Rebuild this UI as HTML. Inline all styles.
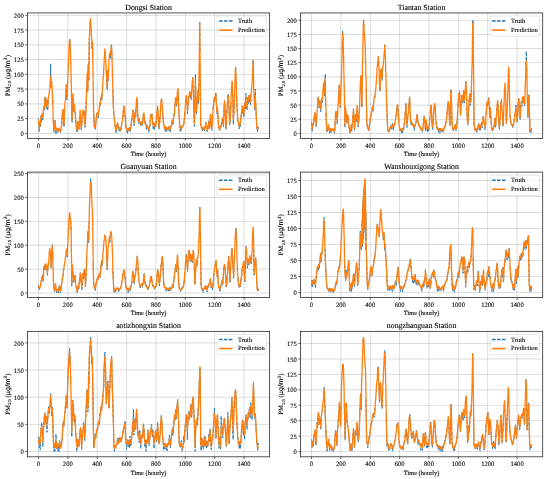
<!DOCTYPE html>
<html><head><meta charset="utf-8"><title>PM2.5 prediction</title>
<style>
html,body{margin:0;padding:0;background:#fff;width:550px;height:479px;overflow:hidden}
svg{display:block;text-rendering:geometricPrecision}
text{stroke:#000;stroke-width:0.1px}
.gr{stroke:#b0b0b0;stroke-width:0.5;opacity:0.9}
.fr{fill:none;stroke:#2a2a2a;stroke-width:0.8}
.tk{stroke:#2a2a2a;stroke-width:0.7}
.tl{font-family:"Liberation Serif",serif;font-size:6.6px;fill:#000}
.xl{font-family:"Liberation Serif",serif;font-size:6.35px;fill:#000}
.lt{font-family:"Liberation Serif",serif;font-size:6.5px;fill:#000}
.tt{font-family:"Liberation Serif",serif;font-size:7.8px;fill:#000}
.yl{font-family:"Liberation Serif",serif;font-size:6.8px;fill:#000}
.mu{font-family:"DejaVu Sans",sans-serif;font-size:6.4px}
.mu3{font-family:"DejaVu Sans",sans-serif;font-size:4.5px}
.lg{fill:#fff;fill-opacity:0.8;stroke:#ccc;stroke-width:0.5}
</style></head><body>
<svg width="550" height="479" viewBox="0 0 550 479">
<rect width="550" height="479" fill="#fff"/>
<clipPath id="c0"><rect x="27.44" y="12.95" width="242.2" height="125.45"/></clipPath>
<line x1="38.45" y1="12.95" x2="38.45" y2="138.4" class="gr"/>
<line x1="67.82" y1="12.95" x2="67.82" y2="138.4" class="gr"/>
<line x1="97.19" y1="12.95" x2="97.19" y2="138.4" class="gr"/>
<line x1="126.56" y1="12.95" x2="126.56" y2="138.4" class="gr"/>
<line x1="155.93" y1="12.95" x2="155.93" y2="138.4" class="gr"/>
<line x1="185.3" y1="12.95" x2="185.3" y2="138.4" class="gr"/>
<line x1="214.67" y1="12.95" x2="214.67" y2="138.4" class="gr"/>
<line x1="244.04" y1="12.95" x2="244.04" y2="138.4" class="gr"/>
<line x1="27.44" y1="133.4" x2="269.64" y2="133.4" class="gr"/>
<line x1="27.44" y1="118.64" x2="269.64" y2="118.64" class="gr"/>
<line x1="27.44" y1="103.88" x2="269.64" y2="103.88" class="gr"/>
<line x1="27.44" y1="89.12" x2="269.64" y2="89.12" class="gr"/>
<line x1="27.44" y1="74.36" x2="269.64" y2="74.36" class="gr"/>
<line x1="27.44" y1="59.6" x2="269.64" y2="59.6" class="gr"/>
<line x1="27.44" y1="44.84" x2="269.64" y2="44.84" class="gr"/>
<line x1="27.44" y1="30.08" x2="269.64" y2="30.08" class="gr"/>
<line x1="27.44" y1="15.32" x2="269.64" y2="15.32" class="gr"/>
<g clip-path="url(#c0)">
<polyline points="38.45,118.86 38.6,121.66 38.74,123.25 38.89,125.35 39.04,128.66 39.18,131.41 39.33,128.53 39.48,126.58 39.62,123.9 39.77,123.15 39.92,121.98 40.07,123.98 40.21,125 40.36,126.49 40.51,124.72 40.65,120.46 40.8,118.23 40.95,117.66 41.09,115.57 41.24,117.5 41.39,118.61 41.53,121.48 41.68,120.16 41.83,118.23 41.97,116.61 42.12,114.28 42.27,115.26 42.41,115.31 42.56,115.66 42.71,118.82 42.86,119.83 43,115.91 43.15,113.79 43.3,111.48" fill="none" stroke="#1f77b4" stroke-width="1.0" stroke-linejoin="round" stroke-dasharray="3.5 1.5"/>
<polyline points="43.74,109.05 43.88,106.6 44.03,105.65 44.18,106.95 44.32,108.1 44.47,108.71 44.62,109.91 44.76,104.83 44.91,100.81 45.06,96.92 45.21,99.34 45.35,99.76 45.5,102.11 45.65,105.6 45.79,103.92 45.94,100.98 46.09,98.91 46.23,100.48 46.38,102.24 46.53,106.99 46.67,108.85 46.82,106.43 46.97,103.04 47.11,102 47.26,100.81 47.41,103.18 47.55,106.44 47.7,110.4 47.85,106.72 48,103.76 48.14,99.95 48.29,97.59 48.44,97.14 48.58,97.11" fill="none" stroke="#1f77b4" stroke-width="1.0" stroke-linejoin="round" stroke-dasharray="3.5 1.5"/>
<polyline points="50.2,86.87 50.34,79.78 50.49,71.06 50.64,63.89 50.79,70.37 50.93,77.83 51.08,84.24 51.23,87.41 51.37,85.21 51.52,82.7 51.67,81.2" fill="none" stroke="#1f77b4" stroke-width="1.0" stroke-linejoin="round" stroke-dasharray="3.5 1.5"/>
<polyline points="52.4,94.6 52.55,96.4 52.69,100.11 52.84,104.22" fill="none" stroke="#1f77b4" stroke-width="1.0" stroke-linejoin="round" stroke-dasharray="3.5 1.5"/>
<polyline points="53.28,121.77 53.43,124.07 53.58,127.48 53.72,130.31 53.87,132.31 54.02,130.4 54.16,128.65 54.31,127.04 54.46,126.36 54.6,125.49 54.75,123.83 54.9,122.42 55.04,120.17 55.19,123.84 55.34,127.16 55.48,130.52 55.63,133.22 55.78,131.55 55.93,130.57 56.07,128.86 56.22,128.23 56.37,128.35 56.51,130.14 56.66,130.9 56.81,132.28 56.95,133.22 57.1,131.91 57.25,130.7 57.39,129.89 57.54,129.34 57.69,129.4 57.83,130.65 57.98,129.54 58.13,129.8 58.27,131.93 58.42,131.97 58.57,131.49 58.72,130.37 58.86,130 59.01,129.12 59.16,129.79 59.3,128.98 59.45,129.83 59.6,129.83 59.74,129.35 59.89,128.87 60.04,129.97 60.18,130.22 60.33,131.53 60.48,132.69 60.62,131.91 60.77,130.68 60.92,129.72 61.06,127.9" fill="none" stroke="#1f77b4" stroke-width="1.0" stroke-linejoin="round" stroke-dasharray="3.5 1.5"/>
<polyline points="61.51,125.48 61.65,124.58 61.8,123.39 61.95,122.4 62.09,118.44 62.24,116.03 62.39,113.17 62.53,111.28 62.68,111.61 62.83,110.9 62.97,109.35 63.12,111.58 63.27,115.59 63.41,117.81 63.56,118.67 63.71,122.16 63.86,125 64,127.19 64.15,123.08 64.3,118.51 64.44,114.18 64.59,110.34" fill="none" stroke="#1f77b4" stroke-width="1.0" stroke-linejoin="round" stroke-dasharray="3.5 1.5"/>
<polyline points="65.91,92.02 66.06,89.97 66.2,86.94 66.35,84.61 66.5,86.85 66.65,90.74 66.79,96.19 66.94,99.85 67.09,95 67.23,91.29 67.38,86.59" fill="none" stroke="#1f77b4" stroke-width="1.0" stroke-linejoin="round" stroke-dasharray="3.5 1.5"/>
<polyline points="69.58,39.62 69.73,39.25 69.88,39.64 70.02,42.67 70.17,47.16" fill="none" stroke="#1f77b4" stroke-width="1.0" stroke-linejoin="round" stroke-dasharray="3.5 1.5"/>
<polyline points="71.49,94.49 71.64,101.18 71.78,108.53 71.93,114.98 72.08,122.36 72.23,109.7 72.37,97.76 72.52,97.3" fill="none" stroke="#1f77b4" stroke-width="1.0" stroke-linejoin="round" stroke-dasharray="3.5 1.5"/>
<polyline points="73.25,99.16 73.4,101.37 73.55,105.65 73.69,111.59 73.84,109.31 73.99,107.97" fill="none" stroke="#1f77b4" stroke-width="1.0" stroke-linejoin="round" stroke-dasharray="3.5 1.5"/>
<polyline points="74.43,106.21 74.58,107.5 74.72,109 74.87,111.64 75.02,113.16 75.16,113.83 75.31,113.4 75.46,115.77 75.6,118.92 75.75,120.89 75.9,122.47 76.04,125.03 76.19,126.37 76.34,126.91 76.48,127.07 76.63,128.66 76.78,129.89 76.92,132.01 77.07,130.61 77.22,131.34 77.37,129.41 77.51,129.17 77.66,128.78 77.81,126.77 77.95,122.65 78.1,120.77 78.25,121.96 78.39,124.68 78.54,126.83 78.69,130.47 78.83,129.45 78.98,126.48 79.13,124.83" fill="none" stroke="#1f77b4" stroke-width="1.0" stroke-linejoin="round" stroke-dasharray="3.5 1.5"/>
<polyline points="79.42,123.15 79.57,119.93 79.71,117.85" fill="none" stroke="#1f77b4" stroke-width="1.0" stroke-linejoin="round" stroke-dasharray="3.5 1.5"/>
<polyline points="80.01,113.22 80.16,112.52 80.3,110.19 80.45,113.79 80.6,117.9 80.74,122.65 80.89,124.28 81.04,126.61 81.18,128.83 81.33,130.17 81.48,128.15 81.62,126.06 81.77,124.57 81.92,123.04 82.06,119.53 82.21,118.18" fill="none" stroke="#1f77b4" stroke-width="1.0" stroke-linejoin="round" stroke-dasharray="3.5 1.5"/>
<polyline points="82.95,111.37 83.09,113.11 83.24,113.01 83.39,115.68 83.53,113.56 83.68,112.77 83.83,112.6 83.97,110.6 84.12,112.62 84.27,113.74 84.41,117.3 84.56,118.78 84.71,121.44 84.85,125.64 85,127.32 85.15,123.7 85.3,120.9 85.44,117.43 85.59,114.35 85.74,114.28 85.88,111.78 86.03,109.11 86.18,103.28 86.32,100.19 86.47,94.23" fill="none" stroke="#1f77b4" stroke-width="1.0" stroke-linejoin="round" stroke-dasharray="3.5 1.5"/>
<polyline points="87.35,75.73 87.5,82.7 87.64,87.96 87.79,91.65 87.94,83.04 88.09,72.48 88.23,64.72 88.38,67.79 88.53,70.71 88.67,75.91 88.82,80.98 88.97,68.39 89.11,53.43 89.26,38.96" fill="none" stroke="#1f77b4" stroke-width="1.0" stroke-linejoin="round" stroke-dasharray="3.5 1.5"/>
<polyline points="89.99,26.04 90.14,22.05 90.29,23.34 90.43,18.48 90.58,18.36" fill="none" stroke="#1f77b4" stroke-width="1.0" stroke-linejoin="round" stroke-dasharray="3.5 1.5"/>
<polyline points="91.46,35.88 91.61,39.67 91.76,42.24 91.9,48.76 92.05,48.89 92.2,44.77 92.34,43.47 92.49,42 92.64,50.12 92.78,58.45" fill="none" stroke="#1f77b4" stroke-width="1.0" stroke-linejoin="round" stroke-dasharray="3.5 1.5"/>
<polyline points="93.37,99.06 93.52,109.34 93.67,113.05 93.81,115.42 93.96,119.05 94.11,123.66 94.25,125.95 94.4,126.56 94.55,127.22 94.69,126.63 94.84,125.46 94.99,127.6 95.13,128.25 95.28,129.99 95.43,128.42 95.57,125.63 95.72,123.47 95.87,122.83 96.02,120.69 96.16,119.82 96.31,117.63 96.46,116.82 96.6,116.39 96.75,115.94 96.9,116.05 97.04,114.35 97.19,112.75 97.34,113.94 97.48,112.42 97.63,113.31 97.78,113.15 97.92,114.52 98.07,116.78 98.22,117.8 98.36,114.58 98.51,113.93 98.66,111.63 98.81,110.68 98.95,109.57" fill="none" stroke="#1f77b4" stroke-width="1.0" stroke-linejoin="round" stroke-dasharray="3.5 1.5"/>
<polyline points="99.39,107.4 99.54,105.89 99.69,104.49 99.83,102.5 99.98,102.53 100.13,104.53 100.27,106.62 100.42,104.67 100.57,101.26 100.71,99.8 100.86,98.76 101.01,98.52 101.15,96.92 101.3,96.97 101.45,95.13 101.6,97.28 101.74,99.51 101.89,100.18 102.04,98.43 102.18,94.08 102.33,91.11" fill="none" stroke="#1f77b4" stroke-width="1.0" stroke-linejoin="round" stroke-dasharray="3.5 1.5"/>
<polyline points="106.74,79.35 106.88,84.19 107.03,85.47 107.18,89.8 107.32,82.71 107.47,74.82 107.62,70.1 107.76,72.38 107.91,75.67 108.06,77.05 108.2,80.91 108.35,76.35 108.5,70.92 108.64,70" fill="none" stroke="#1f77b4" stroke-width="1.0" stroke-linejoin="round" stroke-dasharray="3.5 1.5"/>
<polyline points="109.82,53.81 109.97,55.02 110.11,56.96 110.26,58.53 110.41,56.96 110.55,53.27 110.7,50.4" fill="none" stroke="#1f77b4" stroke-width="1.0" stroke-linejoin="round" stroke-dasharray="3.5 1.5"/>
<polyline points="111.14,48.9 111.29,45.81 111.43,47.61 111.58,44.72 111.73,49.72 111.88,53.89 112.02,59.15" fill="none" stroke="#1f77b4" stroke-width="1.0" stroke-linejoin="round" stroke-dasharray="3.5 1.5"/>
<polyline points="112.9,90.23 113.05,96.86 113.2,101.36 113.34,106.9 113.49,109.28 113.64,110.96 113.78,113.25 113.93,115.28 114.08,116.99" fill="none" stroke="#1f77b4" stroke-width="1.0" stroke-linejoin="round" stroke-dasharray="3.5 1.5"/>
<polyline points="114.96,125.05 115.11,126.24 115.25,126.2 115.4,127.34 115.55,128.49 115.69,130.11 115.84,130.3 115.99,132.09 116.13,132.48 116.28,133.22 116.43,131.24 116.57,129.46 116.72,127.51 116.87,127.89 117.01,126.18 117.16,124.97 117.31,124.46 117.46,124.76 117.6,123.57 117.75,124.62 117.9,125.74 118.04,125.98 118.19,126.02 118.34,126.47 118.48,127.12 118.63,127.58 118.78,127.96 118.92,129.43 119.07,131.12 119.22,130.76 119.36,128.93 119.51,127.92 119.66,127.79 119.8,128.7 119.95,127.63 120.1,129.35 120.25,130.01 120.39,131.22 120.54,130.26 120.69,129.71 120.83,129.06 120.98,127.98 121.13,128.16 121.27,127.63 121.42,126.21 121.57,125.85" fill="none" stroke="#1f77b4" stroke-width="1.0" stroke-linejoin="round" stroke-dasharray="3.5 1.5"/>
<polyline points="122.6,117.53 122.74,117.56 122.89,116.51 123.04,114.98 123.18,112.99 123.33,110.25 123.48,109.94 123.62,108.48 123.77,106.84 123.92,105.83 124.06,106.51 124.21,107.23 124.36,108.38 124.5,109.4" fill="none" stroke="#1f77b4" stroke-width="1.0" stroke-linejoin="round" stroke-dasharray="3.5 1.5"/>
<polyline points="124.94,114.67 125.09,116.8 125.24,117.7 125.39,120.74 125.53,122.56 125.68,123.9 125.83,126.49 125.97,128.08 126.12,129.16 126.27,128.7 126.41,128.69 126.56,129.11 126.71,129.43 126.85,130.42 127,130.99 127.15,132.03 127.29,131.88 127.44,133.17 127.59,131.94 127.73,130.28 127.88,129.2 128.03,128.68 128.18,128.41 128.32,128.04 128.47,128.12 128.62,128.78 128.76,130.02 128.91,131.62 129.06,129.79 129.2,129.44 129.35,127.53 129.5,127.99 129.64,127.66 129.79,128.12 129.94,128.79 130.08,130.11 130.23,132.2 130.38,130.84 130.52,129.67 130.67,128.17 130.82,128.26 130.97,126.89 131.11,124.93 131.26,122.73 131.41,122.91 131.55,122.07 131.7,120.33 131.85,119.97 131.99,118.24 132.14,116.65 132.29,115.8 132.43,113.84 132.58,113.59 132.73,112.93 132.87,111.24 133.02,110.18 133.17,112.27 133.32,113.05 133.46,114.66 133.61,115.08 133.76,118.09 133.9,121.85 134.05,125.78 134.2,123.36 134.34,119.21 134.49,118.42" fill="none" stroke="#1f77b4" stroke-width="1.0" stroke-linejoin="round" stroke-dasharray="3.5 1.5"/>
<polyline points="134.93,114.69 135.08,112.93 135.22,111.87 135.37,113.23 135.52,115.66 135.66,118.18 135.81,114.84 135.96,110.13 136.11,107.17" fill="none" stroke="#1f77b4" stroke-width="1.0" stroke-linejoin="round" stroke-dasharray="3.5 1.5"/>
<polyline points="136.84,98.96 136.99,99.69 137.13,99.83 137.28,101.28 137.43,106.69 137.57,113.06 137.72,113.67 137.87,116.08 138.01,117.38 138.16,120.21 138.31,121.04 138.45,121.79 138.6,121.52 138.75,123.59 138.9,122.07 139.04,120.23 139.19,118.54 139.34,118.58 139.48,119.99 139.63,120.8 139.78,120.89 139.92,122.06 140.07,122.2 140.22,123.34 140.36,122.53 140.51,123.65 140.66,125.12 140.8,126.09 140.95,124.2 141.1,123.16 141.25,121.77 141.39,121.72 141.54,121.22 141.69,121.93 141.83,123.28 141.98,123.65 142.13,124.72 142.27,125.81 142.42,123.85 142.57,123.56 142.71,121.34 142.86,121.53 143.01,119.29 143.15,119.15 143.3,115.94 143.45,114.64" fill="none" stroke="#1f77b4" stroke-width="1.0" stroke-linejoin="round" stroke-dasharray="3.5 1.5"/>
<polyline points="144.18,116.32 144.33,117.69 144.48,120.17 144.62,120.75 144.77,122.29 144.92,121.44 145.06,122.37 145.21,123.13 145.36,121.71 145.5,122.4 145.65,123.06 145.8,123.98 145.94,123.97 146.09,126.17 146.24,127.27 146.38,129.15 146.53,129.11 146.68,126.53 146.83,126.7 146.97,126.5 147.12,125.24" fill="none" stroke="#1f77b4" stroke-width="1.0" stroke-linejoin="round" stroke-dasharray="3.5 1.5"/>
<polyline points="148.15,128.93 148.29,129.46 148.44,130.79 148.59,132.49 148.73,131.24 148.88,130.75 149.03,128.64 149.17,129.39 149.32,128.49 149.47,128.43 149.62,126.83 149.76,126.31 149.91,124.64 150.06,122.86 150.2,121.8 150.35,119.67 150.5,117.98 150.64,116.86 150.79,116.27 150.94,113.89 151.08,114.85 151.23,115.2 151.38,117.52 151.52,117.98 151.67,115.86 151.82,115.65 151.97,113.74 152.11,114.74 152.26,117.26 152.41,119.53 152.55,121.36 152.7,123.52 152.85,124.31 152.99,127.71 153.14,128.59 153.29,127.13 153.43,124.08 153.58,123.67 153.73,124.14 153.87,125.93 154.02,128.13 154.17,130.2 154.31,128.2 154.46,126.17 154.61,124.56 154.76,125.02" fill="none" stroke="#1f77b4" stroke-width="1.0" stroke-linejoin="round" stroke-dasharray="3.5 1.5"/>
<polyline points="155.34,124.51 155.49,126.06 155.64,126.86 155.78,125.65 155.93,123.12 156.08,122.4 156.22,120.73 156.37,118.7 156.52,117.16 156.66,115.4 156.81,113.58 156.96,112.83 157.1,111.84 157.25,109.27 157.4,107.63 157.55,106.54 157.69,108.24 157.84,111.11 157.99,111.71 158.13,113.59 158.28,116.96 158.43,119.65 158.57,122.07 158.72,123.45 158.87,127.29 159.01,129.11 159.16,127.88 159.31,124.74 159.45,123.1 159.6,122.58 159.75,120.75 159.89,118.93 160.04,116.74 160.19,115.72 160.34,112.49 160.48,110.28" fill="none" stroke="#1f77b4" stroke-width="1.0" stroke-linejoin="round" stroke-dasharray="3.5 1.5"/>
<polyline points="161.07,103.31 161.22,100.67 161.36,99.34 161.51,100.65 161.66,98.85 161.8,101.67" fill="none" stroke="#1f77b4" stroke-width="1.0" stroke-linejoin="round" stroke-dasharray="3.5 1.5"/>
<polyline points="162.24,106.07 162.39,107.13 162.54,110.78 162.69,112.7 162.83,115.07 162.98,118.45 163.13,119.25 163.27,122.05 163.42,122.9" fill="none" stroke="#1f77b4" stroke-width="1.0" stroke-linejoin="round" stroke-dasharray="3.5 1.5"/>
<polyline points="164.45,127.51 164.59,127.24 164.74,127.31 164.89,129.45 165.03,130.43 165.18,131.77 165.33,130.62 165.48,129.44 165.62,128.36 165.77,127.81 165.92,127.73 166.06,127.69 166.21,128.99 166.36,129 166.5,130.12 166.65,131.41 166.8,130.08 166.94,130.24 167.09,129.19 167.24,129.78 167.38,128.53 167.53,128.19 167.68,128.44 167.82,129.13 167.97,130.15 168.12,130.42 168.27,128.59 168.41,126.75 168.56,126.46 168.71,125.97 168.85,126.49 169,126.41 169.15,128.17" fill="none" stroke="#1f77b4" stroke-width="1.0" stroke-linejoin="round" stroke-dasharray="3.5 1.5"/>
<polyline points="169.59,128.5 169.73,130.16 169.88,131.01 170.03,131.22 170.17,132.73 170.32,131.27 170.47,129.06 170.62,128.62 170.76,128.17 170.91,126.84 171.06,125.74 171.2,125.31 171.35,124.8 171.5,125.37 171.64,124.63 171.79,124.52 171.94,121.71 172.08,120.54 172.23,119.93 172.38,121.36 172.52,122.06 172.67,121.7 172.82,123.38 172.96,125.22 173.11,123.2 173.26,120.33 173.41,118.75 173.55,117.58 173.7,117.34" fill="none" stroke="#1f77b4" stroke-width="1.0" stroke-linejoin="round" stroke-dasharray="3.5 1.5"/>
<polyline points="173.99,115.15 174.14,116.08 174.29,113.43 174.43,112.47 174.58,110.92 174.73,106.74 174.87,105.74 175.02,103.57 175.17,102.67" fill="none" stroke="#1f77b4" stroke-width="1.0" stroke-linejoin="round" stroke-dasharray="3.5 1.5"/>
<polyline points="176.05,97.19 176.2,98.9 176.34,104.64 176.49,106.78 176.64,104.75 176.78,101.41 176.93,101.17" fill="none" stroke="#1f77b4" stroke-width="1.0" stroke-linejoin="round" stroke-dasharray="3.5 1.5"/>
<polyline points="178.54,104.34 178.69,105.88 178.84,110.2 178.99,113.02 179.13,115.67 179.28,117.21 179.43,120.34 179.57,122.41 179.72,125.07 179.87,126.26 180.01,129.92 180.16,131.31 180.31,130.5 180.45,129.21 180.6,128.21" fill="none" stroke="#1f77b4" stroke-width="1.0" stroke-linejoin="round" stroke-dasharray="3.5 1.5"/>
<polyline points="181.19,127.13 181.34,127.71 181.48,129.02 181.63,130.27 181.78,128.49 181.92,126.95 182.07,125.91 182.22,126.86 182.36,126.27" fill="none" stroke="#1f77b4" stroke-width="1.0" stroke-linejoin="round" stroke-dasharray="3.5 1.5"/>
<polyline points="182.8,125.84 182.95,125.41 183.1,125.2" fill="none" stroke="#1f77b4" stroke-width="1.0" stroke-linejoin="round" stroke-dasharray="3.5 1.5"/>
<polyline points="183.39,125.45 183.54,124.76 183.68,123.91 183.83,123.35 183.98,121.97 184.13,120.11 184.27,119.57 184.42,118.38 184.57,116.51 184.71,114.25 184.86,113.57 185.01,111.34" fill="none" stroke="#1f77b4" stroke-width="1.0" stroke-linejoin="round" stroke-dasharray="3.5 1.5"/>
<polyline points="186.92,101.82 187.06,102.37 187.21,105.01 187.36,109.13 187.5,113.94 187.65,110.81 187.8,108.59 187.94,105.13" fill="none" stroke="#1f77b4" stroke-width="1.0" stroke-linejoin="round" stroke-dasharray="3.5 1.5"/>
<polyline points="189.56,92.37 189.71,91.8 189.85,92.87 190,95.72 190.15,98.05 190.29,95.51 190.44,94.05 190.59,92.15 190.73,91.98 190.88,93.5 191.03,98.01 191.17,99.65 191.32,97.18 191.47,93.91 191.61,91.59" fill="none" stroke="#1f77b4" stroke-width="1.0" stroke-linejoin="round" stroke-dasharray="3.5 1.5"/>
<polyline points="192.64,79.64 192.79,77.57 192.94,81.39" fill="none" stroke="#1f77b4" stroke-width="1.0" stroke-linejoin="round" stroke-dasharray="3.5 1.5"/>
<polyline points="193.38,90.15 193.52,96.86 193.67,103.12 193.82,111.68 193.96,114.95 194.11,119.56 194.26,123.58 194.4,126.52 194.55,119.61 194.7,113.94 194.85,107.55 194.99,101.5 195.14,92.65 195.29,82.5 195.43,74.21 195.58,82.26 195.73,89.65 195.87,96.42 196.02,100.65 196.17,103.76 196.31,108.98 196.46,114.56 196.61,111.42 196.75,109.43 196.9,104.86 197.05,103.9 197.19,101.45 197.34,98.96" fill="none" stroke="#1f77b4" stroke-width="1.0" stroke-linejoin="round" stroke-dasharray="3.5 1.5"/>
<polyline points="198.08,90.17 198.22,93.7 198.37,100.03 198.52,103.27 198.66,95.7 198.81,86.84 198.96,79.69" fill="none" stroke="#1f77b4" stroke-width="1.0" stroke-linejoin="round" stroke-dasharray="3.5 1.5"/>
<polyline points="199.54,36.64 199.69,22.09 199.84,37.03 199.99,51" fill="none" stroke="#1f77b4" stroke-width="1.0" stroke-linejoin="round" stroke-dasharray="3.5 1.5"/>
<polyline points="200.43,92.4 200.57,108.97 200.72,122.89 200.87,124.6 201.01,125.5 201.16,126.35 201.31,126.52 201.45,127.27 201.6,128.93 201.75,129.14 201.89,128.83 202.04,128.33 202.19,127.62 202.33,128.75 202.48,130.03 202.63,130.87 202.78,129.37 202.92,128.45 203.07,128.42 203.22,128.24 203.36,127.5 203.51,128.35 203.66,129.5 203.8,128.85 203.95,129.37 204.1,128.98 204.24,129.78 204.39,128.85 204.54,129.44 204.68,130.53 204.83,129.82 204.98,127.19" fill="none" stroke="#1f77b4" stroke-width="1.0" stroke-linejoin="round" stroke-dasharray="3.5 1.5"/>
<polyline points="205.57,124.29 205.71,123.01 205.86,122.15 206.01,122.36 206.15,124.02 206.3,124.36 206.45,126.06 206.59,126.23 206.74,127.32 206.89,128.14 207.03,130.39 207.18,131.71 207.33,130.95 207.47,128.94 207.62,128.64 207.77,128.19 207.91,127.59 208.06,127.22 208.21,125.42 208.36,124.12 208.5,123.72 208.65,122.23 208.8,122 208.94,121.09 209.09,120.5 209.24,122.22 209.38,125.8 209.53,128.41 209.68,125.41 209.82,122.02 209.97,120.1" fill="none" stroke="#1f77b4" stroke-width="1.0" stroke-linejoin="round" stroke-dasharray="3.5 1.5"/>
<polyline points="210.26,117.21 210.41,115.41 210.56,113.95 210.71,114.07 210.85,118.22 211,122.66 211.15,126.21 211.29,127.05 211.44,127.4 211.59,129.8 211.73,130.77 211.88,129.38 212.03,126.17 212.17,125.55 212.32,123.94 212.47,121 212.61,116.75" fill="none" stroke="#1f77b4" stroke-width="1.0" stroke-linejoin="round" stroke-dasharray="3.5 1.5"/>
<polyline points="213.05,109.14 213.2,107.75 213.35,105.34 213.5,105.7 213.64,103.02 213.79,102.23 213.94,101.45 214.08,99.04 214.23,99.43 214.38,97.04 214.52,97.71 214.67,101.08 214.82,101.85 214.96,100 215.11,99.08 215.26,97.58" fill="none" stroke="#1f77b4" stroke-width="1.0" stroke-linejoin="round" stroke-dasharray="3.5 1.5"/>
<polyline points="215.55,96.27 215.7,95.43 215.84,92.22 215.99,95.63 216.14,98.6 216.29,99.16 216.43,102.55 216.58,107.13 216.73,109.41 216.87,114.04 217.02,113.14 217.17,110.67 217.31,108.19 217.46,107.54 217.61,109.44 217.75,112.79 217.9,114.38 218.05,116.01 218.19,119.38 218.34,121.98 218.49,125.57 218.63,126.66 218.78,127.88 218.93,129.27 219.08,129.01 219.22,129.08 219.37,129.01 219.52,129.73 219.66,129.67 219.81,130.43 219.96,129.23 220.1,127.45 220.25,126.96 220.4,125.89 220.54,126 220.69,126.41 220.84,125.54 220.98,125.42 221.13,125.54 221.28,124.36 221.43,125.08 221.57,125.03 221.72,124.08 221.87,123.28 222.01,121.25 222.16,120.61 222.31,118.44 222.45,118.46 222.6,120.8 222.75,120.91 222.89,122 223.04,123.37 223.19,123.58 223.33,124.79 223.48,126.82 223.63,121.73 223.77,117.1 223.92,112.09 224.07,108.99 224.22,105.29 224.36,104.21 224.51,100.76 224.66,102.86 224.8,105.84 224.95,108.34 225.1,110.17 225.24,114.68 225.39,116.46 225.54,120.16 225.68,123.92 225.83,125.56 225.98,129.52 226.12,127.44 226.27,124.08 226.42,121.89" fill="none" stroke="#1f77b4" stroke-width="1.0" stroke-linejoin="round" stroke-dasharray="3.5 1.5"/>
<polyline points="226.86,113.29 227.01,111.91 227.15,108.12" fill="none" stroke="#1f77b4" stroke-width="1.0" stroke-linejoin="round" stroke-dasharray="3.5 1.5"/>
<polyline points="227.45,102.88 227.59,100.67 227.74,100.68 227.89,97.21 228.03,94.52 228.18,93.64 228.33,96.24 228.47,99.72" fill="none" stroke="#1f77b4" stroke-width="1.0" stroke-linejoin="round" stroke-dasharray="3.5 1.5"/>
<polyline points="228.91,106.49 229.06,108.36 229.21,112.09 229.36,115.29 229.5,120.8 229.65,125.02 229.8,124.09 229.94,121.37 230.09,120.29 230.24,119.22 230.38,116.51 230.53,112.45 230.68,110.85 230.82,107.71 230.97,102.54" fill="none" stroke="#1f77b4" stroke-width="1.0" stroke-linejoin="round" stroke-dasharray="3.5 1.5"/>
<polyline points="232.73,94.25 232.88,98.79 233.03,106.66 233.17,115.01 233.32,124.41 233.47,120.09 233.61,117.2 233.76,114.86 233.91,112.98 234.05,108.73 234.2,105.68" fill="none" stroke="#1f77b4" stroke-width="1.0" stroke-linejoin="round" stroke-dasharray="3.5 1.5"/>
<polyline points="235.38,72.26 235.52,66.97 235.67,67.98 235.82,70.3" fill="none" stroke="#1f77b4" stroke-width="1.0" stroke-linejoin="round" stroke-dasharray="3.5 1.5"/>
<polyline points="236.4,88.55 236.55,93.52 236.7,98.78 236.84,101.54 236.99,107.34 237.14,109.4 237.28,112.13 237.43,115.16 237.58,117.2 237.73,118.35 237.87,119.62 238.02,120.7 238.17,122.47 238.31,122.36 238.46,122.68 238.61,123.42 238.75,124.63 238.9,125.27 239.05,127.26 239.19,128.91 239.34,126.55 239.49,125.35 239.63,123.1 239.78,123.68 239.93,124.46 240.08,125.82 240.22,126.86 240.37,123.66 240.52,121.34 240.66,120.05 240.81,117.77 240.96,117.73 241.1,116.23 241.25,114.77 241.4,114.55 241.54,112.09" fill="none" stroke="#1f77b4" stroke-width="1.0" stroke-linejoin="round" stroke-dasharray="3.5 1.5"/>
<polyline points="242.13,106.32 242.28,105.83 242.42,106.32 242.57,109.18 242.72,111.55 242.87,114.54 243.01,111.91 243.16,109.33 243.31,108.16 243.45,110.08 243.6,111.35 243.75,115.58 243.89,117.33 244.04,113.73 244.19,110.83 244.33,108.01 244.48,106.99 244.63,104.6 244.77,104.83 244.92,102.36 245.07,102.46 245.21,104.31 245.36,107.82 245.51,108.87 245.66,103.19 245.8,99.02 245.95,93.4 246.1,96.13 246.24,101.18 246.39,101.71 246.54,104.28 246.68,105.38 246.83,108.37 246.98,110.34 247.12,107.93 247.27,104.94 247.42,103.69" fill="none" stroke="#1f77b4" stroke-width="1.0" stroke-linejoin="round" stroke-dasharray="3.5 1.5"/>
<polyline points="247.86,98.32 248,97.01 248.15,97.65 248.3,99.35 248.45,102.37 248.59,103.45 248.74,100.22 248.89,96.67 249.03,95.54 249.18,96 249.33,99.78 249.47,101.72 249.62,99.92 249.77,96.49 249.91,95.46 250.06,95.18 250.21,97.59 250.35,100.92 250.5,104.62 250.65,100.76 250.8,99.23 250.94,96.62 251.09,94.1 251.24,93.24 251.38,92.33 251.53,89.79" fill="none" stroke="#1f77b4" stroke-width="1.0" stroke-linejoin="round" stroke-dasharray="3.5 1.5"/>
<polyline points="253,64.31 253.14,59.91 253.29,68.67 253.44,73.1" fill="none" stroke="#1f77b4" stroke-width="1.0" stroke-linejoin="round" stroke-dasharray="3.5 1.5"/>
<polyline points="254.47,103.7 254.61,106.4 254.76,110.09 254.91,103.67 255.05,96.15 255.2,89.07 255.35,93.08 255.49,99.59 255.64,102.24 255.79,103.83 255.93,108.67 256.08,111.06 256.23,116.38 256.38,118.63 256.52,122.77 256.67,124.91 256.82,127.8 256.96,127.95 257.11,129.12 257.26,130.06 257.4,131.79 257.55,129.63 257.7,128.84 257.84,126.53 257.99,127.19 258.14,126.99 258.28,127.82 258.43,128.76 258.58,128.86" fill="none" stroke="#1f77b4" stroke-width="1.0" stroke-linejoin="round" stroke-dasharray="3.5 1.5"/>
<polyline points="38.45,119.82 38.6,122.27 38.74,123.45 38.89,124.65 39.04,126.55 39.18,128.68 39.33,127.1 39.48,126.43 39.62,124.6 39.77,123.89 39.92,122.77 40.07,124.14 40.21,124.03 40.36,124.54 40.51,123.73 40.65,120.41 40.8,118.71 40.95,118.26 41.09,116.28 41.24,117.65 41.39,117.71 41.53,119.23 41.68,118.5 41.83,117.24 41.97,115.9 42.12,113.92 42.27,114.95 42.41,115.07 42.56,115.08 42.71,117.34 42.86,117.46 43,114.54 43.15,113.4 43.3,111.56 43.44,109.59 43.59,108.7 43.74,109.15 43.88,106.96 44.03,106.24 44.18,107.57 44.32,108.29 44.47,107.81 44.62,108.01 44.76,103.8 44.91,100.76 45.06,97.39 45.21,99.66 45.35,99.46 45.5,100.77 45.65,103.29 45.79,102.57 45.94,100.67 46.09,99.16 46.23,100.58 46.38,101.7 46.53,105.38 46.67,106.24 46.82,104.78 46.97,102.43 47.11,101.98 47.26,100.93 47.41,102.75 47.55,104.99 47.7,108.01 47.85,105.34 48,103.22 48.14,99.81 48.29,97.39 48.44,96.87 48.58,96.92 48.73,95.1 48.88,95.61 49.02,94.93 49.17,93.53 49.32,91.69 49.46,90.47 49.61,90.3 49.76,88.28 49.9,88.08 50.05,88.38 50.2,86.76 50.34,82.14 50.49,78.36 50.64,76.13 50.79,77.65 50.93,79.71 51.08,82.73 51.23,84.99 51.37,83.83 51.52,82.37 51.67,81.44 51.81,84.75 51.96,85.34 52.11,87.02 52.25,90.3 52.4,94.77 52.55,96.71 52.69,100.4 52.84,104.47 52.99,111.03 53.14,116.82 53.28,121.59 53.43,123.63 53.58,126.52 53.72,128.56 53.87,130.45 54.02,129.42 54.16,128.54 54.31,127.54 54.46,127.02 54.6,126.32 54.75,124.85 54.9,123.68 55.04,121 55.19,124.08 55.34,126.27 55.48,128.04 55.63,130.45 55.78,129.5 55.93,129.75 56.07,128.86 56.22,128.09 56.37,127.82 56.51,129.2 56.66,129.15 56.81,129.78 56.95,130.45 57.1,129.83 57.25,129.78 57.39,129.31 57.54,128.7 57.69,128.68 57.83,129.6 57.98,128.89 58.13,129.12 58.27,130.84 58.42,130.45 58.57,130.35 58.72,129.69 58.86,129.36 59.01,128.09 59.16,129.05 59.3,128.56 59.45,129.78 59.6,130.22 59.74,129.86 59.89,129.48 60.04,130.73 60.18,130.85 60.33,131.32 60.48,131.63 60.62,130.94 60.77,129.82 60.92,129.31 61.06,127.71 61.21,126.91 61.36,126.28 61.51,125.42 61.65,124.25 61.8,122.82 61.95,121.59 62.09,117.78 62.24,115.48 62.39,112.74 62.53,110.94 62.68,111.48 62.83,111.06 62.97,109.78 63.12,112.08 63.27,115.94 63.41,118.05 63.56,118.85 63.71,121.8 63.86,123.79 64,125.13 64.15,122.03 64.3,118.44 64.44,114.51 64.59,110.59 64.74,107.47 64.88,105.51 65.03,102.7 65.18,102.05 65.32,101.31 65.47,99.81 65.62,97.39 65.76,95.58 65.91,92.26 66.06,90.3 66.2,87.27 66.35,84.99 66.5,87.04 66.65,90.27 66.79,94.69 66.94,97.39 67.09,93.51 67.23,90.76 67.38,86.52 67.53,83.81 67.67,81.27 67.82,75.15 67.97,73.18 68.11,72.09 68.26,67.25 68.41,64.91 68.55,61.15 68.7,55.07 68.85,51.92 68.99,50.75 69.14,44.95 69.29,46.1 69.44,41.3 69.58,39.86 69.73,39.61 69.88,40.12 70.02,43.04 70.17,47.41 70.32,49.46 70.46,51.92 70.61,56.46 70.76,61.68 70.9,64.91 71.05,74.34 71.2,81.44 71.34,86.93 71.49,94.3 71.64,100.93 71.78,107.76 71.93,113.25 72.08,119.82 72.23,108.3 72.37,97.39 72.52,97.48 72.67,95.38 72.81,94.5 72.96,93.84 73.11,97.25 73.25,99.09 73.4,100.93 73.55,104.48 73.69,109.78 73.84,108.27 73.99,107.78 74.13,106.05 74.28,104.47 74.43,106.19 74.58,107.23 74.72,108.52 74.87,110.96 75.02,112.47 75.16,113.14 75.31,112.74 75.46,115.07 75.6,118.14 75.75,120.06 75.9,121.59 76.04,124.09 76.19,125.87 76.34,126.91 76.48,127.58 76.63,129.36 76.78,129.45 76.92,130.45 77.07,129.33 77.22,130.33 77.37,128.96 77.51,128.89 77.66,128.68 77.81,126.89 77.95,123.13 78.1,121.59 78.25,122.93 78.39,125.35 78.54,126.23 78.69,128.68 78.83,128.29 78.98,125.97 79.13,124.88 79.27,125.12 79.42,123.36 79.57,120.2 79.71,118.07 79.86,116.28 80.01,113.43 80.16,112.82 80.3,110.37 80.45,113.6 80.6,117.29 80.74,121.59 80.89,123.64 81.04,125.97 81.18,127.75 81.33,128.68 81.48,127.29 81.62,125.84 81.77,124.54 81.92,122.74 82.06,119.27 82.21,117.93 82.36,114.51 82.5,112.98 82.65,111.33 82.8,109.78 82.95,111.19 83.09,112.27 83.24,111.11 83.39,112.74 83.53,111.52 83.68,111.66 83.83,112.45 83.97,110.96 84.12,113.27 84.27,114.72 84.41,118.05 84.56,119.3 84.71,121.23 84.85,124.21 85,125.13 85.15,122.63 85.3,120.93 85.44,118.05 85.59,114.97 85.74,114.96 85.88,112.46 86.03,109.78 86.18,103.74 86.32,100.53 86.47,94.43 86.62,90.76 86.76,86.52 86.91,80.48 87.06,76.79 87.2,73.18 87.35,75.74 87.5,82.12 87.64,86.39 87.79,89.12 87.94,81.55 88.09,72.07 88.23,64.91 88.38,67.88 88.53,70.2 88.67,74.38 88.82,78.49 88.97,66.84 89.11,52.87 89.26,38.94 89.41,37.63 89.55,34.7 89.7,30.18 89.85,28.31 89.99,26.22 90.14,22.31 90.29,23.66 90.43,18.86 90.58,18.57 90.73,24.09 90.88,24.18 91.02,25.95 91.17,28.44 91.32,35.17 91.46,35.98 91.61,39.34 91.76,41 91.9,46.61 92.05,47.68 92.2,44.56 92.34,43.84 92.49,42.48 92.64,50.45 92.78,58.63 92.93,64.91 93.08,77.19 93.23,88.04 93.37,99.31 93.52,109.78 93.67,113.63 93.81,115.75 93.96,119.09 94.11,123.36 94.25,125.27 94.4,126.32 94.55,127.44 94.69,127.31 94.84,126.58 94.99,128.05 95.13,127.51 95.28,128.09 95.43,127.22 95.57,125.2 95.72,123.36 95.87,122.57 96.02,120.3 96.16,119.37 96.31,117.14 96.46,116.28 96.6,115.8 96.75,115.59 96.9,115.96 97.04,114.51 97.19,113.19 97.34,114.32 97.48,112.74 97.63,113.33 97.78,112.87 97.92,113.89 98.07,115.4 98.22,115.69 98.36,113.59 98.51,113.85 98.66,111.97 98.81,110.96 98.95,109.81 99.1,108.49 99.25,108.01 99.39,107.19 99.54,105.6 99.69,104.46 99.83,102.7 99.98,102.25 100.13,103.3 100.27,104.47 100.42,103.54 100.57,101.12 100.71,100.18 100.86,99.16 101.01,98.94 101.15,97.39 101.3,97.58 101.45,95.61 101.6,96.98 101.74,97.93 101.89,97.39 102.04,96.75 102.18,93.52 102.33,91.14 102.48,90.3 102.62,86.35 102.77,85.26 102.92,81.44 103.06,78.24 103.21,78.44 103.36,75.5 103.5,74.36 103.65,71.37 103.8,69.13 103.95,65.7 104.09,63.73 104.24,59.3 104.39,57.07 104.53,54.84 104.68,50.45 104.83,48.97 104.97,49.61 105.12,52.79 105.27,52.01 105.41,55.97 105.56,57.24 105.71,61.66 105.85,60.82 106,63.59 106.15,67.87 106.29,70.89 106.44,73.32 106.59,77.31 106.74,79.19 106.88,83.59 107.03,83.94 107.18,87.35 107.32,81.24 107.47,74.39 107.62,70.23 107.76,72.37 107.91,75.11 108.06,75.53 108.2,78.49 108.35,74.92 108.5,70.41 108.64,69.94 108.79,64.91 108.94,61.86 109.08,58.63 109.23,59.07 109.38,57.09 109.53,53.11 109.67,53.73 109.82,53.67 109.97,54.35 110.11,55.35 110.26,56.06 110.41,55.52 110.55,52.85 110.7,50.53 110.85,51.31 110.99,50.59 111.14,48.97 111.29,46.22 111.43,48.76 111.58,46.61 111.73,50.93 111.88,54.42 112.02,59.23 112.17,64.91 112.32,69.12 112.46,74.46 112.61,80.31 112.76,83.81 112.9,90.3 113.05,97.16 113.2,101.52 113.34,106.83 113.49,108.91 113.64,110.28 113.78,112.74 113.93,114.96 114.08,116.9 114.22,118.15 114.37,119.55 114.52,121.54 114.67,123.36 114.81,123.57 114.96,125.18 115.11,126.54 115.25,126.66 115.4,127.98 115.55,128.68 115.69,129.82 115.84,129.55 115.99,130.38 116.13,129.87 116.28,130.45 116.43,128.72 116.57,127.93 116.72,126.47 116.87,126.83 117.01,125.13 117.16,123.94 117.31,123.47 117.46,123.84 117.6,122.77 117.75,123.65 117.9,125.02 118.04,125.59 118.19,126.04 118.34,126.91 118.48,127.45 118.63,127.8 118.78,127.61 118.92,128.02 119.07,128.68 119.22,129.18 119.36,128.26 119.51,127.76 119.66,128.09 119.8,129.23 119.95,128.38 120.1,129.95 120.25,129.62 120.39,129.86 120.54,129.82 120.69,130.18 120.83,129.86 120.98,128.63 121.13,128.68 121.27,128.01 121.42,126.52 121.57,126.09 121.71,124.22 121.86,123.36 122.01,121.66 122.15,121.11 122.3,120.96 122.45,119.82 122.6,117.49 122.74,117.29 122.89,116.03 123.04,114.32 123.18,112.74 123.33,110.36 123.48,110.39 123.62,109.32 123.77,107.44 123.92,106.24 124.06,106.51 124.21,106.82 124.36,108.01 124.5,109.16 124.65,110.88 124.8,113.08 124.94,114.51 125.09,116.41 125.24,117.08 125.39,119.83 125.53,121.59 125.68,122.88 125.83,125.39 125.97,126.91 126.12,128.1 126.27,127.8 126.41,127.93 126.56,128.49 126.71,128.68 126.85,129.52 127,129.95 127.15,130.48 127.29,129.76 127.44,130.45 127.59,130.05 127.73,129.22 127.88,128.78 128.03,128.61 128.18,128.68 128.32,128.42 128.47,128.48 128.62,128.7 128.76,129.09 128.91,129.86 129.06,128.91 129.2,129.52 129.35,128.14 129.5,128.68 129.64,128.37 129.79,128.87 129.94,129.16 130.08,129.69 130.23,130.45 130.38,129.62 130.52,129 130.67,127.59 130.82,127.98 130.97,126.91 131.11,125.23 131.26,123.28 131.41,123.09 131.55,121.89 131.7,119.82 131.85,119.14 131.99,117.81 132.14,116.62 132.29,116.13 132.43,114.51 132.58,113.88 132.73,112.92 132.87,111.03 133.02,109.78 133.17,111.77 133.32,112.47 133.46,114.03 133.61,114.51 133.76,117.19 133.9,120.18 134.05,123.36 134.2,122.11 134.34,118.84 134.49,118.48 134.64,116.28 134.78,114.54 134.93,114.93 135.08,113.49 135.22,112.74 135.37,113.72 135.52,114.93 135.66,116.28 135.81,113.68 135.96,109.72 136.11,107.13 136.25,104.47 136.4,101.96 136.55,99.79 136.69,97.39 136.84,98.84 136.99,99.4 137.13,99.44 137.28,100.93 137.43,106.34 137.57,112.74 137.72,113.46 137.87,115.81 138.01,117.06 138.16,119.82 138.31,120.6 138.45,121.14 138.6,120.2 138.75,121.59 138.9,121.29 139.04,120.55 139.19,119.55 139.34,119.82 139.48,121.26 139.63,121.97 139.78,122.01 139.92,123.22 140.07,123.36 140.22,124.41 140.36,123.45 140.51,123.98 140.66,124.39 140.8,124.54 140.95,123.7 141.1,123.72 141.25,122.97 141.39,122.49 141.54,121.59 141.69,121.67 141.83,122.38 141.98,122.51 142.13,122.92 142.27,123.36 142.42,122.64 142.57,123.04 142.71,121.06 142.86,121 143.01,118.57 143.15,118.63 143.3,115.63 143.45,114.51 143.59,113.91 143.74,113.1 143.89,114.23 144.04,112.74 144.18,116.08 144.33,117.37 144.48,119.82 144.62,120.45 144.77,122.05 144.92,121.51 145.06,122.77 145.21,123.87 145.36,122.76 145.5,123.29 145.65,123.78 145.8,124.54 145.94,124.35 146.09,125.8 146.24,125.67 146.38,126.32 146.53,126.92 146.68,125.4 146.83,126.17 146.97,126.17 147.12,125.13 147.27,125.26 147.41,127.09 147.56,126.66 147.71,126.71 147.85,128.09 148,128.37 148.15,128.71 148.29,128.71 148.44,129.1 148.59,129.86 148.73,129.56 148.88,130.01 149.03,128.16 149.17,128.68 149.32,127.58 149.47,127.3 149.62,126.26 149.76,126.28 149.91,125.13 150.06,123.86 150.2,122.47 150.35,120.02 150.5,118.05 150.64,116.73 150.79,116.52 150.94,114.51 151.08,115.61 151.23,115.63 151.38,116.88 151.52,116.28 151.67,115.04 151.82,115.81 151.97,114.51 152.11,115.44 152.26,117.91 152.41,120.19 152.55,121.59 152.7,123.28 152.85,123.12 152.99,125.05 153.14,125.13 153.29,124.85 153.43,123.04 153.58,123.36 153.73,123.65 153.87,124.76 154.02,125.87 154.17,126.91 154.31,125.99 154.46,125.05 154.61,124.1 154.76,124.81 154.9,123.36 155.05,122.99 155.2,123.2 155.34,124.28 155.49,125.08 155.64,125.13 155.78,125.06 155.93,123.65 156.08,123.35 156.22,121.59 156.37,119.47 156.52,117.86 156.66,115.8 156.81,113.72 156.96,112.74 157.1,111.52 157.25,108.92 157.4,107.31 157.55,106.24 157.69,107.68 157.84,110.39 157.99,110.96 158.13,112.84 158.28,116.17 158.43,119 158.57,121.59 158.72,122.71 158.87,125.82 159.01,126.91 159.16,126.84 159.31,124.84 159.45,123.86 159.6,123.36 159.75,121.54 159.89,119.71 160.04,117.5 160.19,116.28 160.34,112.82 160.48,110.44 160.63,108.01 160.78,105.69 160.92,104.45 161.07,103.53 161.22,100.93 161.36,99.57 161.51,100.92 161.66,99.16 161.8,101.77 161.95,102.52 162.1,104.79 162.24,106.24 162.39,107.41 162.54,110.82 162.69,112.46 162.83,114.51 162.98,117.51 163.13,118.55 163.27,121.59 163.42,122.74 163.57,122.96 163.71,123.82 163.86,125.13 164.01,125.58 164.15,126.52 164.3,125.38 164.45,127.36 164.59,126.91 164.74,126.79 164.89,128.38 165.03,128.35 165.18,128.68 165.33,128.42 165.48,128.1 165.62,127.46 165.77,126.96 165.92,126.91 166.06,127.19 166.21,128.82 166.36,128.89 166.5,129.78 166.65,129.86 166.8,128.73 166.94,129.08 167.09,127.97 167.24,128.93 167.38,128.09 167.53,127.89 167.68,128.29 167.82,128.73 167.97,129.08 168.12,128.68 168.27,128.06 168.41,127.13 168.56,127.36 168.71,126.91 168.85,127.23 169,126.85 169.15,128.38 169.29,128.57 169.44,128.68 169.59,128.27 169.73,129.85 169.88,130.15 170.03,129.35 170.17,129.86 170.32,129.3 170.47,127.99 170.62,127.97 170.76,127.88 170.91,126.91 171.06,126.15 171.2,126.06 171.35,125.26 171.5,125.56 171.64,124.54 171.79,124.17 171.94,121.41 172.08,120.34 172.23,119.82 172.38,121.09 172.52,121.76 172.67,120.97 172.82,121.79 172.96,122.77 173.11,121.81 173.26,119.97 173.41,118.96 173.55,117.88 173.7,117.46 173.85,115.66 173.99,114.92 174.14,115.68 174.29,113.38 174.43,112.74 174.58,111.48 174.73,107.49 174.87,106.24 175.02,103.83 175.17,102.73 175.31,101.53 175.46,99.75 175.61,98.67 175.75,99.1 175.9,97.48 176.05,97.39 176.2,98.55 176.34,103.27 176.49,104.47 176.64,103.41 176.78,101.04 176.93,101.31 177.08,99.16 177.22,96.61 177.37,92.37 177.52,90.3 177.66,89.65 177.81,90.11 177.96,89.26 178.1,88.53 178.25,94.22 178.4,99.13 178.54,104.47 178.69,106.27 178.84,110.94 178.99,113.71 179.13,116.28 179.28,117.71 179.43,120.73 179.57,122.65 179.72,125.13 179.87,125.67 180.01,128.18 180.16,128.68 180.31,128.87 180.45,128.58 180.6,128.17 180.75,128.01 180.89,126.91 181.04,127.71 181.19,126.9 181.34,127.29 181.48,128.01 181.63,128.68 181.78,128.18 181.92,127.31 182.07,126.47 182.22,127.17 182.36,126.32 182.51,125.61 182.66,126.39 182.8,125.64 182.95,125.13 183.1,125.09 183.24,124.91 183.39,125.66 183.54,125.13 183.68,124.23 183.83,123.63 183.98,122.21 184.13,120.3 184.27,119.82 184.42,118.69 184.57,116.87 184.71,114.65 184.86,113.88 185.01,111.56 185.15,108.32 185.3,107.25 185.45,104.47 185.59,103.19 185.74,101.39 185.89,99.28 186.03,97.39 186.18,96.93 186.33,96.46 186.47,95.61 186.62,97.61 186.77,99.95 186.92,102.04 187.06,102.7 187.21,104.77 187.36,107.83 187.5,111.56 187.65,109.23 187.8,108.05 187.94,105.14 188.09,104.47 188.24,103.62 188.38,102.07 188.53,98.04 188.68,97.39 188.82,96.68 188.97,96.09 189.12,95.61 189.26,94.68 189.41,93.24 189.56,92.5 189.71,92.07 189.85,92.58 190,94.4 190.15,95.61 190.29,93.94 190.44,93.39 190.59,92.03 190.73,92.07 190.88,93.08 191.03,96.62 191.17,97.39 191.32,95.76 191.47,93.37 191.61,91.47 191.76,90.3 191.91,88.25 192.06,85.59 192.2,82.47 192.35,81.44 192.5,81.16 192.64,79.83 192.79,77.9 192.94,81.62 193.08,85.18 193.23,86.91 193.38,90.3 193.52,97.16 193.67,103.28 193.82,111.56 193.96,114.44 194.11,117.99 194.26,121.18 194.4,123.36 194.55,118.05 194.7,113.9 194.85,108.01 194.99,101.86 195.14,93.94 195.29,85.83 195.43,79.67 195.58,85.62 195.73,90.96 195.87,96.83 196.02,100.93 196.17,103.34 196.31,107.31 196.46,111.56 196.61,109.72 196.75,109 196.9,105.17 197.05,104.47 197.19,101.85 197.34,99.21 197.49,97.39 197.64,95.16 197.78,93.69 197.93,92.32 198.08,90.3 198.22,93.11 198.37,98.48 198.52,100.93 198.66,94.47 198.81,86.57 198.96,79.81 199.1,72.59 199.25,60.03 199.4,47.23 199.54,36.75 199.69,22.4 199.84,37.3 199.99,51.23 200.13,62.55 200.28,77.21 200.43,92.56 200.57,109.28 200.72,123.36 200.87,125.1 201.01,126.03 201.16,126.91 201.31,126.63 201.45,126.96 201.6,128.16 201.75,127.92 201.89,128.09 202.04,128.07 202.19,127.83 202.33,128.97 202.48,129.05 202.63,128.68 202.78,127.87 202.92,127.64 203.07,127.95 203.22,127.7 203.36,126.91 203.51,127.44 203.66,128.59 203.8,128.02 203.95,128.68 204.1,128.43 204.24,129.63 204.39,128.75 204.54,129.05 204.68,129.86 204.83,129.54 204.98,127.29 205.12,126.18 205.27,125.44 205.42,124.54 205.57,124.45 205.71,123.4 205.86,122.77 206.01,122.98 206.15,124.65 206.3,125.06 206.45,126.91 206.59,126.95 206.74,127.92 206.89,128.14 207.03,129.32 207.18,129.86 207.33,130.22 207.47,129.3 207.62,129.65 207.77,129.24 207.91,128.68 208.06,128.35 208.21,126.57 208.36,125.09 208.5,124.54 208.65,122.89 208.8,122.59 208.94,121.92 209.09,121.59 209.24,122.88 209.38,125.61 209.53,126.91 209.68,124.48 209.82,121.7 209.97,119.95 210.12,118.05 210.26,117.4 210.41,115.8 210.56,114.59 210.71,114.51 210.85,118.2 211,122.11 211.15,125.13 211.29,126.29 211.44,126.51 211.59,128.3 211.73,128.68 211.88,127.99 212.03,125.5 212.17,125.13 212.32,123.33 212.47,120.6 212.61,116.54 212.76,114.51 212.91,111.99 213.05,109.32 213.2,108.01 213.35,105.67 213.5,106.12 213.64,103.45 213.79,102.7 213.94,101.95 214.08,99.6 214.23,99.88 214.38,97.39 214.52,97.27 214.67,99.33 214.82,99.16 214.96,98.31 215.11,98.38 215.26,97.41 215.4,97.39 215.55,96.46 215.7,96.33 215.84,93.84 215.99,96.59 216.14,98.91 216.29,99.21 216.43,102.7 216.58,106.74 216.73,107.98 216.87,111.56 217.02,111.49 217.17,110.17 217.31,108.42 217.46,108.01 217.61,109.94 217.75,113.17 217.9,114.67 218.05,116.28 218.19,119.63 218.34,121.91 218.49,125.13 218.63,125.85 218.78,126.69 218.93,128.19 219.08,128.09 219.22,128.31 219.37,128.39 219.52,129.04 219.66,128.45 219.81,128.68 219.96,128.84 220.1,127.99 220.25,127.99 220.4,126.91 220.54,127.03 220.69,127.39 220.84,126.44 220.98,126.26 221.13,126.32 221.28,124.82 221.43,125.24 221.57,124.89 221.72,123.66 221.87,122.77 222.01,120.74 222.16,120.14 222.31,118.05 222.45,118.03 222.6,120.3 222.75,120.43 222.89,121.59 223.04,123.21 223.19,123.22 223.33,123.76 223.48,125.13 223.63,121 223.77,117.31 223.92,112.74 224.07,109.63 224.22,105.67 224.36,104.46 224.51,100.93 224.66,102.69 224.8,105.56 224.95,108.01 225.1,109.88 225.24,114.4 225.39,116.16 225.54,119.82 225.68,123.07 225.83,123.75 225.98,126.91 226.12,125.94 226.27,123.68 226.42,122.11 226.56,119.82 226.71,117.32 226.86,113.1 227.01,111.61 227.15,108.01 227.3,105.45 227.45,103.04 227.59,100.93 227.74,100.74 227.89,97.57 228.03,95.7 228.18,95.61 228.33,97.33 228.47,99.94 228.62,100.93 228.77,104.37 228.91,106.65 229.06,108.73 229.21,112.74 229.36,115.77 229.5,120.24 229.65,123.36 229.8,123.15 229.94,121.15 230.09,120.72 230.24,119.82 230.38,117.24 230.53,113.24 230.68,111.39 230.82,108.01 230.97,102.64 231.12,97.87 231.26,93.84 231.41,90.36 231.56,89.27 231.7,85.9 231.85,83.22 232,81.41 232.15,82.72 232.29,81.44 232.44,87.11 232.59,91.58 232.73,94.36 232.88,99.16 233.03,106.08 233.17,112.45 233.32,119.82 233.47,117.18 233.61,116.12 233.76,114.66 233.91,112.74 234.05,108.47 234.2,105.5 234.35,103.66 234.49,99.16 234.64,93.9 234.79,87.03 234.94,81.44 235.08,78.81 235.23,72.69 235.38,72.39 235.52,67.28 235.67,68.23 235.82,70.49 235.96,74.36 236.11,79.6 236.26,84.52 236.4,88.75 236.55,93.84 236.7,99.23 236.84,102.07 236.99,108.01 237.14,109.75 237.28,112.11 237.43,114.71 237.58,116.28 237.73,117.44 237.87,118.72 238.02,119.81 238.17,121.59 238.31,121.75 238.46,122.34 238.61,123.36 238.75,124.86 238.9,124.88 239.05,125.77 239.19,126.32 239.34,124.81 239.49,124.85 239.63,123.36 239.78,123.99 239.93,124.36 240.08,124.58 240.22,124.54 240.37,122.16 240.52,120.66 240.66,119.82 240.81,117.54 240.96,117.47 241.1,115.95 241.25,114.51 241.4,114.29 241.54,111.86 241.69,111.08 241.84,109.78 241.98,108.91 242.13,106.54 242.28,106.24 242.42,106.7 242.57,109.08 242.72,110.56 242.87,112.74 243.01,110.73 243.16,108.89 243.31,108.01 243.45,109.47 243.6,110.27 243.75,113.56 243.89,114.51 244.04,112.02 244.19,110.22 244.33,108.01 244.48,107.11 244.63,104.89 244.77,105.14 244.92,102.7 245.07,102.59 245.21,103.75 245.36,106.19 245.51,106.24 245.66,102.33 245.8,100.73 245.95,97.39 246.1,98.57 246.24,102.09 246.39,101.93 246.54,104.47 246.68,105.04 246.83,107.05 246.98,108.01 247.12,106.53 247.27,104.46 247.42,103.66 247.56,100.93 247.71,98.5 247.86,98.55 248,97.39 248.15,97.95 248.3,98.98 248.45,100.9 248.59,100.93 248.74,98.63 248.89,96.17 249.03,95.61 249.18,95.47 249.33,98.13 249.47,99.16 249.62,98.4 249.77,96.08 249.91,95.72 250.06,95.61 250.21,97.51 250.35,99.88 250.5,102.7 250.65,99.54 250.8,98.77 250.94,96.47 251.09,93.84 251.24,92.97 251.38,92.07 251.53,89.58 251.68,88.53 251.82,87.64 251.97,83.44 252.12,81.44 252.26,79.17 252.41,75.84 252.56,72.59 252.7,70.73 252.85,65.19 253,64.39 253.14,60.19 253.29,68.92 253.44,73.32 253.59,81.44 253.73,87.26 253.88,90.89 254.03,93.36 254.17,99.16 254.32,102.22 254.47,103.49 254.61,105.3 254.76,108.01 254.91,103.74 255.05,99.68 255.2,95.61 255.35,97.13 255.49,101.2 255.64,102.71 255.79,104.47 255.93,109.15 256.08,111.28 256.23,116.28 256.38,118.14 256.52,122.15 256.67,124.16 256.82,126.91 256.96,126.95 257.11,127.72 257.26,127.81 257.4,128.68 257.55,127.63 257.7,128.26 257.84,126.91 257.99,127.81 258.14,127.86 258.28,128.1 258.43,128.51 258.58,128.09" fill="none" stroke="#ff7f0e" stroke-width="1.3" stroke-linejoin="round"/>
</g>
<rect x="27.44" y="12.95" width="242.2" height="125.45" class="fr"/>
<line x1="38.45" y1="138.4" x2="38.45" y2="140.6" class="tk"/>
<text x="38.45" y="147.8" class="tl" text-anchor="middle">0</text>
<line x1="67.82" y1="138.4" x2="67.82" y2="140.6" class="tk"/>
<text x="67.82" y="147.8" class="tl" text-anchor="middle">200</text>
<line x1="97.19" y1="138.4" x2="97.19" y2="140.6" class="tk"/>
<text x="97.19" y="147.8" class="tl" text-anchor="middle">400</text>
<line x1="126.56" y1="138.4" x2="126.56" y2="140.6" class="tk"/>
<text x="126.56" y="147.8" class="tl" text-anchor="middle">600</text>
<line x1="155.93" y1="138.4" x2="155.93" y2="140.6" class="tk"/>
<text x="155.93" y="147.8" class="tl" text-anchor="middle">800</text>
<line x1="185.3" y1="138.4" x2="185.3" y2="140.6" class="tk"/>
<text x="185.3" y="147.8" class="tl" text-anchor="middle">1000</text>
<line x1="214.67" y1="138.4" x2="214.67" y2="140.6" class="tk"/>
<text x="214.67" y="147.8" class="tl" text-anchor="middle">1200</text>
<line x1="244.04" y1="138.4" x2="244.04" y2="140.6" class="tk"/>
<text x="244.04" y="147.8" class="tl" text-anchor="middle">1400</text>
<line x1="25.24" y1="133.4" x2="27.44" y2="133.4" class="tk"/>
<text x="23.74" y="136" class="tl" text-anchor="end">0</text>
<line x1="25.24" y1="118.64" x2="27.44" y2="118.64" class="tk"/>
<text x="23.74" y="121.24" class="tl" text-anchor="end">25</text>
<line x1="25.24" y1="103.88" x2="27.44" y2="103.88" class="tk"/>
<text x="23.74" y="106.48" class="tl" text-anchor="end">50</text>
<line x1="25.24" y1="89.12" x2="27.44" y2="89.12" class="tk"/>
<text x="23.74" y="91.72" class="tl" text-anchor="end">75</text>
<line x1="25.24" y1="74.36" x2="27.44" y2="74.36" class="tk"/>
<text x="23.74" y="76.96" class="tl" text-anchor="end">100</text>
<line x1="25.24" y1="59.6" x2="27.44" y2="59.6" class="tk"/>
<text x="23.74" y="62.2" class="tl" text-anchor="end">125</text>
<line x1="25.24" y1="44.84" x2="27.44" y2="44.84" class="tk"/>
<text x="23.74" y="47.44" class="tl" text-anchor="end">150</text>
<line x1="25.24" y1="30.08" x2="27.44" y2="30.08" class="tk"/>
<text x="23.74" y="32.68" class="tl" text-anchor="end">175</text>
<line x1="25.24" y1="15.32" x2="27.44" y2="15.32" class="tk"/>
<text x="23.74" y="17.92" class="tl" text-anchor="end">200</text>
<text x="148.54" y="9.85" class="tt" text-anchor="middle">Dongsi Station</text>
<text x="148.54" y="156.2" class="xl" text-anchor="middle">Time (hourly)</text>
<text transform="translate(10.14,75.67) rotate(-90)" class="yl" text-anchor="middle">PM<tspan font-size="4.6" dy="1.3">2.5</tspan><tspan dy="-1.3"> (</tspan><tspan class="mu">&#956;g/m</tspan><tspan class="mu3" dy="-2.7">3</tspan><tspan dy="2.7">)</tspan></text>
<rect x="217.14" y="15.95" width="49.2" height="20.3" rx="1.3" class="lg"/>
<line x1="219.04" y1="21.05" x2="232.44" y2="21.05" stroke="#1f77b4" stroke-width="1.6" stroke-dasharray="3.6 1.3"/>
<line x1="219.04" y1="30.15" x2="232.44" y2="30.15" stroke="#ff7f0e" stroke-width="1.6"/>
<text x="237.94" y="23.15" class="lt">Truth</text>
<text x="237.94" y="31.95" class="lt">Prediction</text>
<clipPath id="c1"><rect x="300.5" y="12.95" width="242.2" height="125.45"/></clipPath>
<line x1="311.5" y1="12.95" x2="311.5" y2="138.4" class="gr"/>
<line x1="340.87" y1="12.95" x2="340.87" y2="138.4" class="gr"/>
<line x1="370.24" y1="12.95" x2="370.24" y2="138.4" class="gr"/>
<line x1="399.61" y1="12.95" x2="399.61" y2="138.4" class="gr"/>
<line x1="428.98" y1="12.95" x2="428.98" y2="138.4" class="gr"/>
<line x1="458.35" y1="12.95" x2="458.35" y2="138.4" class="gr"/>
<line x1="487.72" y1="12.95" x2="487.72" y2="138.4" class="gr"/>
<line x1="517.09" y1="12.95" x2="517.09" y2="138.4" class="gr"/>
<line x1="300.5" y1="133.4" x2="542.7" y2="133.4" class="gr"/>
<line x1="300.5" y1="119.26" x2="542.7" y2="119.26" class="gr"/>
<line x1="300.5" y1="105.12" x2="542.7" y2="105.12" class="gr"/>
<line x1="300.5" y1="90.98" x2="542.7" y2="90.98" class="gr"/>
<line x1="300.5" y1="76.84" x2="542.7" y2="76.84" class="gr"/>
<line x1="300.5" y1="62.7" x2="542.7" y2="62.7" class="gr"/>
<line x1="300.5" y1="48.56" x2="542.7" y2="48.56" class="gr"/>
<line x1="300.5" y1="34.42" x2="542.7" y2="34.42" class="gr"/>
<line x1="300.5" y1="20.28" x2="542.7" y2="20.28" class="gr"/>
<g clip-path="url(#c1)">
<polyline points="311.65,123.08 311.79,125.32 311.94,126 312.09,128.56 312.23,131.48 312.38,129.65 312.53,127.44 312.67,126.77" fill="none" stroke="#1f77b4" stroke-width="1.0" stroke-linejoin="round" stroke-dasharray="3.5 1.5"/>
<polyline points="313.12,125.01 313.26,123.99 313.41,124.2 313.56,123.05 313.7,120.64 313.85,120.75 314,119.45 314.14,118.57 314.29,116.64 314.44,115.63 314.58,115.57 314.73,114.42 314.88,113.73 315.02,112.39 315.17,113.79 315.32,115.92 315.46,117.88 315.61,118.98 315.76,120.86 315.91,122.95 316.05,125.5 316.2,127.03 316.35,122.93 316.49,119.69 316.64,116.7" fill="none" stroke="#1f77b4" stroke-width="1.0" stroke-linejoin="round" stroke-dasharray="3.5 1.5"/>
<polyline points="317.96,100.41 318.11,96.94 318.26,97.95" fill="none" stroke="#1f77b4" stroke-width="1.0" stroke-linejoin="round" stroke-dasharray="3.5 1.5"/>
<polyline points="318.7,100.46 318.84,103.78 318.99,104.75 319.14,107.86 319.28,106.81 319.43,103.23 319.58,102.37 319.72,100.12 319.87,102.26 320.02,102.9" fill="none" stroke="#1f77b4" stroke-width="1.0" stroke-linejoin="round" stroke-dasharray="3.5 1.5"/>
<polyline points="320.31,103.98 320.46,107.08 320.6,108.58 320.75,111.77 320.9,108.74 321.05,106.87 321.19,103.92 321.34,102.5" fill="none" stroke="#1f77b4" stroke-width="1.0" stroke-linejoin="round" stroke-dasharray="3.5 1.5"/>
<polyline points="321.93,98.49 322.07,101 322.22,100.91 322.37,103.13 322.51,98.61 322.66,94.62 322.81,91.65" fill="none" stroke="#1f77b4" stroke-width="1.0" stroke-linejoin="round" stroke-dasharray="3.5 1.5"/>
<polyline points="323.98,82.9 324.13,85.97 324.28,92.54 324.42,95.86 324.57,91.37 324.72,87.16 324.86,83.5 325.01,80.55 325.16,76.35 325.3,74 325.45,87.92 325.6,99.77 325.74,105.54" fill="none" stroke="#1f77b4" stroke-width="1.0" stroke-linejoin="round" stroke-dasharray="3.5 1.5"/>
<polyline points="326.04,113.28 326.19,116.91 326.33,120.44 326.48,124.9 326.63,126.15 326.77,127.03 326.92,130.72 327.07,132.64 327.21,130.86 327.36,129.9 327.51,129.66 327.65,129.43 327.8,128.09 327.95,126.73 328.09,125.81 328.24,125.61 328.39,124.59 328.53,126.92 328.68,127.49 328.83,127.47 328.98,128.81 329.12,129.35 329.27,128.82 329.42,131.14 329.56,132.92 329.71,133.23 329.86,133.13 330,130.09 330.15,128.98 330.3,129.06 330.44,128.3 330.59,129.46 330.74,129.55 330.88,130.55 331.03,132.47 331.18,132.09 331.32,129.99 331.47,128.96 331.62,129.71 331.77,129.77 331.91,129.89 332.06,129.74 332.21,130.08 332.35,129.4 332.5,128.4 332.65,128.19 332.79,128.64 332.94,128.89 333.09,129.36 333.23,129.27 333.38,128.77 333.53,129.93 333.67,129.5 333.82,129.94 333.97,129.59 334.11,130.61 334.26,131.82 334.41,132.66 334.56,133.23 334.7,130.85 334.85,127.6 335,124.93 335.14,121.65" fill="none" stroke="#1f77b4" stroke-width="1.0" stroke-linejoin="round" stroke-dasharray="3.5 1.5"/>
<polyline points="335.44,115.92 335.58,112.7 335.73,112.51" fill="none" stroke="#1f77b4" stroke-width="1.0" stroke-linejoin="round" stroke-dasharray="3.5 1.5"/>
<polyline points="336.17,111.17 336.32,111.8 336.46,113.49 336.61,114.15 336.76,115.25 336.91,117.89 337.05,121.59 337.2,123.83 337.35,120.61 337.49,117.51 337.64,113.68" fill="none" stroke="#1f77b4" stroke-width="1.0" stroke-linejoin="round" stroke-dasharray="3.5 1.5"/>
<polyline points="338.81,93.59 338.96,91.81 339.11,88.72 339.25,84.33 339.4,85.75 339.55,89.35" fill="none" stroke="#1f77b4" stroke-width="1.0" stroke-linejoin="round" stroke-dasharray="3.5 1.5"/>
<polyline points="339.84,95.48 339.99,98.86 340.14,104.08 340.28,107.74 340.43,102.37 340.58,96.89 340.72,92.93" fill="none" stroke="#1f77b4" stroke-width="1.0" stroke-linejoin="round" stroke-dasharray="3.5 1.5"/>
<polyline points="342.19,49.4 342.34,42.37 342.49,36.14 342.63,30.94 342.78,35.79 342.93,36.31 343.07,40.19" fill="none" stroke="#1f77b4" stroke-width="1.0" stroke-linejoin="round" stroke-dasharray="3.5 1.5"/>
<polyline points="344.39,93.16 344.54,101.15 344.69,113.65 344.83,127.56 344.98,122.9 345.13,116.64 345.28,112.74" fill="none" stroke="#1f77b4" stroke-width="1.0" stroke-linejoin="round" stroke-dasharray="3.5 1.5"/>
<polyline points="345.72,110.45 345.86,112.41 346.01,113.49 346.16,115.93 346.3,117.5 346.45,118.44 346.6,118.52 346.74,120.94 346.89,122.32 347.04,123.46 347.18,120.73 347.33,117.46 347.48,113.97 347.63,114.43 347.77,115.64 347.92,116.36 348.07,117.8 348.21,119.03 348.36,121.9 348.51,123.84 348.65,125.77 348.8,126.59 348.95,127.12 349.09,128.27 349.24,128.2 349.39,128.14 349.53,129.05 349.68,129.28 349.83,130.92 349.97,131.8 350.12,133.23 350.27,131.95 350.42,131.41 350.56,129.18 350.71,128.79 350.86,126.53 351,125.99 351.15,125.03 351.3,126.52 351.44,129.05 351.59,130.48 351.74,131.18 351.88,129.33 352.03,125.84 352.18,124.43 352.32,123.14 352.47,123.19 352.62,121.03 352.76,117.81 352.91,116.33 353.06,114.54 353.21,113.07 353.35,111.39 353.5,108.56 353.65,112.17 353.79,114.84 353.94,117.87 354.09,119.54 354.23,123.81 354.38,127.34 354.53,130.31 354.67,126.5 354.82,123.64 354.97,120.49 355.11,118.92 355.26,118.17 355.41,115.21 355.56,114.28 355.7,114.83 355.85,117.01 356,118.91 356.14,121.93 356.29,118.57 356.44,115.5 356.58,111.29" fill="none" stroke="#1f77b4" stroke-width="1.0" stroke-linejoin="round" stroke-dasharray="3.5 1.5"/>
<polyline points="357.61,114.65 357.76,117.66 357.9,119.9 358.05,122.53 358.2,126.81 358.35,124.2 358.49,122.47 358.64,121.55 358.79,119.12 358.93,118.26 359.08,115.09 359.23,113.42 359.37,110.81 359.52,106.92" fill="none" stroke="#1f77b4" stroke-width="1.0" stroke-linejoin="round" stroke-dasharray="3.5 1.5"/>
<polyline points="360.55,79.53 360.69,77.18 360.84,75.25 360.99,79.55 361.14,85.38" fill="none" stroke="#1f77b4" stroke-width="1.0" stroke-linejoin="round" stroke-dasharray="3.5 1.5"/>
<polyline points="361.43,93.01 361.58,97.01 361.72,102.6 361.87,107.59 362.02,97.41 362.16,88.81 362.31,81.28" fill="none" stroke="#1f77b4" stroke-width="1.0" stroke-linejoin="round" stroke-dasharray="3.5 1.5"/>
<polyline points="363.34,25.77 363.48,21.08 363.63,19.86 363.78,25.23 363.93,23.93" fill="none" stroke="#1f77b4" stroke-width="1.0" stroke-linejoin="round" stroke-dasharray="3.5 1.5"/>
<polyline points="366.28,88.32 366.42,100.25 366.57,110.02 366.72,122.52 366.86,123.1 367.01,124.17 367.16,125.87 367.3,126.63 367.45,127.56 367.6,127.44 367.74,128.14 367.89,128.49 368.04,128.18 368.18,129.27 368.33,129.6 368.48,129.54 368.62,131.45 368.77,131.33 368.92,129.04 369.07,126.52 369.21,126.77 369.36,125.15 369.51,125 369.65,124.76 369.8,122.75 369.95,121.37 370.09,120.9 370.24,118.89 370.39,117.15 370.53,117.58 370.68,116.88 370.83,115.37 370.97,114.37 371.12,114.72" fill="none" stroke="#1f77b4" stroke-width="1.0" stroke-linejoin="round" stroke-dasharray="3.5 1.5"/>
<polyline points="372,108.28 372.15,108.21 372.3,107.07 372.44,106.87 372.59,107.35 372.74,109.71 372.88,111.14 373.03,111.43 373.18,108.6 373.32,106.18 373.47,104.43" fill="none" stroke="#1f77b4" stroke-width="1.0" stroke-linejoin="round" stroke-dasharray="3.5 1.5"/>
<polyline points="374.79,95.32 374.94,96.96 375.09,95.38" fill="none" stroke="#1f77b4" stroke-width="1.0" stroke-linejoin="round" stroke-dasharray="3.5 1.5"/>
<polyline points="378.17,58.45 378.32,56.65 378.46,57.12 378.61,61.49 378.76,64.3 378.9,65.9" fill="none" stroke="#1f77b4" stroke-width="1.0" stroke-linejoin="round" stroke-dasharray="3.5 1.5"/>
<polyline points="379.79,87.73 379.93,88.63 380.08,91.43 380.23,87.03 380.37,79.69" fill="none" stroke="#1f77b4" stroke-width="1.0" stroke-linejoin="round" stroke-dasharray="3.5 1.5"/>
<polyline points="380.81,72.96 380.96,69.74 381.11,68.53 381.25,71.49 381.4,71.66" fill="none" stroke="#1f77b4" stroke-width="1.0" stroke-linejoin="round" stroke-dasharray="3.5 1.5"/>
<polyline points="381.69,74.94 381.84,76.61 381.99,76.85 382.13,80.38 382.28,77.53 382.43,71.69 382.58,68.92" fill="none" stroke="#1f77b4" stroke-width="1.0" stroke-linejoin="round" stroke-dasharray="3.5 1.5"/>
<polyline points="384.63,46.94 384.78,44.89 384.93,48.89" fill="none" stroke="#1f77b4" stroke-width="1.0" stroke-linejoin="round" stroke-dasharray="3.5 1.5"/>
<polyline points="386.39,94.02 386.54,99.93 386.69,103.95 386.83,107.79 386.98,113.57 387.13,116.02 387.27,120.48 387.42,123.29 387.57,125.63 387.72,129.55 387.86,130.45 388.01,130.83 388.16,130.97 388.3,131.61 388.45,132.94 388.6,131.57 388.74,130.76 388.89,131.72 389.04,131.5 389.18,131.1 389.33,131.48 389.48,130.52 389.62,130.61 389.77,129.7 389.92,128.34 390.06,128.18 390.21,127.47 390.36,126.65 390.51,126.27 390.65,126.73 390.8,125.59 390.95,126.51 391.09,127.84 391.24,129.64 391.39,128.18 391.53,127.67 391.68,126.81 391.83,125.7 391.97,124.88 392.12,124.27 392.27,124.82 392.41,123.33 392.56,123.58 392.71,124.07 392.85,125.44 393,127.31 393.15,129.8 393.3,130.51 393.44,128.79 393.59,128.69 393.74,127.39 393.88,126.3 394.03,126.11 394.18,124.91 394.32,124.63 394.47,123.17 394.62,123.79 394.76,123.11" fill="none" stroke="#1f77b4" stroke-width="1.0" stroke-linejoin="round" stroke-dasharray="3.5 1.5"/>
<polyline points="395.35,119.59 395.5,119.69 395.65,117.99" fill="none" stroke="#1f77b4" stroke-width="1.0" stroke-linejoin="round" stroke-dasharray="3.5 1.5"/>
<polyline points="396.09,116.56 396.23,115.71 396.38,114.16 396.53,112.15 396.67,112 396.82,110.96 396.97,107.26 397.11,105.92" fill="none" stroke="#1f77b4" stroke-width="1.0" stroke-linejoin="round" stroke-dasharray="3.5 1.5"/>
<polyline points="397.41,105.81 397.55,105.47 397.7,104.56 397.85,107.76 397.99,109.11 398.14,112.51 398.29,115.22 398.44,115.83 398.58,118.98 398.73,121.31" fill="none" stroke="#1f77b4" stroke-width="1.0" stroke-linejoin="round" stroke-dasharray="3.5 1.5"/>
<polyline points="399.61,128.76 399.76,128.54 399.9,129.55 400.05,130.7 400.2,130.83 400.34,130.1 400.49,129.91 400.64,129.26 400.78,129.35 400.93,129.35 401.08,129.96 401.23,131.83 401.37,133.05 401.52,131.71 401.67,129.96 401.81,129.9 401.96,128.16 402.11,129.01 402.25,130.56 402.4,131.26 402.55,132.19 402.69,133.23 402.84,132.32 402.99,130.55 403.13,129.65 403.28,128.45 403.43,129.29 403.57,128.28 403.72,129.22 403.87,127.19 404.02,126.63 404.16,124.82 404.31,123.91 404.46,122.22 404.6,119.99 404.75,118.96 404.9,117.66 405.04,116.18 405.19,113.63 405.34,111.81 405.48,111.15 405.63,108.36 405.78,106.65 405.92,103.45 406.07,105.75 406.22,110.11 406.37,113.12 406.51,115.83 406.66,120.21 406.81,123.87 406.95,127.53 407.1,125.11 407.25,123.41 407.39,121.07" fill="none" stroke="#1f77b4" stroke-width="1.0" stroke-linejoin="round" stroke-dasharray="3.5 1.5"/>
<polyline points="408.86,106.21 409.01,103.72 409.16,102.86 409.3,100.18 409.45,98.89 409.6,96.44 409.74,99.43 409.89,102.91 410.04,107.17" fill="none" stroke="#1f77b4" stroke-width="1.0" stroke-linejoin="round" stroke-dasharray="3.5 1.5"/>
<polyline points="410.33,114.54 410.48,117.5 410.62,122.11 410.77,122.16 410.92,123.59 411.06,123.31 411.21,125.06 411.36,122.67 411.5,122.89 411.65,121.56 411.8,121.67 411.95,122.34 412.09,123.32 412.24,124.34 412.39,124.51 412.53,125.81 412.68,124.49 412.83,124.73 412.97,124.08 413.12,124.72 413.27,123.89 413.41,124.77 413.56,125.66 413.71,126.9 413.85,127.49 414,128.25 414.15,128.87 414.3,130.6 414.44,128.71 414.59,126.84 414.74,125.87 414.88,126.46 415.03,125.51 415.18,125.73 415.32,125.61 415.47,124.74 415.62,124.4 415.76,123.97 415.91,123.38 416.06,121.74 416.2,121.24 416.35,120.57 416.5,118.92 416.64,117.74 416.79,116.47 416.94,115.47 417.09,114.02 417.23,115.21 417.38,116.34 417.53,117.81 417.67,119 417.82,119.82 417.97,120.61 418.11,122.35 418.26,122.38 418.41,123.45 418.55,123.43 418.7,124.15 418.85,124.6 418.99,125.67" fill="none" stroke="#1f77b4" stroke-width="1.0" stroke-linejoin="round" stroke-dasharray="3.5 1.5"/>
<polyline points="419.43,125.24 419.58,126.32 419.73,126.19" fill="none" stroke="#1f77b4" stroke-width="1.0" stroke-linejoin="round" stroke-dasharray="3.5 1.5"/>
<polyline points="420.17,127.18 420.32,127.44 420.46,128.29 420.61,129.94 420.76,130.09 420.9,129.88 421.05,130.02 421.2,129.64 421.34,130.08 421.49,129.23" fill="none" stroke="#1f77b4" stroke-width="1.0" stroke-linejoin="round" stroke-dasharray="3.5 1.5"/>
<polyline points="421.78,129.31 421.93,129.34 422.08,130.13 422.22,131.05 422.37,132.15 422.52,131.07 422.67,128.35 422.81,127.13 422.96,126.46 423.11,126.33 423.25,124.18 423.4,123.38 423.55,121.21 423.69,120.47 423.84,119.46 423.99,116.54 424.13,115.58 424.28,115.97 424.43,117.21 424.57,119.37 424.72,121.17 424.87,122.82" fill="none" stroke="#1f77b4" stroke-width="1.0" stroke-linejoin="round" stroke-dasharray="3.5 1.5"/>
<polyline points="425.16,127.16 425.31,128.88 425.46,130.51 425.6,131.3 425.75,127.51 425.9,124.1 426.04,121.71" fill="none" stroke="#1f77b4" stroke-width="1.0" stroke-linejoin="round" stroke-dasharray="3.5 1.5"/>
<polyline points="426.34,121.67 426.48,124.16 426.63,125.39 426.78,127.86 426.92,129.24 427.07,131.08 427.22,131.8 427.36,129.85 427.51,129.62 427.66,127.49 427.81,126.94 427.95,127.05 428.1,128.47 428.25,128.7 428.39,130.15 428.54,130.09 428.69,131.42 428.83,128.64 428.98,127.07 429.13,125.87 429.27,124.23 429.42,122.77 429.57,120.87 429.71,119.15 429.86,117.05" fill="none" stroke="#1f77b4" stroke-width="1.0" stroke-linejoin="round" stroke-dasharray="3.5 1.5"/>
<polyline points="430.45,110.5 430.6,108.77 430.74,107.48 430.89,105.7 431.04,105.16 431.18,107.01 431.33,109.54 431.48,110.74 431.62,113.19 431.77,117.48 431.92,119.98 432.06,124.57 432.21,125.84 432.36,126.51 432.5,128.01 432.65,129.83 432.8,127.67 432.94,126.34 433.09,124.06 433.24,122.13 433.39,119.32 433.53,116.16 433.68,112.58 433.83,110.91 433.97,109.09 434.12,107.73 434.27,105.24 434.41,104.29 434.56,103.13 434.71,103.56 434.85,103.55" fill="none" stroke="#1f77b4" stroke-width="1.0" stroke-linejoin="round" stroke-dasharray="3.5 1.5"/>
<polyline points="436.03,121.5 436.18,123.58 436.32,125.49 436.47,125.28 436.62,126.02 436.76,126.62 436.91,127.89 437.06,127.78 437.2,127.53 437.35,129.11 437.5,127.96 437.64,128.74 437.79,129.43 437.94,128.9 438.08,130.34 438.23,130.94 438.38,132.35 438.53,131.33 438.67,128.82 438.82,128.99 438.97,128.62 439.11,128.01 439.26,129.21 439.41,129.44 439.55,130.89 439.7,131.87 439.85,133.23 439.99,132.37 440.14,131.11 440.29,129.48 440.43,129.92 440.58,128.26 440.73,128.63 440.87,128.64 441.02,129.13 441.17,128.74 441.32,128.93 441.46,128.81 441.61,130.23 441.76,130.78 441.9,131.81 442.05,131.23 442.2,130.62 442.34,129.66 442.49,129.48 442.64,128.85 442.78,128.96 442.93,128.93 443.08,131.16 443.22,131.48 443.37,132.44 443.52,131.02 443.67,129.29 443.81,129.15 443.96,128.16 444.11,127.08 444.25,127.82 444.4,127.36 444.55,127.66 444.69,127.53 444.84,127.32 444.99,126.07 445.13,125.82 445.28,125.59 445.43,124.62 445.57,123.12 445.72,123.77 445.87,121.67 446.01,121.46 446.16,121.47 446.31,121.03 446.46,118.65 446.6,117.9 446.75,117.26 446.9,115.3 447.04,112.71 447.19,112.34 447.34,109.6 447.48,108.85 447.63,107.11 447.78,104.71 447.92,104.28 448.07,103.77 448.22,101.39 448.36,101.72 448.51,103.06 448.66,104.29 448.8,105.66 448.95,107.79 449.1,112.14 449.25,113.97 449.39,118.17 449.54,121.84 449.69,123.77 449.83,125.06 449.98,125.79 450.13,117.94 450.27,111.05" fill="none" stroke="#1f77b4" stroke-width="1.0" stroke-linejoin="round" stroke-dasharray="3.5 1.5"/>
<polyline points="450.86,93.06 451.01,89.59 451.15,93.53 451.3,96.37 451.45,99.52 451.59,104.36 451.74,110.78 451.89,116.32 452.04,121.97 452.18,124.14 452.33,125.7 452.48,127.06 452.62,128.07 452.77,128.32 452.92,128.44 453.06,129.01 453.21,131 453.36,129.96 453.5,128.97 453.65,129.92 453.8,128.56 453.94,128.75 454.09,128.42 454.24,127.73 454.39,126.99 454.53,125.78 454.68,126.12 454.83,125.6 454.97,125.97 455.12,125.1 455.27,124.33 455.41,124.02 455.56,124.82 455.71,126.84 455.85,128.14 456,130.26 456.15,131.1 456.29,129.31 456.44,127.73 456.59,126.25 456.73,125.3 456.88,123.72 457.03,122.02 457.18,121.19 457.32,118.28" fill="none" stroke="#1f77b4" stroke-width="1.0" stroke-linejoin="round" stroke-dasharray="3.5 1.5"/>
<polyline points="457.91,106.62 458.06,105.62 458.2,101.91 458.35,100.05 458.5,97.29 458.64,93.52 458.79,93.59 458.94,94.01 459.08,93.58 459.23,93.83 459.38,93.55 459.52,91.43 459.67,93.89 459.82,98.95 459.97,100.47 460.11,103.49 460.26,106.24 460.41,111.85 460.55,115.37 460.7,112.17 460.85,108.65 460.99,106.96 461.14,104.32 461.29,101.73 461.43,102.02 461.58,98.76 461.73,97.08 461.87,95.6 462.02,95.8 462.17,95.24 462.31,95.9 462.46,97.51 462.61,100.14 462.76,103.19 462.9,101.16 463.05,98.53 463.2,97.29 463.34,94.76 463.49,93.67 463.64,93.26 463.78,90.29 463.93,95.06 464.08,98.48 464.22,103.08 464.37,101.79 464.52,99.42 464.66,95.52" fill="none" stroke="#1f77b4" stroke-width="1.0" stroke-linejoin="round" stroke-dasharray="3.5 1.5"/>
<polyline points="465.69,83.71 465.84,81 465.99,83.94 466.13,86.68" fill="none" stroke="#1f77b4" stroke-width="1.0" stroke-linejoin="round" stroke-dasharray="3.5 1.5"/>
<polyline points="466.87,107.49 467.01,112.06 467.16,115.23 467.31,118.96 467.45,122.24 467.6,122.28 467.75,124.32 467.9,124.81 468.04,120.98 468.19,118.17 468.34,114.65 468.48,112.84 468.63,110.08 468.78,106.92 468.92,103.26 469.07,100.33 469.22,99.39" fill="none" stroke="#1f77b4" stroke-width="1.0" stroke-linejoin="round" stroke-dasharray="3.5 1.5"/>
<polyline points="470.1,93.56 470.24,98.28 470.39,100.88 470.54,105.28 470.69,102.6 470.83,100.94 470.98,97.79 471.13,95.76 471.27,90.14" fill="none" stroke="#1f77b4" stroke-width="1.0" stroke-linejoin="round" stroke-dasharray="3.5 1.5"/>
<polyline points="472.45,43.49 472.59,31.04 472.74,24.89 472.89,19.79 473.03,29.07 473.18,36.72 473.33,51.57" fill="none" stroke="#1f77b4" stroke-width="1.0" stroke-linejoin="round" stroke-dasharray="3.5 1.5"/>
<polyline points="473.77,91.52 473.92,108.21 474.06,123.8 474.21,124 474.36,126.01 474.5,127.3 474.65,128.91 474.8,129.44 474.94,129.17 475.09,129.64 475.24,130.9 475.38,129.46 475.53,128.89 475.68,128.18 475.83,128.28" fill="none" stroke="#1f77b4" stroke-width="1.0" stroke-linejoin="round" stroke-dasharray="3.5 1.5"/>
<polyline points="476.41,130.6 476.56,131.21 476.71,132.39 476.85,132 477,130.42 477.15,129.76" fill="none" stroke="#1f77b4" stroke-width="1.0" stroke-linejoin="round" stroke-dasharray="3.5 1.5"/>
<polyline points="477.73,127.92 477.88,126.89 478.03,127.37 478.17,126.3 478.32,124.69 478.47,124.47 478.62,123.57 478.76,125.52 478.91,125.51 479.06,128.81 479.2,130.01 479.35,128.54 479.5,127.8 479.64,125.23 479.79,126.33 479.94,127.36 480.08,128.85 480.23,130.37 480.38,128.92 480.52,126.81 480.67,126.42 480.82,126.39 480.96,126.01 481.11,124.15 481.26,123.42 481.41,122.41 481.55,123.06 481.7,124.98 481.85,126.31 481.99,128 482.14,126.58 482.29,124.31 482.43,122.02 482.58,120.45 482.73,119.17 482.87,118.71 483.02,117.29 483.17,117.69 483.31,116.05 483.46,115.73 483.61,117.99 483.76,118.99" fill="none" stroke="#1f77b4" stroke-width="1.0" stroke-linejoin="round" stroke-dasharray="3.5 1.5"/>
<polyline points="484.05,121.74 484.2,122.23 484.34,123.1 484.49,125.28 484.64,125.47 484.78,126.32 484.93,129.18 485.08,130.02 485.22,127.71 485.37,126.62 485.52,125.35 485.66,125.07" fill="none" stroke="#1f77b4" stroke-width="1.0" stroke-linejoin="round" stroke-dasharray="3.5 1.5"/>
<polyline points="486.1,114.83 486.25,112.24 486.4,109.77 486.55,109.64 486.69,106.27 486.84,106.05 486.99,103.22 487.13,102.43 487.28,103.68 487.43,102.78 487.57,104.86 487.72,105.75 487.87,103.45 488.01,103.28 488.16,100.96 488.31,100.28 488.45,98.99 488.6,97.97 488.75,97.59 488.89,100.97 489.04,103.41 489.19,104.36 489.34,107.57 489.48,111.98 489.63,117.65 489.78,114.98 489.92,113.31 490.07,109.22 490.22,107.1 490.36,108.86 490.51,111.39 490.66,113.89 490.8,115.18 490.95,118.08 491.1,120 491.24,122.85 491.39,125.32" fill="none" stroke="#1f77b4" stroke-width="1.0" stroke-linejoin="round" stroke-dasharray="3.5 1.5"/>
<polyline points="491.68,128.99 491.83,128.5 491.98,128.47 492.13,130.35 492.27,130.42 492.42,131.51 492.57,130.44 492.71,129.79 492.86,129.83 493.01,130.03 493.15,129.16 493.3,127.63 493.45,128.06 493.59,127.3 493.74,125.91 493.89,125.98 494.03,125.81 494.18,124.23 494.33,123.16 494.48,122.48 494.62,121.09 494.77,120.72 494.92,118.94 495.06,118.12 495.21,119.95 495.36,122.26 495.5,125.33 495.65,127.61 495.8,123.94 495.94,121.92 496.09,119.7" fill="none" stroke="#1f77b4" stroke-width="1.0" stroke-linejoin="round" stroke-dasharray="3.5 1.5"/>
<polyline points="496.82,111.22 496.97,108.11 497.12,106.03 497.27,104.12 497.41,104.44" fill="none" stroke="#1f77b4" stroke-width="1.0" stroke-linejoin="round" stroke-dasharray="3.5 1.5"/>
<polyline points="497.85,104.01 498,104.75 498.15,107.84 498.29,112.28 498.44,115.29 498.59,118.3 498.73,121.04 498.88,122.41 499.03,123.93 499.17,126.97 499.32,129.33 499.47,127.43 499.61,126.76 499.76,125.58 499.91,122.27 500.06,120.32 500.2,116.76 500.35,113.7 500.5,110.93 500.64,108.9 500.79,105.95 500.94,103.86 501.08,102.63 501.23,100.97 501.38,99.43 501.52,101.22 501.67,104.47" fill="none" stroke="#1f77b4" stroke-width="1.0" stroke-linejoin="round" stroke-dasharray="3.5 1.5"/>
<polyline points="502.26,113.17 502.4,116.11 502.55,118.22 502.7,119.73 502.85,122.79 502.99,126.51 503.14,123.22 503.29,121.37 503.43,118.16" fill="none" stroke="#1f77b4" stroke-width="1.0" stroke-linejoin="round" stroke-dasharray="3.5 1.5"/>
<polyline points="506.08,113.24 506.22,119.17 506.37,123.82 506.52,120.58 506.66,117.12 506.81,114.9 506.96,112.86" fill="none" stroke="#1f77b4" stroke-width="1.0" stroke-linejoin="round" stroke-dasharray="3.5 1.5"/>
<polyline points="508.43,70.51 508.57,66.88 508.72,68.89 508.87,72.07 509.01,77.04" fill="none" stroke="#1f77b4" stroke-width="1.0" stroke-linejoin="round" stroke-dasharray="3.5 1.5"/>
<polyline points="510.04,114.51 510.19,117.01 510.33,118.65 510.48,119.83 510.63,121.04 510.78,121.15 510.92,122.63 511.07,123.79" fill="none" stroke="#1f77b4" stroke-width="1.0" stroke-linejoin="round" stroke-dasharray="3.5 1.5"/>
<polyline points="511.8,124.38 511.95,124.62 512.1,124.59 512.24,124.48 512.39,124.95 512.54,125.77 512.68,128.14 512.83,126.73 512.98,126.77 513.13,126.71 513.27,125.4 513.42,125.45 513.57,125.32 513.71,124.66" fill="none" stroke="#1f77b4" stroke-width="1.0" stroke-linejoin="round" stroke-dasharray="3.5 1.5"/>
<polyline points="514.01,122.1 514.15,121.11 514.3,119.11 514.45,118.44 514.59,116.57 514.74,115.78 514.89,115.03 515.03,113.92 515.18,113.61 515.33,112.4 515.47,111.61 515.62,110 515.77,107.96 515.92,105.24 516.06,106.79 516.21,109.03 516.36,110.92" fill="none" stroke="#1f77b4" stroke-width="1.0" stroke-linejoin="round" stroke-dasharray="3.5 1.5"/>
<polyline points="516.8,116.93 516.94,119.73 517.09,122.24 517.24,120.16 517.38,118.3 517.53,117.19 517.68,115.4 517.82,112.63 517.97,107.01 518.12,104.14" fill="none" stroke="#1f77b4" stroke-width="1.0" stroke-linejoin="round" stroke-dasharray="3.5 1.5"/>
<polyline points="518.41,101.71 518.56,99.73 518.71,97.84 518.85,100.42 519,99.89" fill="none" stroke="#1f77b4" stroke-width="1.0" stroke-linejoin="round" stroke-dasharray="3.5 1.5"/>
<polyline points="519.73,111.43 519.88,113.34 520.03,116.63 520.17,119.78 520.32,116.04 520.47,113.26 520.61,110.05 520.76,107.49 520.91,105.05 521.05,105.39 521.2,103.4 521.35,101.7 521.5,103.95 521.64,104.86 521.79,106.53 521.94,105.33 522.08,101.69 522.23,99.98" fill="none" stroke="#1f77b4" stroke-width="1.0" stroke-linejoin="round" stroke-dasharray="3.5 1.5"/>
<polyline points="522.96,99.31 523.11,100.7 523.26,101.37 523.4,102.88 523.55,100.64 523.7,98.11 523.85,97.06 523.99,99.42 524.14,100.3 524.29,103.83 524.43,106.32 524.58,103.13 524.73,99.48" fill="none" stroke="#1f77b4" stroke-width="1.0" stroke-linejoin="round" stroke-dasharray="3.5 1.5"/>
<polyline points="525.9,70 526.05,61.99 526.19,56.33 526.34,51.4 526.49,58.07 526.64,67.49 526.78,71.68" fill="none" stroke="#1f77b4" stroke-width="1.0" stroke-linejoin="round" stroke-dasharray="3.5 1.5"/>
<polyline points="527.52,104.76 527.66,108.83 527.81,114.14 527.96,117.68 528.1,112.33 528.25,105.67 528.4,98.86 528.54,97.83 528.69,97.28 528.84,95.86 528.98,94.81 529.13,100.39 529.28,105.19 529.43,112.22 529.57,117.05 529.72,122.24 529.87,127.78 530.01,132.83 530.16,131.61 530.31,131.04 530.45,129.68" fill="none" stroke="#1f77b4" stroke-width="1.0" stroke-linejoin="round" stroke-dasharray="3.5 1.5"/>
<polyline points="530.75,129.66 530.89,129.99 531.04,131.56 531.19,132.75 531.33,130.46 531.48,129.75 531.63,128.32" fill="none" stroke="#1f77b4" stroke-width="1.0" stroke-linejoin="round" stroke-dasharray="3.5 1.5"/>
<polyline points="311.5,121.52 311.65,122.85 311.79,125 311.94,125.14 312.09,126.7 312.23,128.88 312.38,128.14 312.53,127.02 312.67,126.98 312.82,126.18 312.97,124.92 313.12,124.86 313.26,123.73 313.41,124.15 313.56,123.22 313.7,121 313.85,121.31 314,119.73 314.14,118.59 314.29,116.43 314.44,115.21 314.58,115.35 314.73,114.45 314.88,114.08 315.02,113.04 315.17,114.45 315.32,116.62 315.46,118.7 315.61,119.96 315.76,121.52 315.91,122.82 316.05,124.1 316.2,124.35 316.35,121.36 316.49,119.2 316.64,116.81 316.79,114.74 316.93,112.09 317.08,111.29 317.23,109.49 317.37,107.38 317.52,105.53 317.67,103.54 317.81,100.86 317.96,100.49 318.11,97.2 318.26,98.14 318.4,98.81 318.55,100.14 318.7,100.6 318.84,103.46 318.99,103.5 319.14,105.69 319.28,105.58 319.43,102.98 319.58,102.72 319.72,100.6 319.87,102.59 320.02,103.07 320.16,104.19 320.31,103.99 320.46,106.5 320.6,106.96 320.75,109.08 320.9,106.86 321.05,106.01 321.19,103.62 321.34,102.29 321.49,101.22 321.63,100.03 321.78,98.9 321.93,98.37 322.07,100.22 322.22,99.24 322.37,100.6 322.51,97.08 322.66,94.07 322.81,91.55 322.95,91.25 323.1,89.35 323.25,87.83 323.39,84.76 323.54,84.8 323.69,82.57 323.84,82.35 323.98,83.06 324.13,85.65 324.28,91.3 324.42,93.81 324.57,90.12 324.72,86.79 324.86,83.55 325.01,81.36 325.16,78.75 325.3,77.97 325.45,90.31 325.6,100.6 325.74,105.5 325.89,108.24 326.04,113.04 326.19,116.53 326.33,120.23 326.48,124.92 326.63,126.42 326.77,127.1 326.92,129.74 327.07,130.57 327.21,129.52 327.36,129.29 327.51,129.81 327.65,129.91 327.8,128.88 327.95,127.81 328.09,126.58 328.24,126.16 328.39,124.92 328.53,126.8 328.68,127.55 328.83,127.78 328.98,129.44 329.12,130.32 329.27,129.2 329.42,130.51 329.56,130.81 329.71,130.57 329.86,130.84 330,129.13 330.15,128.92 330.3,129.5 330.44,128.88 330.59,129.95 330.74,129.48 330.88,129.54 331.03,130.57 331.18,131.11 331.32,129.91 331.47,129.33 331.62,129.73 331.77,129.44 331.91,129.22 332.06,128.73 332.21,129.52 332.35,129.35 332.5,128.88 332.65,128.96 332.79,129.47 332.94,129.84 333.09,130.49 333.23,130.57 333.38,129.89 333.53,130.9 333.67,130.29 333.82,130.57 333.97,130.07 334.11,130.95 334.26,131.6 334.41,131.46 334.56,131.14 334.7,129.43 334.85,126.93 335,124.6 335.14,121.52 335.29,119 335.44,116.13 335.58,113.04 335.73,112.73 335.88,111.84 336.02,111.39 336.17,111.34 336.32,112.08 336.46,113.89 336.61,114.74 336.76,116.11 336.91,118.03 337.05,120.53 337.2,121.52 337.35,118.89 337.49,116.8 337.64,113.52 337.79,111.34 337.93,107.8 338.08,105.92 338.23,102.29 338.37,100.33 338.52,98.17 338.67,96.47 338.81,93.81 338.96,92.08 339.11,89.08 339.25,84.76 339.4,86.01 339.55,89.45 339.7,92.99 339.84,95.5 339.99,98.47 340.14,102.86 340.28,105.69 340.43,101.21 340.58,96.6 340.72,93.07 340.87,89.85 341.02,86.42 341.16,81.3 341.31,77.91 341.46,75.71 341.6,71.95 341.75,65.47 341.9,59.87 342.04,54.4 342.19,49.49 342.34,42.9 342.49,37.58 342.63,33.29 342.78,37.16 342.93,36.71 343.07,40.08 343.22,43.27 343.37,51.29 343.51,54.22 343.66,60.67 343.81,69.36 343.95,75.71 344.1,81.51 344.25,87.6 344.39,93.09 344.54,100.6 344.69,112.13 344.83,124.92 344.98,120.83 345.13,115.69 345.28,112.52 345.42,107.38 345.57,108.32 345.72,110.39 345.86,112.13 346.01,113.04 346.16,115.27 346.3,117 346.45,118.13 346.6,118.41 346.74,120.59 346.89,121.17 347.04,121.52 347.18,119.85 347.33,117.68 347.48,114.74 347.63,115.12 347.77,116.26 347.92,116.96 348.07,118.13 348.21,119.07 348.36,121.62 348.51,123.22 348.65,125.02 348.8,125.74 348.95,126.16 349.09,127.18 349.24,127.67 349.39,128.2 349.53,129.71 349.68,130.57 349.83,131.56 349.97,131.56 350.12,132.27 350.27,130.75 350.42,130.83 350.56,129.04 350.71,128.88 350.86,126.89 351,126.11 351.15,124.92 351.3,125.94 351.44,127.52 351.59,128.53 351.74,128.88 351.88,128.5 352.03,126.43 352.18,125.12 352.32,123.49 352.47,123.22 352.62,120.77 352.76,117.74 352.91,116.43 353.06,114.79 353.21,113.53 353.35,111.87 353.5,109.08 353.65,112.55 353.79,115.05 353.94,118.13 354.09,119.91 354.23,123.86 354.38,126.64 354.53,128.88 354.67,126.05 354.82,124.17 354.97,121.52 355.11,119.72 355.26,118.81 355.41,115.73 355.56,114.74 355.7,115.16 355.85,116.78 356,117.71 356.14,119.83 356.29,117.33 356.44,115.14 356.58,111.34 356.73,110.36 356.88,107.62 357.02,107.17 357.17,105.69 357.32,109.37 357.46,112.47 357.61,114.74 357.76,117.94 357.9,119.94 358.05,121.6 358.2,124.92 358.35,123.11 358.49,122.19 358.64,121.52 358.79,118.91 358.93,117.89 359.08,114.59 359.23,113.04 359.37,110.54 359.52,106.76 359.67,104.82 359.81,100.6 359.96,94.27 360.11,91.09 360.25,84.76 360.4,82.21 360.55,79.73 360.69,77.51 360.84,75.71 360.99,79.85 361.14,85.52 361.28,89.85 361.43,93.02 361.58,96.63 361.72,101.44 361.87,105.69 362.02,96.34 362.16,88.48 362.31,81.36 362.46,73.26 362.6,61.5 362.75,54.15 362.9,42.9 363.04,36.53 363.19,32.19 363.34,25.94 363.48,21.65 363.63,20.85 363.78,25.72 363.93,23.97 364.07,28.76 364.22,33.02 364.37,35.05 364.51,37.38 364.66,37.25 364.81,41.16 364.95,39.67 365.1,42.61 365.25,46.3 365.39,50.85 365.54,59.93 365.69,64.29 365.83,71.18 365.98,75.88 366.13,81.8 366.28,88.15 366.42,99.86 366.57,109.37 366.72,121.52 366.86,122.24 367.01,123.46 367.16,125.29 367.3,126.22 367.45,127.18 367.6,127.09 367.74,127.83 367.89,128.22 368.04,127.85 368.18,128.88 368.33,129.14 368.48,128.58 368.62,130.02 368.77,129.44 368.92,128.49 369.07,127.28 369.21,127.55 369.36,125.49 369.51,124.92 369.65,124.28 369.8,122.65 369.95,121.64 370.09,121.52 370.24,119.83 370.39,117.95 370.53,118.29 370.68,117.49 370.83,115.87 370.97,114.74 371.12,114.96 371.27,114.21 371.41,112.15 371.56,112.88 371.71,111.34 371.86,110.26 372,108.51 372.15,108.48 372.3,107.38 372.44,107.01 372.59,107.31 372.74,109.16 372.88,109.69 373.03,109.08 373.18,107.16 373.32,105.69 373.47,104.43 373.62,103.99 373.76,101.77 373.91,100.57 374.06,98.9 374.2,97.3 374.35,97.43 374.5,96.95 374.65,97.2 374.79,95.56 374.94,97.24 375.09,95.5 375.23,93.44 375.38,92.45 375.53,92.62 375.67,89.85 375.82,88.86 375.97,85.82 376.11,84.76 376.26,82.41 376.41,80.04 376.55,78.65 376.7,75.71 376.85,73.36 377,70.18 377.14,67.68 377.29,67.22 377.44,65.2 377.58,62.7 377.73,63.24 377.88,59.87 378.02,60.67 378.17,58.51 378.32,56.93 378.46,57.61 378.61,61.86 378.76,64.56 378.9,66.09 379.05,68.92 379.2,74.85 379.34,80.61 379.49,84.76 379.64,87.04 379.79,87.52 379.93,87.74 380.08,89.85 380.23,86.11 380.37,79.47 380.52,75.71 380.67,75.43 380.81,73.16 380.96,70.04 381.11,68.92 381.25,71.75 381.4,71.79 381.55,72.32 381.69,74.88 381.84,76.03 381.99,75.3 382.13,77.97 382.28,76.08 382.43,71.19 382.58,68.92 382.72,66.63 382.87,68.12 383.02,65.09 383.16,65.53 383.31,64.77 383.46,61.7 383.6,60.99 383.75,59.87 383.9,58.56 384.04,54.6 384.19,54.22 384.34,51.17 384.48,50.43 384.63,47.12 384.78,45.17 384.93,49.03 385.07,52.06 385.22,54.22 385.37,57.08 385.51,61.53 385.66,68.99 385.81,72.32 385.95,76.35 386.1,82.41 386.25,89.84 386.39,93.81 386.54,99.62 386.69,103.58 386.83,107.36 386.98,113.04 387.13,115.46 387.27,119.85 387.42,122.64 387.57,124.98 387.72,128.88 387.86,129.79 388.01,130.41 388.16,130.37 388.3,130.4 388.45,131.14 388.6,130.45 388.74,130.33 388.89,131.56 389.04,131.19 389.18,130.57 389.33,130.73 389.48,129.57 389.62,129.45 389.77,128.88 389.92,127.85 390.06,128.01 390.21,127.67 390.36,127.21 390.51,127.18 390.65,127.78 390.8,126.75 390.95,126.92 391.09,127.1 391.24,127.74 391.39,126.94 391.53,127.61 391.68,127.48 391.83,126.61 391.97,126.05 392.12,125.39 392.27,126 392.41,124.56 392.56,124.92 392.71,124.75 392.85,125.49 393,126.3 393.15,127.31 393.3,127.18 393.44,126.43 393.59,127.28 393.74,126.51 393.88,125.84 394.03,126.05 394.18,125.25 394.32,125.37 394.47,123.69 394.62,124.1 394.76,123.22 394.91,122.52 395.06,121.64 395.2,120.3 395.35,119.83 395.5,120.03 395.65,118.2 395.79,117.81 395.94,116.52 396.09,116.43 396.23,115.43 396.38,113.74 396.53,111.62 396.67,111.34 396.82,110.44 396.97,106.91 397.11,105.69 397.26,105.62 397.41,105.87 397.55,105.79 397.7,105.12 397.85,108.4 397.99,109.65 398.14,113.04 398.29,115.77 398.44,116.37 398.58,119.37 398.73,121.52 398.88,123.32 399.02,123.85 399.17,125.63 399.32,127.18 399.46,126.97 399.61,128.61 399.76,128.14 399.9,128.88 400.05,129.75 400.2,129.61 400.34,129.35 400.49,129.63 400.64,129.44 400.78,130.01 400.93,129.78 401.08,129.73 401.23,130.48 401.37,130.57 401.52,130.33 401.67,129.68 401.81,130.33 401.96,128.88 402.11,129.44 402.25,130.48 402.4,130.21 402.55,129.78 402.69,130.57 402.84,130.65 402.99,130.16 403.13,130.08 403.28,128.46 403.43,128.88 403.57,127.47 403.72,127.99 403.87,126.43 404.02,126.3 404.16,124.92 404.31,124.42 404.46,122.71 404.6,120.47 404.75,119.43 404.9,118.13 405.04,116.3 405.19,113.44 405.34,111.34 405.48,110.43 405.63,108.02 405.78,106.76 405.92,103.99 406.07,106.26 406.22,110.28 406.37,113.04 406.51,115.57 406.66,119.29 406.81,122.1 406.95,124.92 407.1,123.51 407.25,122.81 407.39,121.01 407.54,119.83 407.69,117.6 407.83,117.28 407.98,114.74 408.13,114.51 408.27,114.05 408.42,112.21 408.57,111.34 408.71,109.76 408.86,106.39 409.01,103.99 409.16,103.12 409.3,100.53 409.45,99.45 409.6,97.2 409.74,99.97 409.89,103.24 410.04,107.38 410.18,109.92 410.33,114.53 410.48,117.23 410.62,121.52 410.77,121.29 410.92,122.67 411.06,121.93 411.21,123.22 411.36,122.21 411.5,123.46 411.65,122.65 411.8,122.63 411.95,123.17 412.09,123.72 412.24,124.35 412.39,124.12 412.53,125.02 412.68,124.19 412.83,124.92 412.97,124.76 413.12,125.91 413.27,124.8 413.41,125.42 413.56,126.05 413.71,127.03 413.85,127.29 414,127.28 414.15,126.68 414.3,127.18 414.44,126.35 414.59,125.54 414.74,125.17 414.88,125.88 415.03,124.92 415.18,125.11 415.32,124.97 415.47,124.09 415.62,123.69 415.76,123.22 415.91,122.59 416.06,120.93 416.2,120.46 416.35,119.83 416.5,118.22 416.64,117.08 416.79,116.24 416.94,115.73 417.09,114.74 417.23,116.19 417.38,117.21 417.53,118.63 417.67,119.83 417.82,120.64 417.97,121.45 418.11,123.22 418.26,123.25 418.41,124.33 418.55,124.12 418.7,124.65 418.85,124.92 418.99,125.79 419.14,126.05 419.29,125.68 419.43,125.07 419.58,126.05 419.73,125.99 419.88,127.36 420.02,126.2 420.17,127.18 420.32,127.15 420.46,127.69 420.61,129 420.76,128.84 420.9,128.88 421.05,129.26 421.2,129.13 421.34,129.82 421.49,129.12 421.64,129.44 421.78,129.49 421.93,129.67 422.08,130.13 422.22,130.26 422.37,130.57 422.52,130.5 422.67,128.69 422.81,127.94 422.96,127.28 423.11,127.18 423.25,124.83 423.4,123.87 423.55,121.52 423.69,120.64 423.84,119.84 423.99,117.15 424.13,116.43 424.28,116.86 424.43,117.85 424.57,119.83 424.72,121.48 424.87,122.97 425.02,124.75 425.16,127.18 425.31,128.37 425.46,129.01 425.6,128.88 425.75,125.98 425.9,123.53 426.04,121.69 426.19,119.83 426.34,121.44 426.48,123.69 426.63,124.72 426.78,127.18 426.92,128.1 427.07,129.04 427.22,128.88 427.36,128.04 427.51,128.91 427.66,127.5 427.81,127.27 427.95,127.18 428.1,128.16 428.25,127.96 428.39,128.57 428.54,128.04 428.69,128.88 428.83,127.43 428.98,127.18 429.13,126.5 429.27,124.92 429.42,123.5 429.57,121.63 429.71,119.63 429.86,117.26 430.01,116.43 430.15,114.96 430.3,113.5 430.45,110.64 430.6,109.08 430.74,107.93 430.89,105.88 431.04,105.12 431.18,106.73 431.33,108.97 431.48,110.37 431.62,113.04 431.77,117.6 431.92,120.43 432.06,124.92 432.21,126.03 432.36,126.08 432.5,126.52 432.65,127.18 432.8,125.69 432.94,125.03 433.09,123.01 433.24,121.52 433.39,119.12 433.53,116.32 433.68,113.04 433.83,111.37 433.97,109.55 434.12,108.19 434.27,105.69 434.41,104.68 434.56,103.53 434.71,103.99 434.85,103.78 435,106.43 435.15,107.15 435.29,107.38 435.44,111.17 435.59,114.35 435.74,118.13 435.88,119.46 436.03,121.36 436.18,123.23 436.32,124.92 436.47,124.51 436.62,125.03 436.76,125.76 436.91,127.14 437.06,127.18 437.2,127.08 437.35,128.62 437.5,127.47 437.64,128.21 437.79,128.88 437.94,128.33 438.08,129.28 438.23,128.96 438.38,129.44 438.53,129.73 438.67,128.53 438.82,129.62 438.97,129.78 439.11,128.88 439.26,129.57 439.41,129.29 439.55,129.83 439.7,129.75 439.85,130.57 439.99,129.94 440.14,129.45 440.29,128.85 440.43,129.91 440.58,128.88 440.73,129.65 440.87,129.5 441.02,129.88 441.17,129.44 441.32,129.58 441.46,129.55 441.61,130.62 441.76,130.35 441.9,130.57 442.05,130.74 442.2,130.88 442.34,130.26 442.49,130.04 442.64,129.44 442.78,129.37 442.93,129.15 443.08,130.8 443.22,130.36 443.37,130.57 443.52,130.2 443.67,129.52 443.81,129.86 443.96,128.88 444.11,127.8 444.25,128.56 444.4,127.73 444.55,127.67 444.69,127.18 444.84,126.62 444.99,125.63 445.13,125.62 445.28,125.64 445.43,124.92 445.57,123.44 445.72,124.13 445.87,122.05 446.01,121.89 446.16,121.52 446.31,120.73 446.46,118.04 446.6,116.99 446.75,116.43 446.9,114.58 447.04,112.1 447.19,111.8 447.34,109.08 447.48,108.32 447.63,106.58 447.78,104.22 447.92,103.99 448.07,103.74 448.22,101.67 448.36,102.29 448.51,103.37 448.66,104.32 448.8,105.46 448.95,107.38 449.1,111.72 449.25,113.59 449.39,117.81 449.54,121.52 449.69,123.34 449.83,124.4 449.98,124.92 450.13,117.36 450.27,110.83 450.42,103.99 450.57,99.39 450.71,95.98 450.86,93.25 451.01,89.85 451.15,93.6 451.3,96.24 451.45,99.26 451.59,103.99 451.74,110.26 451.89,115.64 452.04,121.52 452.18,124.04 452.33,125.99 452.48,127.77 452.62,128.88 452.77,129.22 452.92,128.97 453.06,128.72 453.21,129.44 453.36,128.93 453.5,128.47 453.65,129.49 453.8,128.42 453.94,128.88 454.09,128.83 454.24,128.4 454.39,127.79 454.53,126.7 454.68,127.18 454.83,126.79 454.97,127.02 455.12,126.05 455.27,125.25 455.41,124.92 455.56,125.39 455.71,127.08 455.85,127.65 456,128.63 456.15,128.88 456.29,128.29 456.44,127.92 456.59,127.18 456.73,126.07 456.88,124.34 457.03,122.48 457.18,121.52 457.32,118.47 457.47,115.39 457.62,113.04 457.76,110.56 457.91,106.7 458.06,105.88 458.2,102.29 458.35,100.55 458.5,97.69 458.64,93.81 458.79,93.86 458.94,94.28 459.08,93.81 459.23,94.25 459.38,94.4 459.52,92.68 459.67,94.74 459.82,99.47 459.97,100.84 460.11,103.99 460.26,106.51 460.41,111.69 460.55,114.74 460.7,111.86 460.85,108.51 460.99,106.82 461.14,103.99 461.29,101.27 461.43,101.76 461.58,98.71 461.73,97.2 461.87,95.91 462.02,96.09 462.17,95.5 462.31,95.92 462.46,96.81 462.61,98.47 462.76,100.6 462.9,99.52 463.05,97.84 463.2,97.2 463.34,94.81 463.49,94.04 463.64,94.2 463.78,91.55 463.93,95.35 464.08,97.29 464.22,100.6 464.37,100.3 464.52,98.93 464.66,95.54 464.81,95.5 464.96,93.66 465.11,90.48 465.25,89.04 465.4,88.15 465.55,85.05 465.69,83.87 465.84,81.36 465.99,84.29 466.13,86.89 466.28,88.53 466.43,89.85 466.57,95.7 466.72,101.27 466.87,107.38 467.01,111.68 467.16,114.54 467.31,118.24 467.45,121.52 467.6,121.4 467.75,123.02 467.9,123.22 468.04,120.04 468.19,117.85 468.34,114.7 468.48,113.04 468.63,110.41 468.78,107.34 468.92,103.74 469.07,100.6 469.22,99.51 469.36,96.94 469.51,95.5 469.66,93.87 469.8,94.57 469.95,95.06 470.1,93.81 470.24,97.81 470.39,99.14 470.54,102.29 470.69,100.73 470.83,100.15 470.98,97.54 471.13,95.5 471.27,89.96 471.42,85.71 471.57,81.36 471.71,77.51 471.86,71.05 472.01,66.53 472.15,63.83 472.3,54.97 472.45,43.51 472.59,31.59 472.74,26.54 472.89,22.54 473.03,30.65 473.18,37.25 473.33,51.61 473.48,62.54 473.62,76.84 473.77,91.76 473.92,108.91 474.06,124.92 474.21,125.11 474.36,126.77 474.5,127.67 474.65,128.88 474.8,128.99 474.94,128.68 475.09,128.66 475.24,129.44 475.38,129.33 475.53,129.25 475.68,128.63 475.83,128.44 475.97,128.88 476.12,128.96 476.27,130.09 476.41,130.48 476.56,130.45 476.71,130.57 476.85,130.95 477,130.13 477.15,129.77 477.29,129.82 477.44,128.88 477.59,129.11 477.73,127.97 477.88,127.21 478.03,127.98 478.17,127.18 478.32,125.86 478.47,125.44 478.62,124.35 478.76,125.9 478.91,125.03 479.06,127.13 479.2,127.18 479.35,126.46 479.5,126.5 479.64,124.92 479.79,126.28 479.94,127.14 480.08,128.08 480.23,128.88 480.38,128.5 480.52,127.43 480.67,127.67 480.82,127.6 480.96,127.18 481.11,125.29 481.26,124.62 481.41,123.22 481.55,123.29 481.7,124.16 481.85,124.06 481.99,124.92 482.14,124.5 482.29,123.24 482.43,121.52 482.58,120.3 482.73,119.37 482.87,119.24 483.02,118.13 483.17,118.46 483.31,116.77 483.46,116.43 483.61,118.48 483.76,119.19 483.9,119.67 484.05,121.52 484.2,121.83 484.34,122.64 484.49,124.76 484.64,124.92 484.78,125.27 484.93,127.22 485.08,127.18 485.22,125.8 485.37,125.63 485.52,125.01 485.66,124.92 485.81,120.86 485.96,117.5 486.1,114.74 486.25,111.92 486.4,109.27 486.55,108.93 486.69,105.69 486.84,105.55 486.99,102.93 487.13,102.29 487.28,103.64 487.43,102.41 487.57,103.77 487.72,103.99 487.87,102.53 488.01,103.25 488.16,101.32 488.31,100.6 488.45,99.48 488.6,98.86 488.75,98.9 488.89,101.81 489.04,103.77 489.19,104.44 489.34,107.38 489.48,111.29 489.63,116.43 489.78,114.15 489.92,112.94 490.07,109.16 490.22,107.38 490.36,109.27 490.51,111.97 490.66,114.74 490.8,115.92 490.95,118.72 491.1,120.51 491.24,123.22 491.39,125.54 491.54,127.34 491.68,128.88 491.83,128.22 491.98,128.3 492.13,129.84 492.27,129.13 492.42,129.44 492.57,129.03 492.71,129.04 492.86,129.28 493.01,129.22 493.15,128.88 493.3,127.85 493.45,128.78 493.59,128.53 493.74,127.11 493.89,127.18 494.03,127.01 494.18,125.4 494.33,124.1 494.48,123.22 494.62,121.62 494.77,121.13 494.92,119.14 495.06,118.13 495.21,119.53 495.36,120.93 495.5,123.27 495.65,124.92 495.8,122.45 495.94,121.61 496.09,119.83 496.24,117.32 496.38,116.64 496.53,114.27 496.68,113.04 496.82,111.04 496.97,107.85 497.12,105.69 497.27,103.82 497.41,104.2 497.56,101.19 497.71,100.6 497.85,103.87 498,104.44 498.15,107.38 498.29,111.69 498.44,114.99 498.59,118.35 498.73,121.52 498.88,123.36 499.03,124.16 499.17,126.02 499.32,127.18 499.47,125.88 499.61,125.88 499.76,124.92 499.91,121.44 500.06,119.33 500.2,115.95 500.35,113.04 500.5,110.4 500.64,108.47 500.79,105.69 500.94,103.73 501.08,102.84 501.23,101.73 501.38,100.6 501.52,101.9 501.67,104.64 501.82,105.69 501.96,108.78 502.11,110.24 502.26,113.34 502.4,116.43 502.55,118.62 502.7,119.74 502.85,122 502.99,124.92 503.14,122.28 503.29,121.1 503.43,118.13 503.58,114.82 503.73,111.29 503.87,107.39 504.02,103.99 504.17,99.79 504.31,94.66 504.46,89.85 504.61,87.04 504.75,87.6 504.9,85.99 505.05,83.06 505.2,85.23 505.34,88.99 505.49,89.85 505.64,96.01 505.78,102.06 505.93,106.62 506.08,113.04 506.22,118.74 506.37,123.22 506.52,120.63 506.66,117.41 506.81,115.23 506.96,113.04 507.1,110.17 507.25,107.53 507.4,102.64 507.54,100.6 507.69,95.08 507.84,90.45 507.99,86.89 508.13,81.36 508.28,77.49 508.43,70.68 508.57,67.22 508.72,69.2 508.87,72.34 509.01,77.19 509.16,79.67 509.31,86.01 509.45,92.77 509.6,100.6 509.75,104.38 509.89,109.55 510.04,114.74 510.19,117.3 510.33,119 510.48,120.24 510.63,121.52 510.78,121.54 510.92,122.95 511.07,124.02 511.22,123.84 511.36,124.35 511.51,125.08 511.66,124.78 511.8,124.41 511.95,124.92 512.1,125.14 512.24,125.3 512.39,125.57 512.54,125.03 512.68,126.05 512.83,125.09 512.98,125.58 513.13,126.03 513.27,124.8 513.42,124.92 513.57,124.86 513.71,124.43 513.86,123.61 514.01,122.31 514.15,121.52 514.3,119.58 514.45,118.98 514.59,117.16 514.74,116.43 514.89,115.35 515.03,113.93 515.18,113.34 515.33,111.87 515.47,111.34 515.62,110.34 515.77,109.22 515.92,107.38 516.06,108.13 516.21,109.58 516.36,111 516.5,113.04 516.65,114.8 516.8,116.7 516.94,119.26 517.09,121.52 517.24,119.52 517.38,117.75 517.53,116.63 517.68,114.74 517.82,112.15 517.97,106.73 518.12,103.99 518.26,101.78 518.41,101.88 518.56,100.34 518.71,98.9 518.85,101 519,100.09 519.15,102.29 519.29,105.56 519.44,106.97 519.59,110.14 519.73,111.34 519.88,112.85 520.03,115.47 520.17,118.13 520.32,114.89 520.47,112.59 520.61,109.66 520.76,107.38 520.91,105.17 521.05,105.81 521.2,104.12 521.35,102.29 521.5,103.79 521.64,103.49 521.79,103.99 521.94,103.75 522.08,101.1 522.23,99.91 522.38,98.9 522.52,97.77 522.67,96.92 522.82,97.2 522.96,99.17 523.11,100.07 523.26,99.89 523.4,100.6 523.55,99.41 523.7,97.79 523.85,97.2 523.99,99.32 524.14,99.51 524.29,102.21 524.43,103.99 524.58,101.9 524.73,99.3 524.87,96.56 525.02,95.5 525.17,90.12 525.31,84.93 525.46,81.36 525.61,78.01 525.75,73.92 525.9,69.88 526.05,63.83 526.19,62.05 526.34,61 526.49,63.86 526.64,69.42 526.78,71.68 526.93,75.71 527.08,85.44 527.22,93.18 527.37,102.29 527.52,104.71 527.66,108.53 527.81,113.37 527.96,116.43 528.1,111.55 528.25,105.35 528.4,98.9 528.54,97.96 528.69,97.62 528.84,96.49 528.98,95.5 529.13,100.7 529.28,105.01 529.43,111.52 529.57,116.43 529.72,121.32 529.87,126.16 530.01,130.57 530.16,130.21 530.31,130.54 530.45,129.7 530.6,129.44 530.75,129.7 530.89,129.53 531.04,130.21 531.19,130.57 531.33,129.34 531.48,129.7 531.63,128.88" fill="none" stroke="#ff7f0e" stroke-width="1.3" stroke-linejoin="round"/>
</g>
<rect x="300.5" y="12.95" width="242.2" height="125.45" class="fr"/>
<line x1="311.5" y1="138.4" x2="311.5" y2="140.6" class="tk"/>
<text x="311.5" y="147.8" class="tl" text-anchor="middle">0</text>
<line x1="340.87" y1="138.4" x2="340.87" y2="140.6" class="tk"/>
<text x="340.87" y="147.8" class="tl" text-anchor="middle">200</text>
<line x1="370.24" y1="138.4" x2="370.24" y2="140.6" class="tk"/>
<text x="370.24" y="147.8" class="tl" text-anchor="middle">400</text>
<line x1="399.61" y1="138.4" x2="399.61" y2="140.6" class="tk"/>
<text x="399.61" y="147.8" class="tl" text-anchor="middle">600</text>
<line x1="428.98" y1="138.4" x2="428.98" y2="140.6" class="tk"/>
<text x="428.98" y="147.8" class="tl" text-anchor="middle">800</text>
<line x1="458.35" y1="138.4" x2="458.35" y2="140.6" class="tk"/>
<text x="458.35" y="147.8" class="tl" text-anchor="middle">1000</text>
<line x1="487.72" y1="138.4" x2="487.72" y2="140.6" class="tk"/>
<text x="487.72" y="147.8" class="tl" text-anchor="middle">1200</text>
<line x1="517.09" y1="138.4" x2="517.09" y2="140.6" class="tk"/>
<text x="517.09" y="147.8" class="tl" text-anchor="middle">1400</text>
<line x1="298.3" y1="133.4" x2="300.5" y2="133.4" class="tk"/>
<text x="296.8" y="136" class="tl" text-anchor="end">0</text>
<line x1="298.3" y1="119.26" x2="300.5" y2="119.26" class="tk"/>
<text x="296.8" y="121.86" class="tl" text-anchor="end">25</text>
<line x1="298.3" y1="105.12" x2="300.5" y2="105.12" class="tk"/>
<text x="296.8" y="107.72" class="tl" text-anchor="end">50</text>
<line x1="298.3" y1="90.98" x2="300.5" y2="90.98" class="tk"/>
<text x="296.8" y="93.58" class="tl" text-anchor="end">75</text>
<line x1="298.3" y1="76.84" x2="300.5" y2="76.84" class="tk"/>
<text x="296.8" y="79.44" class="tl" text-anchor="end">100</text>
<line x1="298.3" y1="62.7" x2="300.5" y2="62.7" class="tk"/>
<text x="296.8" y="65.3" class="tl" text-anchor="end">125</text>
<line x1="298.3" y1="48.56" x2="300.5" y2="48.56" class="tk"/>
<text x="296.8" y="51.16" class="tl" text-anchor="end">150</text>
<line x1="298.3" y1="34.42" x2="300.5" y2="34.42" class="tk"/>
<text x="296.8" y="37.02" class="tl" text-anchor="end">175</text>
<line x1="298.3" y1="20.28" x2="300.5" y2="20.28" class="tk"/>
<text x="296.8" y="22.88" class="tl" text-anchor="end">200</text>
<text x="421.6" y="9.85" class="tt" text-anchor="middle">Tiantan Station</text>
<text x="421.6" y="156.2" class="xl" text-anchor="middle">Time (hourly)</text>
<text transform="translate(283.2,75.67) rotate(-90)" class="yl" text-anchor="middle">PM<tspan font-size="4.6" dy="1.3">2.5</tspan><tspan dy="-1.3"> (</tspan><tspan class="mu">&#956;g/m</tspan><tspan class="mu3" dy="-2.7">3</tspan><tspan dy="2.7">)</tspan></text>
<rect x="490.2" y="15.95" width="49.2" height="20.3" rx="1.3" class="lg"/>
<line x1="492.1" y1="21.05" x2="505.5" y2="21.05" stroke="#1f77b4" stroke-width="1.6" stroke-dasharray="3.6 1.3"/>
<line x1="492.1" y1="30.15" x2="505.5" y2="30.15" stroke="#ff7f0e" stroke-width="1.6"/>
<text x="511" y="23.15" class="lt">Truth</text>
<text x="511" y="31.95" class="lt">Prediction</text>
<clipPath id="c2"><rect x="27.44" y="172.1" width="242.2" height="125.45"/></clipPath>
<line x1="38.45" y1="172.1" x2="38.45" y2="297.55" class="gr"/>
<line x1="67.82" y1="172.1" x2="67.82" y2="297.55" class="gr"/>
<line x1="97.19" y1="172.1" x2="97.19" y2="297.55" class="gr"/>
<line x1="126.56" y1="172.1" x2="126.56" y2="297.55" class="gr"/>
<line x1="155.93" y1="172.1" x2="155.93" y2="297.55" class="gr"/>
<line x1="185.3" y1="172.1" x2="185.3" y2="297.55" class="gr"/>
<line x1="214.67" y1="172.1" x2="214.67" y2="297.55" class="gr"/>
<line x1="244.04" y1="172.1" x2="244.04" y2="297.55" class="gr"/>
<line x1="27.44" y1="293" x2="269.64" y2="293" class="gr"/>
<line x1="27.44" y1="269.12" x2="269.64" y2="269.12" class="gr"/>
<line x1="27.44" y1="245.24" x2="269.64" y2="245.24" class="gr"/>
<line x1="27.44" y1="221.36" x2="269.64" y2="221.36" class="gr"/>
<line x1="27.44" y1="197.48" x2="269.64" y2="197.48" class="gr"/>
<line x1="27.44" y1="173.6" x2="269.64" y2="173.6" class="gr"/>
<g clip-path="url(#c2)">
<polyline points="38.45,284.87 38.6,286 38.74,285.98 38.89,287.63 39.04,288.29 39.18,289.95 39.33,288.98 39.48,288.47 39.62,287.69 39.77,287.75 39.92,287.82 40.07,288.3 40.21,287.39 40.36,286.46 40.51,285.85 40.65,284.35 40.8,282.38 40.95,281.67 41.09,281.3 41.24,280.17 41.39,279.97 41.53,279.44" fill="none" stroke="#1f77b4" stroke-width="1.0" stroke-linejoin="round" stroke-dasharray="3.5 1.5"/>
<polyline points="42.56,275.98 42.71,274.69 42.86,276.86 43,279.91 43.15,281.5 43.3,278.29 43.44,275.26" fill="none" stroke="#1f77b4" stroke-width="1.0" stroke-linejoin="round" stroke-dasharray="3.5 1.5"/>
<polyline points="43.88,269.18 44.03,268.08 44.18,265.84 44.32,266.69 44.47,266.96 44.62,268.64 44.76,269.94 44.91,267.55 45.06,266.21 45.21,264.47 45.35,265.58 45.5,265.82 45.65,269.03 45.79,270 45.94,268.82 46.09,266.19 46.23,264.48 46.38,263.52 46.53,264.48 46.67,265.03 46.82,266.01" fill="none" stroke="#1f77b4" stroke-width="1.0" stroke-linejoin="round" stroke-dasharray="3.5 1.5"/>
<polyline points="47.11,269.67 47.26,271.84 47.41,275.28 47.55,272.29 47.7,270.25 47.85,268.5 48,267.68 48.14,265.79" fill="none" stroke="#1f77b4" stroke-width="1.0" stroke-linejoin="round" stroke-dasharray="3.5 1.5"/>
<polyline points="50.64,257.34 50.79,261.07 50.93,263.56 51.08,268.14 51.23,263.45 51.37,261.43" fill="none" stroke="#1f77b4" stroke-width="1.0" stroke-linejoin="round" stroke-dasharray="3.5 1.5"/>
<polyline points="52.11,246.92 52.25,246.12 52.4,244.69 52.55,249.66 52.69,253 52.84,257.59" fill="none" stroke="#1f77b4" stroke-width="1.0" stroke-linejoin="round" stroke-dasharray="3.5 1.5"/>
<polyline points="53.28,278.86 53.43,281.24 53.58,283.2 53.72,286.21 53.87,287.82 54.02,288.36 54.16,289.16 54.31,289.48 54.46,291.25 54.6,292.32 54.75,290.78 54.9,288.23 55.04,286.09 55.19,285.97 55.34,285.35 55.48,284.58 55.63,283.5 55.78,285.47 55.93,287.46" fill="none" stroke="#1f77b4" stroke-width="1.0" stroke-linejoin="round" stroke-dasharray="3.5 1.5"/>
<polyline points="56.37,290.13 56.51,291.22 56.66,292.5 56.81,292.86 56.95,292.03 57.1,290.2 57.25,289.98 57.39,289.29 57.54,288.9 57.69,289.09 57.83,289.68 57.98,291.03 58.13,291.69 58.27,292.86 58.42,291.77 58.57,291.01 58.72,290.23 58.86,289.04 59.01,289.13 59.16,287.5 59.3,287.15 59.45,285.39 59.6,284.78 59.74,285.81 59.89,287.6 60.04,290.13 60.18,292.84 60.33,292.86 60.48,292.4 60.62,291.02 60.77,289.35 60.92,288.74 61.06,288.48 61.21,286.46 61.36,285.32 61.51,284.02 61.65,283.74 61.8,282.82 61.95,282.34 62.09,280.77 62.24,280.73 62.39,279.36 62.53,278.27 62.68,277.31 62.83,276.03 62.97,276.42 63.12,274.65 63.27,273.77 63.41,270.87 63.56,270.2 63.71,270.17 63.86,268.43" fill="none" stroke="#1f77b4" stroke-width="1.0" stroke-linejoin="round" stroke-dasharray="3.5 1.5"/>
<polyline points="66.79,248.83 66.94,250.48 67.09,254.71 67.23,257.74 67.38,252.87 67.53,251.39 67.67,246.23" fill="none" stroke="#1f77b4" stroke-width="1.0" stroke-linejoin="round" stroke-dasharray="3.5 1.5"/>
<polyline points="70.17,218.82 70.32,217.58 70.46,219.11 70.61,219.39 70.76,224.05 70.9,225.16 71.05,229.99" fill="none" stroke="#1f77b4" stroke-width="1.0" stroke-linejoin="round" stroke-dasharray="3.5 1.5"/>
<polyline points="71.34,243.76 71.49,258 71.64,271.67 71.78,286.08 71.93,281.18 72.08,275.54 72.23,270.36 72.37,264.54 72.52,267.35 72.67,268.11 72.81,271.94 72.96,273.76 73.11,274.36 73.25,276.79 73.4,277.17 73.55,278.32 73.69,279.34 73.84,281.03 73.99,282.28 74.13,279.91 74.28,279.47 74.43,278.01 74.58,277.2 74.72,276.78 74.87,276.01 75.02,274.57 75.16,276.21 75.31,278.79 75.46,280.48" fill="none" stroke="#1f77b4" stroke-width="1.0" stroke-linejoin="round" stroke-dasharray="3.5 1.5"/>
<polyline points="76.19,287.42 76.34,287.56 76.48,288.21 76.63,289.98 76.78,291.34 76.92,291.8 77.07,292.78 77.22,290.64 77.37,289.69 77.51,288.67 77.66,288.87 77.81,287.7 77.95,286.14 78.1,285.89 78.25,287.28 78.39,287.79 78.54,287.96 78.69,289.13 78.83,286.96 78.98,284.59 79.13,283.21 79.27,282.64 79.42,282.09 79.57,280.74 79.71,280.25 79.86,277.54 80.01,276.84 80.16,274.71 80.3,272.56 80.45,273.2 80.6,274.5 80.74,276.05 80.89,277.51 81.04,279.74 81.18,281.42 81.33,284.14 81.48,285.3 81.62,287.69 81.77,289.97 81.92,288 82.06,285.8 82.21,282.43 82.36,281.25 82.5,278.1 82.65,275.24 82.8,273.21 82.95,274.33 83.09,274.55 83.24,276.1 83.39,278.71 83.53,277.4 83.68,275.9 83.83,273.88 83.97,271.89 84.12,271.73 84.27,269.92 84.41,269.42 84.56,270.51 84.71,272.25 84.85,274.03 85,275.67 85.15,278.54 85.3,282.46 85.44,287.06 85.59,284.66 85.74,281.35 85.88,279.31 86.03,277.5 86.18,273.04 86.32,267.51" fill="none" stroke="#1f77b4" stroke-width="1.0" stroke-linejoin="round" stroke-dasharray="3.5 1.5"/>
<polyline points="87.64,240.46 87.79,237.98 87.94,235.26 88.09,230.53 88.23,233.22 88.38,236.94 88.53,240.82 88.67,242.54 88.82,235.71 88.97,227.69 89.11,221.49" fill="none" stroke="#1f77b4" stroke-width="1.0" stroke-linejoin="round" stroke-dasharray="3.5 1.5"/>
<polyline points="90.29,186.75 90.43,183.79 90.58,181.04 90.73,178.7 90.88,182.27 91.02,184.74 91.17,184.38" fill="none" stroke="#1f77b4" stroke-width="1.0" stroke-linejoin="round" stroke-dasharray="3.5 1.5"/>
<polyline points="93.23,262.55 93.37,272.27 93.52,278.34 93.67,284.44 93.81,285.48 93.96,285.72 94.11,286.18 94.25,287.31 94.4,288.37 94.55,288.08 94.69,288.44 94.84,288.58 94.99,288.51 95.13,289.64 95.28,291.16 95.43,288.78 95.57,286.92 95.72,285.6 95.87,284.71 96.02,283.2 96.16,282.72 96.31,282.18 96.46,282.38 96.6,282.48 96.75,281.11 96.9,280.58 97.04,278.9 97.19,278.95 97.34,278.1 97.48,278.07 97.63,278.08 97.78,277.34 97.92,276.41 98.07,277.58 98.22,279.43 98.36,280.05 98.51,278.47 98.66,277.65 98.81,275.85 98.95,275.79 99.1,275.55 99.25,273.88 99.39,273.56 99.54,273.6 99.69,276.08 99.83,276.84 99.98,277.67 100.13,274.99 100.27,274.25 100.42,272.83 100.57,271.16 100.71,270.04 100.86,267.02 101.01,265.97 101.15,265.05 101.3,262.55 101.45,261.82 101.6,260.54 101.74,262.93 101.89,263.28 102.04,266.46 102.18,263.62 102.33,261.94 102.48,260.63" fill="none" stroke="#1f77b4" stroke-width="1.0" stroke-linejoin="round" stroke-dasharray="3.5 1.5"/>
<polyline points="104.53,237.76 104.68,234.91 104.83,235.04" fill="none" stroke="#1f77b4" stroke-width="1.0" stroke-linejoin="round" stroke-dasharray="3.5 1.5"/>
<polyline points="106.74,257.81 106.88,260.67 107.03,264.66 107.18,269.59 107.32,266.19 107.47,262.19 107.62,257.72" fill="none" stroke="#1f77b4" stroke-width="1.0" stroke-linejoin="round" stroke-dasharray="3.5 1.5"/>
<polyline points="109.38,237.59 109.53,241.08 109.67,240.49 109.82,242.42 109.97,240.39 110.11,235.93 110.26,235.22" fill="none" stroke="#1f77b4" stroke-width="1.0" stroke-linejoin="round" stroke-dasharray="3.5 1.5"/>
<polyline points="112.9,271.35 113.05,273.67 113.2,277.8 113.34,281.26 113.49,284.47 113.64,287.13 113.78,289.48 113.93,292.14 114.08,290.23 114.22,289.2 114.37,288.61 114.52,288.68 114.67,289.34 114.81,289.74 114.96,290.74 115.11,292.33 115.25,292.86 115.4,292.7 115.55,291.85 115.69,291.32 115.84,289.69 115.99,289.7 116.13,289.8 116.28,289.88 116.43,289.58 116.57,289.28 116.72,289.24 116.87,288.4 117.01,288.99 117.16,287.65 117.31,287.46 117.46,288.1 117.6,288.04 117.75,288.69 117.9,289.07 118.04,288.44 118.19,288.77 118.34,288.38 118.48,288.93 118.63,290.01 118.78,291.95 118.92,291.66 119.07,290.75 119.22,289.02 119.36,288.28 119.51,288.38 119.66,288.1 119.8,288.96 119.95,289.23 120.1,289.95 120.25,288.89 120.39,287.88 120.54,288.18 120.69,287.88 120.83,287.67 120.98,286.86 121.13,285.36 121.27,285.22 121.42,283.95 121.57,283.66 121.71,283.59" fill="none" stroke="#1f77b4" stroke-width="1.0" stroke-linejoin="round" stroke-dasharray="3.5 1.5"/>
<polyline points="122.01,281.12 122.15,280.84 122.3,279.57 122.45,279.74 122.6,277.99 122.74,276.74 122.89,274.82 123.04,273.29 123.18,273.21 123.33,273.77 123.48,272.63 123.62,271.81 123.77,271.9 123.92,270.95 124.06,269.88 124.21,269.69 124.36,271.37 124.5,272.29 124.65,274.37 124.8,274.67 124.94,275.96 125.09,278.18 125.24,280.64" fill="none" stroke="#1f77b4" stroke-width="1.0" stroke-linejoin="round" stroke-dasharray="3.5 1.5"/>
<polyline points="125.83,286.04 125.97,287.28 126.12,286.76 126.27,288.18 126.41,287.84 126.56,288.55 126.71,288.97 126.85,289.03 127,287.96 127.15,288.03 127.29,288.71 127.44,289.02 127.59,289.49 127.73,290.39 127.88,292.22 128.03,292.86 128.18,292.11 128.32,291 128.47,289.97 128.62,290.22 128.76,289.8 128.91,289.8 129.06,288.88 129.2,288.34 129.35,288.32" fill="none" stroke="#1f77b4" stroke-width="1.0" stroke-linejoin="round" stroke-dasharray="3.5 1.5"/>
<polyline points="129.64,289.09 129.79,289.93 129.94,289.67 130.08,291.11 130.23,290.54 130.38,289.05 130.52,288.53 130.67,288.12 130.82,287.6 130.97,285.95 131.11,285.34 131.26,285.04 131.41,284.31 131.55,283.83 131.7,283.49 131.85,282.33 131.99,280.8" fill="none" stroke="#1f77b4" stroke-width="1.0" stroke-linejoin="round" stroke-dasharray="3.5 1.5"/>
<polyline points="132.29,276.55 132.43,274.64 132.58,273.29" fill="none" stroke="#1f77b4" stroke-width="1.0" stroke-linejoin="round" stroke-dasharray="3.5 1.5"/>
<polyline points="132.87,271.72 133.02,272.75 133.17,271.69 133.32,273.2 133.46,275.2 133.61,277.31 133.76,279.39 133.9,279.37 134.05,282.37 134.2,284.2 134.34,281.19 134.49,279.22 134.64,276.47 134.78,276.07 134.93,276.48" fill="none" stroke="#1f77b4" stroke-width="1.0" stroke-linejoin="round" stroke-dasharray="3.5 1.5"/>
<polyline points="135.22,275.52 135.37,275.62 135.52,274.64 135.66,272.46 135.81,271.95 135.96,270.04 136.11,268.55" fill="none" stroke="#1f77b4" stroke-width="1.0" stroke-linejoin="round" stroke-dasharray="3.5 1.5"/>
<polyline points="136.4,263.81 136.55,262.85 136.69,262.24" fill="none" stroke="#1f77b4" stroke-width="1.0" stroke-linejoin="round" stroke-dasharray="3.5 1.5"/>
<polyline points="136.99,258.97 137.13,256.68 137.28,255.86 137.43,256.91 137.57,260.03" fill="none" stroke="#1f77b4" stroke-width="1.0" stroke-linejoin="round" stroke-dasharray="3.5 1.5"/>
<polyline points="138.01,267.19 138.16,270.41 138.31,273.79 138.45,274.73 138.6,277.07 138.75,279.52 138.9,281.21 139.04,281.69 139.19,282.4 139.34,282.5 139.48,283.31 139.63,284.45 139.78,285.93 139.92,287.25 140.07,287.48 140.22,286.51 140.36,286.91 140.51,287.84 140.66,286.88 140.8,286.17 140.95,285.91 141.1,285.25 141.25,285.42 141.39,284.98 141.54,284.5 141.69,284.15 141.83,284.66 141.98,283.98" fill="none" stroke="#1f77b4" stroke-width="1.0" stroke-linejoin="round" stroke-dasharray="3.5 1.5"/>
<polyline points="142.27,284.51 142.42,285.96 142.57,287.32 142.71,285.95 142.86,284.4 143.01,283" fill="none" stroke="#1f77b4" stroke-width="1.0" stroke-linejoin="round" stroke-dasharray="3.5 1.5"/>
<polyline points="143.89,275.85 144.04,274.9 144.18,273.56 144.33,276.26 144.48,278.51 144.62,280.27 144.77,281.51 144.92,282.49 145.06,282.02 145.21,283.59 145.36,284.29 145.5,284.97 145.65,284.5 145.8,284.43 145.94,285.51 146.09,285.75 146.24,285.75 146.38,285.17 146.53,285.46 146.68,285.71 146.83,286.64 146.97,287.36 147.12,287.65 147.27,288.49 147.41,288.51 147.56,288.36 147.71,288.11 147.85,289.35 148,290.51 148.15,288.96 148.29,288.53 148.44,287.49 148.59,287.28 148.73,286.91 148.88,286.28 149.03,286.02 149.17,285.58 149.32,285.66" fill="none" stroke="#1f77b4" stroke-width="1.0" stroke-linejoin="round" stroke-dasharray="3.5 1.5"/>
<polyline points="149.91,282.28 150.06,282.06 150.2,280.88 150.35,279.86" fill="none" stroke="#1f77b4" stroke-width="1.0" stroke-linejoin="round" stroke-dasharray="3.5 1.5"/>
<polyline points="150.79,276.95 150.94,277.17 151.08,276.97 151.23,276.83" fill="none" stroke="#1f77b4" stroke-width="1.0" stroke-linejoin="round" stroke-dasharray="3.5 1.5"/>
<polyline points="151.67,278.94 151.82,280.22 151.97,280.91 152.11,281.24 152.26,283.02 152.41,283.64 152.55,284.27 152.7,284.55 152.85,286.12 152.99,286.08 153.14,285.84 153.29,285.79 153.43,286.15 153.58,286.6 153.73,286.41" fill="none" stroke="#1f77b4" stroke-width="1.0" stroke-linejoin="round" stroke-dasharray="3.5 1.5"/>
<polyline points="154.02,287.48 154.17,288.08 154.31,288.32 154.46,287.69 154.61,288.17 154.76,289.42 154.9,288.1 155.05,287.86" fill="none" stroke="#1f77b4" stroke-width="1.0" stroke-linejoin="round" stroke-dasharray="3.5 1.5"/>
<polyline points="155.49,286.81 155.64,287.07 155.78,286.79 155.93,286.82 156.08,286.6 156.22,285.83 156.37,283.46 156.52,281.96 156.66,281.48 156.81,279.83 156.96,277.14 157.1,275.7 157.25,273.77 157.4,273.45 157.55,271.34 157.69,269.59 157.84,270.9 157.99,270.57 158.13,271.39 158.28,270.93 158.43,274.36 158.57,276.39 158.72,278.66 158.87,279.88 159.01,282.38 159.16,283.11 159.31,285.83 159.45,284.81 159.6,282.25 159.75,281.59 159.89,280.15 160.04,277.38 160.19,276.41 160.34,274.83 160.48,272.5 160.63,271.51 160.78,270.05 160.92,267.86 161.07,265.34 161.22,265.4 161.36,262.7" fill="none" stroke="#1f77b4" stroke-width="1.0" stroke-linejoin="round" stroke-dasharray="3.5 1.5"/>
<polyline points="161.95,259.45 162.1,257.71 162.24,257.54 162.39,255.62 162.54,258.16 162.69,260.29 162.83,264.63 162.98,265.92 163.13,268.89 163.27,273.53 163.42,277.14 163.57,279.79 163.71,281.7 163.86,283.79 164.01,285.56 164.15,286.22" fill="none" stroke="#1f77b4" stroke-width="1.0" stroke-linejoin="round" stroke-dasharray="3.5 1.5"/>
<polyline points="165.03,286.88 165.18,287.54 165.33,287.9 165.48,288.03 165.62,288.57 165.77,289.69 165.92,291.52 166.06,291.58 166.21,289.91 166.36,289.06 166.5,287.54 166.65,287.59 166.8,287.88 166.94,287.94 167.09,288.28 167.24,289.36 167.38,289.11" fill="none" stroke="#1f77b4" stroke-width="1.0" stroke-linejoin="round" stroke-dasharray="3.5 1.5"/>
<polyline points="167.97,289.31 168.12,290.01 168.27,291.08 168.41,290.02 168.56,289.22 168.71,288.77" fill="none" stroke="#1f77b4" stroke-width="1.0" stroke-linejoin="round" stroke-dasharray="3.5 1.5"/>
<polyline points="169.15,288.97 169.29,289.93 169.44,290.35 169.59,291.15 169.73,289.71 169.88,288.94 170.03,287.78 170.17,287.28 170.32,287.94 170.47,289.15 170.62,289.35 170.76,289.61 170.91,290.22 171.06,290.73 171.2,289.47 171.35,287.52 171.5,287.38 171.64,287.17 171.79,286.88 171.94,286.95 172.08,286.49 172.23,285.3 172.38,284.98 172.52,284.33 172.67,284.65 172.82,285.6 172.96,287.89 173.11,288.1 173.26,286.33 173.41,284.49 173.55,282.41 173.7,281.65 173.85,280.85 173.99,279.07 174.14,279.29 174.29,276.89 174.43,275.26 174.58,273.31 174.73,272.83 174.87,271.25 175.02,271.11 175.17,269.25 175.31,268.59 175.46,266.66 175.61,266.93 175.75,264.31 175.9,264.16 176.05,265.35 176.2,267.59 176.34,269.45 176.49,272.28 176.64,268.31 176.78,265.45 176.93,261.67" fill="none" stroke="#1f77b4" stroke-width="1.0" stroke-linejoin="round" stroke-dasharray="3.5 1.5"/>
<polyline points="177.37,255.42 177.52,254.9 177.66,256.8 177.81,259.92" fill="none" stroke="#1f77b4" stroke-width="1.0" stroke-linejoin="round" stroke-dasharray="3.5 1.5"/>
<polyline points="178.1,266.45 178.25,270.68 178.4,275.94 178.54,280.69 178.69,282.14 178.84,283.01 178.99,284.6 179.13,287.33 179.28,288.66 179.43,288.94 179.57,289.33 179.72,289.34 179.87,288.76 180.01,288.43 180.16,289.17 180.31,289.89 180.45,290.26 180.6,291.36 180.75,290.66 180.89,290.11 181.04,290.5 181.19,289.97 181.34,289.84 181.48,288.64 181.63,288.66 181.78,287.96 181.92,287.65 182.07,288.28 182.22,287.84 182.36,288.5 182.51,287.93 182.66,288.07 182.8,286.89 182.95,287.05 183.1,286.11 183.24,286.1 183.39,285.64 183.54,286.17 183.68,285.52 183.83,284.07 183.98,282.87 184.13,281.15 184.27,280.05 184.42,278.57 184.57,276.95 184.71,274.32 184.86,272.35" fill="none" stroke="#1f77b4" stroke-width="1.0" stroke-linejoin="round" stroke-dasharray="3.5 1.5"/>
<polyline points="186.03,257.6 186.18,255.95 186.33,254.34 186.47,253.73 186.62,257.58 186.77,259.56 186.92,263.23 187.06,264.46 187.21,266.16 187.36,268.36 187.5,271.47 187.65,268.51 187.8,265.08 187.94,262.82 188.09,259.35" fill="none" stroke="#1f77b4" stroke-width="1.0" stroke-linejoin="round" stroke-dasharray="3.5 1.5"/>
<polyline points="188.97,251.82 189.12,250.17 189.26,250.3 189.41,251.82" fill="none" stroke="#1f77b4" stroke-width="1.0" stroke-linejoin="round" stroke-dasharray="3.5 1.5"/>
<polyline points="189.71,255.65 189.85,257.57 190,259.44 190.15,261.39 190.29,258.28 190.44,258.21 190.59,255.98 190.73,253.92 190.88,255.75 191.03,259.2 191.17,261.33 191.32,259.73 191.47,258.99 191.61,256.84" fill="none" stroke="#1f77b4" stroke-width="1.0" stroke-linejoin="round" stroke-dasharray="3.5 1.5"/>
<polyline points="191.91,255.99 192.06,258.27 192.2,260.53 192.35,262.68 192.5,258.97 192.64,257.61 192.79,254.26" fill="none" stroke="#1f77b4" stroke-width="1.0" stroke-linejoin="round" stroke-dasharray="3.5 1.5"/>
<polyline points="193.23,251.57 193.38,250.18 193.52,252.76" fill="none" stroke="#1f77b4" stroke-width="1.0" stroke-linejoin="round" stroke-dasharray="3.5 1.5"/>
<polyline points="194.4,270.29 194.55,274.7 194.7,279.98 194.85,284.86 194.99,280.9 195.14,278.45 195.29,275.84 195.43,273.05 195.58,270.75 195.73,267.93 195.87,264.75" fill="none" stroke="#1f77b4" stroke-width="1.0" stroke-linejoin="round" stroke-dasharray="3.5 1.5"/>
<polyline points="196.31,260.59 196.46,259.27 196.61,260.89 196.75,262.08 196.9,265.03 197.05,266.33 197.19,263.34 197.34,260.61" fill="none" stroke="#1f77b4" stroke-width="1.0" stroke-linejoin="round" stroke-dasharray="3.5 1.5"/>
<polyline points="199.69,209.76 199.84,207.25 199.99,211.12" fill="none" stroke="#1f77b4" stroke-width="1.0" stroke-linejoin="round" stroke-dasharray="3.5 1.5"/>
<polyline points="200.72,261.86 200.87,271.94 201.01,284.78 201.16,285.36 201.31,287.49 201.45,287.91 201.6,288.8 201.75,288.36 201.89,288.86 202.04,289.74" fill="none" stroke="#1f77b4" stroke-width="1.0" stroke-linejoin="round" stroke-dasharray="3.5 1.5"/>
<polyline points="202.48,289.05 202.63,290.71 202.78,291.66 202.92,292.48 203.07,291.08 203.22,291 203.36,289.87 203.51,290.25 203.66,289.56 203.8,289.68" fill="none" stroke="#1f77b4" stroke-width="1.0" stroke-linejoin="round" stroke-dasharray="3.5 1.5"/>
<polyline points="204.39,288.45 204.54,288.45 204.68,287.43 204.83,286.88 204.98,287.34 205.12,286.04 205.27,286.75 205.42,288.09 205.57,289.19 205.71,287.27 205.86,286.54 206.01,285.91 206.15,285.84 206.3,287.27 206.45,287.52" fill="none" stroke="#1f77b4" stroke-width="1.0" stroke-linejoin="round" stroke-dasharray="3.5 1.5"/>
<polyline points="206.74,289.34 206.89,290 207.03,290.76 207.18,291.88 207.33,289.81 207.47,288.06 207.62,287.52 207.77,286.53 207.91,286.48 208.06,285.96 208.21,285.28 208.36,285.08 208.5,286.05 208.65,287.33 208.8,287.38 208.94,285.61 209.09,283.9 209.24,283.55 209.38,282.47 209.53,282.58" fill="none" stroke="#1f77b4" stroke-width="1.0" stroke-linejoin="round" stroke-dasharray="3.5 1.5"/>
<polyline points="209.82,282.25 209.97,281.77 210.12,280.5 210.26,278.84 210.41,279.65 210.56,281.68 210.71,283.44 210.85,284.26 211,284.98 211.15,286.21 211.29,287.98 211.44,286.2 211.59,286.09 211.73,284.9 211.88,284.16 212.03,285.23 212.17,286.21 212.32,287.82 212.47,289.68 212.61,288.52 212.76,286.47 212.91,284.9 213.05,283.83 213.2,281.84 213.35,281.04 213.5,280.07 213.64,278.08 213.79,275.31 213.94,273.12 214.08,272.9 214.23,270.77 214.38,270.72 214.52,269.69 214.67,268.27 214.82,266.53 214.96,265.86 215.11,265 215.26,265.09 215.4,263.87" fill="none" stroke="#1f77b4" stroke-width="1.0" stroke-linejoin="round" stroke-dasharray="3.5 1.5"/>
<polyline points="216.14,260.77 216.29,263.16 216.43,265.66 216.58,269.66 216.73,271.67 216.87,272.4 217.02,274.34 217.17,276.82 217.31,274.3 217.46,270.95 217.61,269.28 217.75,272.97 217.9,274.53 218.05,277.49 218.19,281.35 218.34,283.84 218.49,286 218.63,287.3 218.78,286.68 218.93,287.28 219.08,286.93" fill="none" stroke="#1f77b4" stroke-width="1.0" stroke-linejoin="round" stroke-dasharray="3.5 1.5"/>
<polyline points="219.66,289.02 219.81,289.2 219.96,290.76 220.1,291.23 220.25,289.15 220.4,288.02 220.54,287.27 220.69,286.59 220.84,286.83 220.98,285.68 221.13,285.55 221.28,284.29 221.43,283.51 221.57,282.7 221.72,282.32 221.87,281.39 222.01,279.93 222.16,281.3 222.31,283.05 222.45,283.37 222.6,285.52 222.75,283 222.89,280.9 223.04,278.3 223.19,277.16 223.33,274.31 223.48,272.95 223.63,271.04 223.77,268.62 223.92,267.34 224.07,265.87 224.22,266.55" fill="none" stroke="#1f77b4" stroke-width="1.0" stroke-linejoin="round" stroke-dasharray="3.5 1.5"/>
<polyline points="224.95,266.69 225.1,268.42 225.24,270.25" fill="none" stroke="#1f77b4" stroke-width="1.0" stroke-linejoin="round" stroke-dasharray="3.5 1.5"/>
<polyline points="225.54,274.9 225.68,276.33 225.83,278.6 225.98,280.85 226.12,283.99 226.27,287.04 226.42,285.61 226.56,285.37 226.71,284 226.86,282.75 227.01,281.65 227.15,279.31 227.3,277.19 227.45,273.93 227.59,273.28 227.74,270.35 227.89,269.14 228.03,266.09 228.18,263.89 228.33,261.19" fill="none" stroke="#1f77b4" stroke-width="1.0" stroke-linejoin="round" stroke-dasharray="3.5 1.5"/>
<polyline points="228.62,257.14 228.77,256.39 228.91,258.22" fill="none" stroke="#1f77b4" stroke-width="1.0" stroke-linejoin="round" stroke-dasharray="3.5 1.5"/>
<polyline points="229.21,263.7 229.36,266.54 229.5,270.35 229.65,274.19 229.8,278.9 229.94,282.34 230.09,279.93 230.24,275.16 230.38,272.95 230.53,269.62 230.68,268.43" fill="none" stroke="#1f77b4" stroke-width="1.0" stroke-linejoin="round" stroke-dasharray="3.5 1.5"/>
<polyline points="231.7,250.23 231.85,250.79 232,248.05 232.15,249.45 232.29,254.25" fill="none" stroke="#1f77b4" stroke-width="1.0" stroke-linejoin="round" stroke-dasharray="3.5 1.5"/>
<polyline points="232.73,260.14 232.88,264.71 233.03,266.59 233.17,268.96 233.32,271.47 233.47,274.78 233.61,278.62 233.76,273.68 233.91,269.63" fill="none" stroke="#1f77b4" stroke-width="1.0" stroke-linejoin="round" stroke-dasharray="3.5 1.5"/>
<polyline points="235.67,231.15 235.82,229.86 235.96,227.94 236.11,231.92 236.26,233.76 236.4,238.89" fill="none" stroke="#1f77b4" stroke-width="1.0" stroke-linejoin="round" stroke-dasharray="3.5 1.5"/>
<polyline points="238.02,278.3 238.17,280.91 238.31,281.97 238.46,283.43" fill="none" stroke="#1f77b4" stroke-width="1.0" stroke-linejoin="round" stroke-dasharray="3.5 1.5"/>
<polyline points="238.75,284.48 238.9,285.09 239.05,286.98 239.19,287.59 239.34,286.22 239.49,284.84 239.63,284.25 239.78,284.91 239.93,285.33 240.08,286.42 240.22,287.33 240.37,285.71 240.52,283.53 240.66,281.64 240.81,281.26 240.96,279.98 241.1,278.15 241.25,278.01 241.4,276.5 241.54,275.65 241.69,274.99 241.84,273.02 241.98,271.58 242.13,269.13 242.28,267.81 242.42,267.53" fill="none" stroke="#1f77b4" stroke-width="1.0" stroke-linejoin="round" stroke-dasharray="3.5 1.5"/>
<polyline points="243.45,262.46 243.6,262.14 243.75,261.1 243.89,263.68 244.04,267.86 244.19,271.81 244.33,274.39 244.48,277.62 244.63,279.57 244.77,281.87 244.92,276.68 245.07,270.28 245.21,265.91 245.36,261.99 245.51,259.56" fill="none" stroke="#1f77b4" stroke-width="1.0" stroke-linejoin="round" stroke-dasharray="3.5 1.5"/>
<polyline points="245.8,254.14 245.95,251.18 246.1,249.72 246.24,246.24 246.39,249.16 246.54,251.46" fill="none" stroke="#1f77b4" stroke-width="1.0" stroke-linejoin="round" stroke-dasharray="3.5 1.5"/>
<polyline points="247.12,261.46 247.27,265.32 247.42,268.13 247.56,265.63 247.71,263.45 247.86,260.93" fill="none" stroke="#1f77b4" stroke-width="1.0" stroke-linejoin="round" stroke-dasharray="3.5 1.5"/>
<polyline points="248.45,259.36 248.59,260.42 248.74,264.08 248.89,265.04 249.03,263.67 249.18,259.73 249.33,259.68" fill="none" stroke="#1f77b4" stroke-width="1.0" stroke-linejoin="round" stroke-dasharray="3.5 1.5"/>
<polyline points="250.65,260.45 250.8,261.14 250.94,263.35 251.09,264.67 251.24,261.97 251.38,260.72" fill="none" stroke="#1f77b4" stroke-width="1.0" stroke-linejoin="round" stroke-dasharray="3.5 1.5"/>
<polyline points="253.73,248.56 253.88,257.32 254.03,265.46 254.17,275.06 254.32,272.58 254.47,268.46 254.61,265.92 254.76,265.81" fill="none" stroke="#1f77b4" stroke-width="1.0" stroke-linejoin="round" stroke-dasharray="3.5 1.5"/>
<polyline points="255.64,257.84 255.79,258.15 255.93,261.73 256.08,265.19" fill="none" stroke="#1f77b4" stroke-width="1.0" stroke-linejoin="round" stroke-dasharray="3.5 1.5"/>
<polyline points="256.52,276.51 256.67,279.98 256.82,283.41 256.96,284.93 257.11,287.35 257.26,288.59 257.4,289.38 257.55,288.59 257.7,289.83 257.84,289.93 257.99,290.96 258.14,290.47 258.28,288.93 258.43,289.23 258.58,288.52" fill="none" stroke="#1f77b4" stroke-width="1.0" stroke-linejoin="round" stroke-dasharray="3.5 1.5"/>
<polyline points="38.45,285.84 38.6,286.82 38.74,286.62 38.89,287.74 39.04,287.45 39.18,288.22 39.33,287.88 39.48,288 39.62,287.49 39.77,287.37 39.92,287.27 40.07,287.56 40.21,286.51 40.36,286.02 40.51,285.84 40.65,284.76 40.8,283.15 40.95,282.32 41.09,281.83 41.24,280.58 41.39,280.27 41.53,279.68 41.68,277.76 41.83,277.2 41.97,276.76 42.12,276.28 42.27,276.29 42.41,275.9 42.56,276.11 42.71,275.33 42.86,277.03 43,279.43 43.15,280.58 43.3,277.75 43.44,275.1 43.59,272.38 43.74,270.08 43.88,269.31 44.03,268.36 44.18,266.25 44.32,267.08 44.47,266.83 44.62,267.67 44.76,268.16 44.91,266.54 45.06,266.08 45.21,264.82 45.35,265.87 45.5,265.65 45.65,268.01 45.79,268.16 45.94,267.69 46.09,265.83 46.23,264.66 46.38,263.87 46.53,264.81 46.67,265.34 46.82,266.25 46.97,268.17 47.11,269.51 47.26,270.89 47.41,273.42 47.55,271.05 47.7,269.64 47.85,268.16 48,267.39 48.14,265.57 48.29,265.77 48.44,264.82 48.58,262.8 48.73,260.5 48.88,259.57 49.02,256.87 49.17,255.3 49.32,252.16 49.46,250.49 49.61,249.88 49.76,248.7 49.9,249.1 50.05,249.06 50.2,250.73 50.34,251.38 50.49,254.31 50.64,257.23 50.79,260.51 50.93,262.32 51.08,266.25 51.23,262.43 51.37,261.26 51.52,257.66 51.67,256.07 51.81,251.51 51.96,248.79 52.11,247.15 52.25,246.98 52.4,246.2 52.55,250.65 52.69,253.38 52.84,257.66 52.99,263.73 53.14,272.21 53.28,278.67 53.43,280.91 53.58,282.72 53.72,285.53 53.87,287.27 54.02,287.96 54.16,288.91 54.31,289.02 54.46,289.93 54.6,290.13 54.75,289.28 54.9,287.43 55.04,285.84 55.19,285.88 55.34,285.45 55.48,284.93 55.63,283.93 55.78,285.8 55.93,287.69 56.07,289.18 56.22,289.25 56.37,290.06 56.51,290.67 56.66,291.12 56.81,291.09 56.95,290.97 57.1,290 57.25,290.34 57.39,289.61 57.54,289.18 57.69,289.15 57.83,289.5 57.98,290.38 58.13,290.26 58.27,291.09 58.42,290.18 58.57,290.02 58.72,289.5 58.86,288.22 59.01,288.21 59.16,286.86 59.3,286.95 59.45,285.82 59.6,285.84 59.74,286.22 59.89,287.35 60.04,289.03 60.18,290.7 60.33,291.09 60.48,291 60.62,290.7 60.77,289.74 60.92,289.29 61.06,289.18 61.21,287.27 61.36,286.26 61.51,284.56 61.65,283.93 61.8,282.66 61.95,281.86 62.09,280.23 62.24,280.1 62.39,278.67 62.53,277.53 62.68,276.94 62.83,276.02 62.97,276.78 63.12,275.33 63.27,274.15 63.41,270.97 63.56,270.08 63.71,269.83 63.86,268.26 64,267 64.15,266.25 64.3,265.46 64.44,263.78 64.59,262.77 64.74,262.91 64.88,262.15 65.03,261.51 65.18,259.57 65.32,257.65 65.47,257.77 65.62,257.3 65.76,255.75 65.91,254.89 66.06,253.48 66.2,250.49 66.35,249.92 66.5,250.34 66.65,249.27 66.79,249.06 66.94,250.21 67.09,253.56 67.23,255.75 67.38,251.63 67.53,250.9 67.67,246.1 67.82,243.81 67.97,239.97 68.11,236.24 68.26,235.93 68.41,231.39 68.55,227.87 68.7,224.19 68.85,220.88 68.99,218.78 69.14,217.48 69.29,215.63 69.44,215.67 69.58,212.54 69.73,213.24 69.88,213.76 70.02,216.33 70.17,218.97 70.32,217.99 70.46,220.06 70.61,220.88 70.76,224.94 70.9,225.49 71.05,230.05 71.2,231.39 71.34,243.83 71.49,257.66 71.64,270.5 71.78,283.93 71.93,279.64 72.08,275.01 72.23,270.45 72.37,264.82 72.52,267.63 72.67,268.17 72.81,271.79 72.96,273.42 73.11,273.83 73.25,276.3 73.4,276.76 73.55,277.99 73.69,278.72 73.84,279.86 73.99,280.58 74.13,279.18 74.28,279.74 74.43,278.67 74.58,277.86 74.72,277.51 74.87,276.86 75.02,275.33 75.16,276.75 75.31,279.1 75.46,280.58 75.6,281.92 75.75,282.91 75.9,285.14 76.04,285.84 76.19,287.31 76.34,287.24 76.48,287.66 76.63,289.18 76.78,290.46 76.92,290.52 77.07,291.09 77.22,289.96 77.37,289.69 77.51,289 77.66,289.18 77.81,288.02 77.95,286.28 78.1,285.84 78.25,286.84 78.39,286.59 78.54,286.41 78.69,287.27 78.83,286.31 78.98,285.13 79.13,283.93 79.27,283.17 79.42,282.44 79.57,280.92 79.71,280.58 79.86,277.99 80.01,277.47 80.16,275.53 80.3,273.42 80.45,273.98 80.6,275.21 80.74,276.76 80.89,278.02 81.04,280.05 81.18,281.48 81.33,283.93 81.48,284.53 81.62,285.96 81.77,287.27 81.92,285.92 82.06,284.56 82.21,281.69 82.36,280.58 82.5,277.58 82.65,275.11 82.8,273.42 82.95,274.68 83.09,274.66 83.24,275.16 83.39,276.76 83.53,275.97 83.68,275.01 83.83,273.43 83.97,271.51 84.12,271.57 84.27,270.2 84.41,270.08 84.56,270.77 84.71,272.1 84.85,273.67 85,275.33 85.15,278.03 85.3,281.59 85.44,285.84 85.59,283.66 85.74,280.62 85.88,278.66 86.03,276.76 86.18,272.63 86.32,267.35 86.47,262.91 86.62,260.2 86.76,256.23 86.91,251.74 87.06,249.06 87.2,248.22 87.35,244.66 87.5,242.79 87.64,240.46 87.79,238.24 87.94,236.06 88.09,231.87 88.23,233.94 88.38,236.67 88.53,239.5 88.67,240.46 88.82,234.4 88.97,227.14 89.11,221.36 89.26,216.54 89.41,207.52 89.55,202.26 89.7,201.01 89.85,196.41 89.99,193.88 90.14,190.32 90.29,186.67 90.43,184.46 90.58,183.13 90.73,182.2 90.88,184.35 91.02,185.4 91.17,184.29 91.32,186.97 91.46,191.59 91.61,195.71 91.76,200.02 91.9,205.6 92.05,207.61 92.2,207.64 92.34,207.99 92.49,214.33 92.64,224.56 92.78,230.89 92.93,239.99 93.08,251.54 93.23,262.4 93.37,271.99 93.52,277.95 93.67,283.93 93.81,284.85 93.96,284.98 94.11,285.32 94.25,286.31 94.4,287.61 94.55,287.59 94.69,288.22 94.84,288.64 94.99,288.14 95.13,288.47 95.28,289.18 95.43,287.53 95.57,286.6 95.72,285.84 95.87,285.11 96.02,283.74 96.16,282.9 96.31,282.02 96.46,281.87 96.6,281.64 96.75,280.7 96.9,280.58 97.04,279.29 97.19,279.74 97.34,278.67 97.48,278.44 97.63,278.3 97.78,277.47 97.92,276.76 98.07,277.59 98.22,278.73 98.36,278.67 98.51,277.59 98.66,277.27 98.81,275.62 98.95,275.33 99.1,275.16 99.25,273.63 99.39,273.42 99.54,273.38 99.69,275.69 99.83,276.16 99.98,276.76 100.13,274.6 100.27,274.31 100.42,273.14 100.57,271.51 100.71,270.44 100.86,267.34 101.01,266.25 101.15,265.31 101.3,262.81 101.45,262.19 101.6,261 101.74,262.98 101.89,262.48 102.04,264.82 102.18,262.64 102.33,261.65 102.48,260.65 102.62,259.57 102.77,256.58 102.92,253.7 103.06,252.4 103.21,251.39 103.36,249.5 103.5,246.33 103.65,245.24 103.8,244.27 103.95,241.49 104.09,240.71 104.24,240.46 104.39,238.65 104.53,237.98 104.68,235.21 104.83,235.23 104.97,235.62 105.12,236.04 105.27,236.64 105.41,236.45 105.56,237.98 105.71,238.55 105.85,239.09 106,241.63 106.15,244.51 106.29,245.24 106.44,248.54 106.59,254.34 106.74,257.66 106.88,260.25 107.03,263.75 107.18,268.16 107.32,265.31 107.47,261.83 107.62,257.66 107.76,254.54 107.91,252.51 108.06,250.1 108.2,247.15 108.35,245.16 108.5,244.98 108.64,244.24 108.79,241.9 108.94,240.64 109.08,238.57 109.23,238.55 109.38,237.69 109.53,240.66 109.67,239.27 109.82,240.46 109.97,239.23 110.11,235.55 110.26,235.21 110.41,234.59 110.55,234.53 110.7,232.88 110.85,231.39 110.99,231.66 111.14,233.05 111.29,232.34 111.43,233.06 111.58,235.97 111.73,236.28 111.88,238.55 112.02,243.25 112.17,246.46 112.32,249.96 112.46,254.31 112.61,260.71 112.76,266.22 112.9,271.51 113.05,274 113.2,277.9 113.34,281.07 113.49,283.93 113.64,285.82 113.78,287.8 113.93,290.13 114.08,289.46 114.22,289.67 114.37,289.08 114.52,288.84 114.67,289.18 114.81,289.08 114.96,289.58 115.11,290.36 115.25,291.09 115.4,290.64 115.55,290.85 115.69,291.04 115.84,289.77 115.99,290.13 116.13,290.06 116.28,289.97 116.43,289.5 116.57,289.02 116.72,289.18 116.87,288.54 117.01,289.33 117.16,288.21 117.31,287.8 117.46,288.22 117.6,287.75 117.75,288 117.9,288.7 118.04,288.46 118.19,289.18 118.34,289.18 118.48,288.95 118.63,288.88 118.78,289.66 118.92,289.73 119.07,289.97 119.22,289.03 119.36,288.68 119.51,289.18 119.66,288.44 119.8,288.85 119.95,288.68 120.1,288.93 120.25,288.22 120.39,287.54 120.54,288.16 120.69,288.18 120.83,288.02 120.98,287.27 121.13,285.81 121.27,285.72 121.42,284.32 121.57,283.93 121.71,283.76 121.86,282.28 122.01,281.02 122.15,280.58 122.3,279.18 122.45,279.2 122.6,277.75 122.74,276.76 122.89,275.09 123.04,273.78 123.18,273.42 123.33,273.7 123.48,272.3 123.62,271.25 123.77,271.51 123.92,270.8 124.06,270 124.21,270.08 124.36,271.78 124.5,272.72 124.65,274.91 124.8,275.33 124.94,276.48 125.09,278.57 125.24,280.87 125.39,282.02 125.53,282.61 125.68,285 125.83,285.84 125.97,286.99 126.12,286.47 126.27,287.87 126.41,287.52 126.56,288.22 126.71,288.92 126.85,289.26 127,288.47 127.15,288.83 127.29,289.18 127.44,289.15 127.59,289.28 127.73,289.46 127.88,290.38 128.03,290.13 128.18,290 128.32,289.53 128.47,288.92 128.62,289.18 128.76,288.79 128.91,288.81 129.06,288.17 129.2,287.94 129.35,288.22 129.5,288.76 129.64,289.04 129.79,289.48 129.94,288.48 130.08,289.18 130.23,289.19 130.38,288.31 130.52,288 130.67,287.43 130.82,287.27 130.97,285.97 131.11,285.7 131.26,285.75 131.41,284.7 131.55,283.93 131.7,283.3 131.85,281.88 131.99,280.58 132.14,278.39 132.29,276.74 132.43,274.98 132.58,273.42 132.73,272.26 132.87,271.53 133.02,272.46 133.17,271.51 133.32,272.88 133.46,274.75 133.61,276.76 133.76,278.88 133.9,278.57 134.05,280.87 134.2,282.02 134.34,279.98 134.49,278.97 134.64,276.76 134.78,276.54 134.93,276.72 135.08,274.85 135.22,275.33 135.37,275.21 135.52,274.21 135.66,272.04 135.81,271.51 135.96,269.61 136.11,268.36 136.25,266.25 136.4,264.01 136.55,263.2 136.69,262.43 136.84,261 136.99,259.08 137.13,257.12 137.28,256.7 137.43,257.39 137.57,260.12 137.72,260.75 137.87,262.91 138.01,266.99 138.16,270.14 138.31,273.42 138.45,274.32 138.6,276.59 138.75,278.96 138.9,280.58 139.04,281.35 139.19,282.35 139.34,282.77 139.48,283.93 139.63,284.53 139.78,285.27 139.92,285.84 140.07,286.07 140.22,285.52 140.36,285.74 140.51,286.31 140.66,286.53 140.8,286.14 140.95,285.84 141.1,284.77 141.25,284.54 141.39,284.25 141.54,283.93 141.69,283.73 141.83,284.38 141.98,283.93 142.13,284.3 142.27,284.51 142.42,285.45 142.57,285.84 142.71,285.02 142.86,284.03 143.01,282.82 143.15,282.02 143.3,281.36 143.45,279.25 143.59,278.67 143.74,278.35 143.89,276.04 144.04,275.4 144.18,274.37 144.33,276.88 144.48,278.93 144.62,280.58 144.77,281.79 144.92,282.79 145.06,282.33 145.21,283.93 145.36,284.64 145.5,285.31 145.65,284.84 145.8,284.75 145.94,285.84 146.09,286.24 146.24,286.42 146.38,286 146.53,286.47 146.68,286.31 146.83,286.85 146.97,287.17 147.12,287.05 147.27,288.22 147.41,288.59 147.56,288.8 147.71,288.51 147.85,288.89 148,289.18 148.15,288.28 148.29,288.51 148.44,287.84 148.59,287.64 148.73,287.27 148.88,286.64 149.03,286.33 149.17,285.84 149.32,285.86 149.47,285.44 149.62,284.56 149.76,283.93 149.91,282.03 150.06,281.68 150.2,280.58 150.35,279.63 150.5,278.76 150.64,277.24 150.79,276.76 150.94,276.9 151.08,276.72 151.23,276.69 151.38,276.28 151.52,277.59 151.67,279.18 151.82,280.58 151.97,281.25 152.11,281.57 152.26,283.33 152.41,283.93 152.55,284.37 152.7,284.47 152.85,285.84 152.99,285.6 153.14,285.57 153.29,285.74 153.43,286.31 153.58,286.99 153.73,286.6 153.87,287.25 154.02,287.27 154.17,287.66 154.31,288.18 154.46,287.45 154.61,287.44 154.76,288.22 154.9,287.48 155.05,287.84 155.2,286.92 155.34,287.27 155.49,286.64 155.64,286.72 155.78,286.26 155.93,286.1 156.08,286.31 156.22,285.96 156.37,283.98 156.52,282.86 156.66,282.02 156.81,280.02 156.96,277.03 157.1,275.33 157.25,273.58 157.4,273.47 157.55,271.6 157.69,270.08 157.84,271.39 157.99,271.03 158.13,271.9 158.28,271.51 158.43,274.81 158.57,276.64 158.72,278.67 158.87,279.63 159.01,281.82 159.16,281.88 159.31,283.93 159.45,283.77 159.6,282.14 159.75,282.02 159.89,280.72 160.04,278.04 160.19,276.99 160.34,275.33 160.48,272.91 160.63,271.85 160.78,270.39 160.92,268.16 161.07,265.61 161.22,265.68 161.36,262.91 161.51,262.9 161.66,262.04 161.8,260.27 161.95,259.57 162.1,258.01 162.24,258.25 162.39,256.7 162.54,258.9 162.69,260.69 162.83,264.93 162.98,266.25 163.13,269.32 163.27,274.09 163.42,277.82 163.57,280.58 163.71,282.34 163.86,284.26 164.01,285.84 164.15,286.28 164.3,286.21 164.45,287.39 164.59,286.83 164.74,287.27 164.89,287.96 165.03,287.03 165.18,287.88 165.33,288.43 165.48,288.22 165.62,288.43 165.77,288.82 165.92,289.53 166.06,289.18 166.21,288.63 166.36,288.89 166.5,288.13 166.65,288.06 166.8,288.22 166.94,287.96 167.09,287.98 167.24,289.08 167.38,288.9 167.53,289.18 167.68,289.18 167.82,289.21 167.97,289.13 168.12,289.21 168.27,289.66 168.41,289.17 168.56,288.94 168.71,288.74 168.85,289.01 169,288.22 169.15,288.78 169.29,289.22 169.44,288.81 169.59,289.18 169.73,288.84 169.88,289.18 170.03,288.77 170.17,287.91 170.32,288.22 170.47,288.89 170.62,288.56 170.76,288.78 170.91,289.03 171.06,289.18 171.2,289.09 171.35,287.79 171.5,287.95 171.64,287.65 171.79,287.27 171.94,287.4 172.08,286.98 172.23,285.88 172.38,285.71 172.52,284.88 172.67,284.85 172.82,285.05 172.96,286.24 173.11,285.84 173.26,284.97 173.41,284.02 173.55,282.45 173.7,281.53 173.85,280.58 173.99,278.67 174.14,278.74 174.29,276.68 174.43,275.33 174.58,273.64 174.73,273.41 174.87,271.51 175.02,271.09 175.17,268.99 175.31,268.11 175.46,266.25 175.61,266.73 175.75,264.56 175.9,264.82 176.05,265.63 176.2,267.1 176.34,268.02 176.49,270.08 176.64,266.97 176.78,264.95 176.93,261.61 177.08,259.57 177.22,257.13 177.37,255.65 177.52,255.27 177.66,257.14 177.81,260.11 177.96,262.5 178.1,266.25 178.25,270.17 178.4,275.57 178.54,280.58 178.69,282.38 178.84,283.63 178.99,284.9 179.13,287.27 179.28,288.22 179.43,288.13 179.57,288.92 179.72,289.34 179.87,289.18 180.01,289.27 180.16,289.98 180.31,290.29 180.45,289.84 180.6,290.13 180.75,289.82 180.89,289.66 181.04,290.06 181.19,289.18 181.34,289.49 181.48,288.74 181.63,289.21 181.78,288.96 181.92,288.22 182.07,288.44 182.22,287.6 182.36,287.86 182.51,287.69 182.66,288.22 182.8,287.43 182.95,287.99 183.1,286.71 183.24,286.39 183.39,285.62 183.54,285.84 183.68,285.44 183.83,284.23 183.98,283.26 184.13,281.76 184.27,280.58 184.42,279.04 184.57,277.35 184.71,274.64 184.86,272.51 185.01,271.51 185.15,267.77 185.3,266.66 185.45,262.91 185.59,262.34 185.74,260.4 185.89,258.35 186.03,257.66 186.18,256.4 186.33,255.58 186.47,255.75 186.62,258.89 186.77,260.15 186.92,263.53 187.06,264.82 187.21,266.18 187.36,267.66 187.5,270.08 187.65,267.83 187.8,265.08 187.94,263.14 188.09,259.57 188.24,256.89 188.38,256.37 188.53,254.74 188.68,252.4 188.82,252.07 188.97,252 189.12,250.49 189.26,250.57 189.41,252.04 189.56,254.33 189.71,255.75 189.85,257.26 190,258.33 190.15,259.57 190.29,257.24 190.44,258.04 190.59,256.3 190.73,254.31 190.88,255.65 191.03,258.25 191.17,259.57 191.32,258.62 191.47,258.6 191.61,256.87 191.76,255.75 191.91,256.04 192.06,257.92 192.2,259.47 192.35,261 192.5,257.96 192.64,257.31 192.79,254.31 192.94,252.85 193.08,251.24 193.23,251.77 193.38,250.49 193.52,252.99 193.67,252.77 193.82,254.31 193.96,257.29 194.11,263.05 194.26,266.6 194.4,270.08 194.55,274.32 194.7,279.26 194.85,283.93 194.99,280.51 195.14,278.59 195.29,276.29 195.43,273.42 195.58,271.07 195.73,268.18 195.87,264.95 196.02,262.91 196.17,261.22 196.31,260.82 196.46,259.57 196.61,261.15 196.75,261.94 196.9,264.19 197.05,264.82 197.19,262.46 197.34,260.4 197.49,257.66 197.64,258.32 197.78,256.27 197.93,257.21 198.08,255.75 198.22,254.02 198.37,251.03 198.52,249.06 198.66,244.6 198.81,241.74 198.96,237.33 199.1,235.21 199.25,229.77 199.4,220.14 199.54,214.2 199.69,209.94 199.84,207.51 199.99,211.27 200.13,216.58 200.28,225.9 200.43,239.51 200.57,249.06 200.72,261.62 200.87,271.45 201.01,283.93 201.16,284.42 201.31,286.64 201.45,287.2 201.6,288.22 201.75,287.94 201.89,288.57 202.04,289.58 202.19,289.18 202.33,289.66 202.48,288.92 202.63,289.93 202.78,289.85 202.92,289.66 203.07,289.13 203.22,289.89 203.36,289.25 203.51,289.72 203.66,289.18 203.8,289.44 203.95,288.73 204.1,288.22 204.24,288.57 204.39,288.22 204.54,288.1 204.68,286.97 204.83,286.47 204.98,287.02 205.12,285.84 205.27,286.06 205.42,286.76 205.57,287.27 205.71,286.34 205.86,286.65 206.01,286.39 206.15,286.31 206.3,287.56 206.45,287.62 206.59,288.22 206.74,289.2 206.89,289.39 207.03,289.29 207.18,289.66 207.33,288.37 207.47,287.41 207.62,287.27 207.77,286.18 207.91,286.08 208.06,285.55 208.21,284.88 208.36,284.83 208.5,285.57 208.65,286.3 208.8,285.84 208.94,284.83 209.09,283.89 209.24,283.93 209.38,282.85 209.53,282.75 209.68,282.02 209.82,282.02 209.97,281.39 210.12,280.22 210.26,278.67 210.41,279.38 210.56,281.27 210.71,283.04 210.85,283.93 211,284.34 211.15,284.87 211.29,285.84 211.44,284.79 211.59,285.44 211.73,284.7 211.88,283.93 212.03,284.74 212.17,285.1 212.32,285.73 212.47,287.27 212.61,287.36 212.76,286.56 212.91,285.84 213.05,284.65 213.2,282.54 213.35,281.65 213.5,280.58 213.64,278.52 213.79,275.67 213.94,273.42 214.08,273.16 214.23,271.06 214.38,271.07 214.52,270.08 214.67,268.68 214.82,266.92 214.96,266.25 215.11,265.39 215.26,265.5 215.4,264.07 215.55,262.91 215.7,263.51 215.84,262.11 215.99,260.4 216.14,261 216.29,263.46 216.43,266.08 216.58,270.08 216.73,272.07 216.87,272.36 217.02,273.5 217.17,275.33 217.31,273.68 217.46,271.22 217.61,270.08 217.75,273.45 217.9,274.61 218.05,277.17 218.19,280.58 218.34,283.27 218.49,285.68 218.63,287.27 218.78,286.94 218.93,287.53 219.08,287.16 219.22,287.96 219.37,288.22 219.52,288.79 219.66,288.93 219.81,288.57 219.96,289.21 220.1,289.18 220.25,288.14 220.4,288.03 220.54,287.92 220.69,287.13 220.84,287.27 220.98,286 221.13,285.77 221.28,284.6 221.43,283.93 221.57,283.2 221.72,282.97 221.87,282.04 222.01,280.58 222.16,281.79 222.31,283 222.45,282.52 222.6,283.93 222.75,282.17 222.89,280.83 223.04,278.67 223.19,277.6 223.33,274.77 223.48,273.44 223.63,271.51 223.77,269.04 223.92,267.75 224.07,266.25 224.22,266.74 224.36,264.55 224.51,264.37 224.66,264.82 224.8,266.23 224.95,266.44 225.1,268.16 225.24,270.05 225.39,273.21 225.54,275.09 225.68,276.76 225.83,279.33 225.98,281.2 226.12,283.56 226.27,285.84 226.42,285.1 226.56,285.27 226.71,283.93 226.86,282.35 227.01,280.95 227.15,278.75 227.3,276.76 227.45,273.63 227.59,273.06 227.74,270.08 227.89,268.8 228.03,265.74 228.18,263.53 228.33,261 228.47,260.52 228.62,257.3 228.77,256.7 228.91,258.4 229.06,260.75 229.21,263.55 229.36,266.25 229.5,270.18 229.65,274.02 229.8,278.62 229.94,282.02 230.09,279.95 230.24,275.47 230.38,273.42 230.53,270.02 230.68,268.61 230.82,265.48 230.97,262.91 231.12,260.92 231.26,256.42 231.41,254.31 231.56,252 231.7,250.47 231.85,251.42 232,249.06 232.15,250.08 232.29,254.5 232.44,255.75 232.59,257.78 232.73,259.95 232.88,264.32 233.03,266.25 233.17,268.69 233.32,270.92 233.47,273.6 233.61,276.76 233.76,272.66 233.91,269.43 234.05,266.25 234.2,262.77 234.35,259.24 234.49,255.24 234.64,252.4 234.79,247.77 234.94,243.99 235.08,240.46 235.23,237.1 235.38,236.61 235.52,234.17 235.67,231.39 235.82,230.52 235.96,229 236.11,232.61 236.26,234.08 236.4,239.04 236.55,240.46 236.7,245.64 236.84,254.05 236.99,259.57 237.14,262.7 237.28,265.99 237.43,270.39 237.58,273.42 237.73,276.05 237.87,276.16 238.02,278.09 238.17,280.58 238.31,281.7 238.46,283.22 238.61,283.93 238.75,284.42 238.9,284.71 239.05,285.92 239.19,285.84 239.34,285.35 239.49,284.91 239.63,284.88 239.78,285.54 239.93,285.58 240.08,285.77 240.22,285.84 240.37,284.89 240.52,283.39 240.66,282.02 240.81,281.78 240.96,280.62 241.1,278.89 241.25,278.67 241.4,277.06 241.54,276.13 241.69,275.4 241.84,273.42 241.98,271.97 242.13,269.49 242.28,268.16 242.42,267.74 242.57,266.68 242.72,266.34 242.87,266.25 243.01,265.14 243.16,263.61 243.31,262.91 243.45,262.59 243.6,262.62 243.75,261.96 243.89,264.11 244.04,267.85 244.19,271.51 244.33,273.99 244.48,276.91 244.63,278.37 244.77,280.58 244.92,276.1 245.07,270.31 245.21,266.25 245.36,262.27 245.51,259.8 245.66,258.41 245.8,254.31 245.95,251.47 246.1,250.32 246.24,247.15 246.39,249.62 246.54,251.6 246.68,256.09 246.83,257.66 246.98,258.73 247.12,261.22 247.27,264.27 247.42,266.25 247.56,264.44 247.71,263.09 247.86,261 248,259.89 248.15,259.23 248.3,260 248.45,259.57 248.59,260.04 248.74,262.67 248.89,262.91 249.03,262.4 249.18,259.32 249.33,259.72 249.47,257.66 249.62,256.46 249.77,255.83 249.91,255.75 250.06,257.73 250.21,256.85 250.35,258.47 250.5,259.57 250.65,260.4 250.8,260.76 250.94,262.28 251.09,262.91 251.24,260.98 251.38,260.52 251.53,259.57 251.68,256.29 251.82,254.49 251.97,251.89 252.12,249.06 252.26,244.89 252.41,240.73 252.56,235.21 252.7,232.04 252.85,230.87 253,227.74 253.14,227.09 253.29,231.12 253.44,235.21 253.59,240.46 253.73,248.51 253.88,256.94 254.03,264.43 254.17,273.42 254.32,271.75 254.47,268.4 254.61,266.25 254.76,265.98 254.91,264.43 255.05,261.26 255.2,261 255.35,261.48 255.49,259.11 255.64,258.08 255.79,258.61 255.93,262 256.08,265.26 256.23,270.08 256.38,274.18 256.52,276.62 256.67,280.28 256.82,283.93 256.96,285.67 257.11,288.03 257.26,289.18 257.4,289.87 257.55,288.96 257.7,289.91 257.84,289.31 257.99,289.66 258.14,290.02 258.28,289.22 258.43,289.9 258.58,289.18" fill="none" stroke="#ff7f0e" stroke-width="1.3" stroke-linejoin="round"/>
</g>
<rect x="27.44" y="172.1" width="242.2" height="125.45" class="fr"/>
<line x1="38.45" y1="297.55" x2="38.45" y2="299.75" class="tk"/>
<text x="38.45" y="306.95" class="tl" text-anchor="middle">0</text>
<line x1="67.82" y1="297.55" x2="67.82" y2="299.75" class="tk"/>
<text x="67.82" y="306.95" class="tl" text-anchor="middle">200</text>
<line x1="97.19" y1="297.55" x2="97.19" y2="299.75" class="tk"/>
<text x="97.19" y="306.95" class="tl" text-anchor="middle">400</text>
<line x1="126.56" y1="297.55" x2="126.56" y2="299.75" class="tk"/>
<text x="126.56" y="306.95" class="tl" text-anchor="middle">600</text>
<line x1="155.93" y1="297.55" x2="155.93" y2="299.75" class="tk"/>
<text x="155.93" y="306.95" class="tl" text-anchor="middle">800</text>
<line x1="185.3" y1="297.55" x2="185.3" y2="299.75" class="tk"/>
<text x="185.3" y="306.95" class="tl" text-anchor="middle">1000</text>
<line x1="214.67" y1="297.55" x2="214.67" y2="299.75" class="tk"/>
<text x="214.67" y="306.95" class="tl" text-anchor="middle">1200</text>
<line x1="244.04" y1="297.55" x2="244.04" y2="299.75" class="tk"/>
<text x="244.04" y="306.95" class="tl" text-anchor="middle">1400</text>
<line x1="25.24" y1="293" x2="27.44" y2="293" class="tk"/>
<text x="23.74" y="295.6" class="tl" text-anchor="end">0</text>
<line x1="25.24" y1="269.12" x2="27.44" y2="269.12" class="tk"/>
<text x="23.74" y="271.72" class="tl" text-anchor="end">50</text>
<line x1="25.24" y1="245.24" x2="27.44" y2="245.24" class="tk"/>
<text x="23.74" y="247.84" class="tl" text-anchor="end">100</text>
<line x1="25.24" y1="221.36" x2="27.44" y2="221.36" class="tk"/>
<text x="23.74" y="223.96" class="tl" text-anchor="end">150</text>
<line x1="25.24" y1="197.48" x2="27.44" y2="197.48" class="tk"/>
<text x="23.74" y="200.08" class="tl" text-anchor="end">200</text>
<line x1="25.24" y1="173.6" x2="27.44" y2="173.6" class="tk"/>
<text x="23.74" y="176.2" class="tl" text-anchor="end">250</text>
<text x="148.54" y="169" class="tt" text-anchor="middle">Guanyuan Station</text>
<text x="148.54" y="315.35" class="xl" text-anchor="middle">Time (hourly)</text>
<text transform="translate(10.14,234.82) rotate(-90)" class="yl" text-anchor="middle">PM<tspan font-size="4.6" dy="1.3">2.5</tspan><tspan dy="-1.3"> (</tspan><tspan class="mu">&#956;g/m</tspan><tspan class="mu3" dy="-2.7">3</tspan><tspan dy="2.7">)</tspan></text>
<rect x="217.14" y="175.1" width="49.2" height="20.3" rx="1.3" class="lg"/>
<line x1="219.04" y1="180.2" x2="232.44" y2="180.2" stroke="#1f77b4" stroke-width="1.6" stroke-dasharray="3.6 1.3"/>
<line x1="219.04" y1="189.3" x2="232.44" y2="189.3" stroke="#ff7f0e" stroke-width="1.6"/>
<text x="237.94" y="182.3" class="lt">Truth</text>
<text x="237.94" y="191.1" class="lt">Prediction</text>
<clipPath id="c3"><rect x="300.5" y="172.1" width="242.2" height="125.45"/></clipPath>
<line x1="311.5" y1="172.1" x2="311.5" y2="297.55" class="gr"/>
<line x1="340.87" y1="172.1" x2="340.87" y2="297.55" class="gr"/>
<line x1="370.24" y1="172.1" x2="370.24" y2="297.55" class="gr"/>
<line x1="399.61" y1="172.1" x2="399.61" y2="297.55" class="gr"/>
<line x1="428.98" y1="172.1" x2="428.98" y2="297.55" class="gr"/>
<line x1="458.35" y1="172.1" x2="458.35" y2="297.55" class="gr"/>
<line x1="487.72" y1="172.1" x2="487.72" y2="297.55" class="gr"/>
<line x1="517.09" y1="172.1" x2="517.09" y2="297.55" class="gr"/>
<line x1="300.5" y1="292.6" x2="542.7" y2="292.6" class="gr"/>
<line x1="300.5" y1="276.59" x2="542.7" y2="276.59" class="gr"/>
<line x1="300.5" y1="260.58" x2="542.7" y2="260.58" class="gr"/>
<line x1="300.5" y1="244.57" x2="542.7" y2="244.57" class="gr"/>
<line x1="300.5" y1="228.56" x2="542.7" y2="228.56" class="gr"/>
<line x1="300.5" y1="212.55" x2="542.7" y2="212.55" class="gr"/>
<line x1="300.5" y1="196.54" x2="542.7" y2="196.54" class="gr"/>
<line x1="300.5" y1="180.53" x2="542.7" y2="180.53" class="gr"/>
<g clip-path="url(#c3)">
<polyline points="311.5,286.19 311.65,284.01 311.79,283.55 311.94,281.31 312.09,280.03 312.23,280.8 312.38,283.57 312.53,285.84 312.67,286.76 312.82,285.09 312.97,284.58 313.12,283.09 313.26,281.61 313.41,281.88 313.56,280.71 313.7,281.88 313.85,281.5 314,280.56 314.14,279.33" fill="none" stroke="#1f77b4" stroke-width="1.0" stroke-linejoin="round" stroke-dasharray="3.5 1.5"/>
<polyline points="314.44,282.1 314.58,282.86 314.73,284.21 314.88,284.55 315.02,285.67 315.17,285.44 315.32,287.19 315.46,287.64 315.61,285.38 315.76,282.4 315.91,280.6 316.05,279.76 316.2,278.64 316.35,276.17 316.49,274.99 316.64,273.53 316.79,270.56 316.93,270.26 317.08,268.03" fill="none" stroke="#1f77b4" stroke-width="1.0" stroke-linejoin="round" stroke-dasharray="3.5 1.5"/>
<polyline points="317.67,267.15 317.81,268.05 317.96,270.12 318.11,271.28 318.26,269.77 318.4,267.51 318.55,265.96 318.7,264.53 318.84,264.34 318.99,266.14 319.14,268.61 319.28,265.65 319.43,264.63 319.58,262.75 319.72,262.38 319.87,261.54 320.02,259.64 320.16,259.11 320.31,256.48 320.46,254.93 320.6,252.94 320.75,256.31 320.9,259.84 321.05,262.28 321.19,258.93 321.34,258.98 321.49,255.2 321.63,254.44 321.78,252.86 321.93,253.65 322.07,251.54 322.22,250.78" fill="none" stroke="#1f77b4" stroke-width="1.0" stroke-linejoin="round" stroke-dasharray="3.5 1.5"/>
<polyline points="323.69,224.56 323.84,222.15 323.98,220.44 324.13,217.53 324.28,223.14 324.42,231.14 324.57,236.16" fill="none" stroke="#1f77b4" stroke-width="1.0" stroke-linejoin="round" stroke-dasharray="3.5 1.5"/>
<polyline points="325.01,248.85 325.16,253.58 325.3,259.21 325.45,262.52 325.6,264.75 325.74,266.88 325.89,270.31 326.04,273.06 326.19,275.62 326.33,278.59 326.48,281.96 326.63,284.05 326.77,285.31 326.92,286.19 327.07,287.33 327.21,288.86 327.36,289.43 327.51,289.26 327.65,289.53 327.8,289.14 327.95,289.23 328.09,288.91 328.24,289.49 328.39,289.32 328.53,289.97 328.68,291.54 328.83,290.1 328.98,287.9 329.12,288.04 329.27,287.75 329.42,288.01 329.56,290.32 329.71,291.29 329.86,291.64 330,292.41 330.15,292.41 330.3,291.38 330.44,289.72 330.59,288.73 330.74,288.66 330.88,287.62 331.03,288.49 331.18,288.74 331.32,288.37 331.47,288.75 331.62,290.22 331.77,291.33 331.91,291.16 332.06,292.41 332.21,291.89 332.35,291.74 332.5,290.57 332.65,290.41 332.79,289.38 332.94,288.98 333.09,290.24 333.23,289.88 333.38,290.85 333.53,292.27 333.67,292.21 333.82,291.95 333.97,291.21 334.11,291.35 334.26,291.11 334.41,290.49 334.56,290.07 334.7,288.37 334.85,288.17 335,287.16 335.14,287.45 335.29,285.88 335.44,285.21 335.58,285.53 335.73,284.4 335.88,283.83 336.02,282.27 336.17,282.13 336.32,282.07 336.46,285.2 336.61,285.47 336.76,282.88 336.91,282.29 337.05,280.64 337.2,279.75 337.35,279.57 337.49,277.47 337.64,275.4 337.79,274.22" fill="none" stroke="#1f77b4" stroke-width="1.0" stroke-linejoin="round" stroke-dasharray="3.5 1.5"/>
<polyline points="338.08,272.18 338.23,270.57 338.37,271.49 338.52,268.82 338.67,268.59 338.81,268.53 338.96,267.71 339.11,268.09 339.25,266.68 339.4,267.27 339.55,264.58 339.7,265.07 339.84,264.57 339.99,261.89 340.14,260.31 340.28,259.29 340.43,256.11 340.58,253.4" fill="none" stroke="#1f77b4" stroke-width="1.0" stroke-linejoin="round" stroke-dasharray="3.5 1.5"/>
<polyline points="343.22,209.09 343.37,209.06 343.51,212.12" fill="none" stroke="#1f77b4" stroke-width="1.0" stroke-linejoin="round" stroke-dasharray="3.5 1.5"/>
<polyline points="344.69,265.15 344.83,268.83 344.98,270.02 345.13,273.54 345.28,275.64 345.42,277.52 345.57,280.57 345.72,278.77 345.86,275.32 346.01,273.16 346.16,269.89 346.3,271.95 346.45,275.76 346.6,278.76 346.74,276.01 346.89,274.98 347.04,274.34 347.18,273.22 347.33,272.34 347.48,271.23 347.63,269.85 347.77,269" fill="none" stroke="#1f77b4" stroke-width="1.0" stroke-linejoin="round" stroke-dasharray="3.5 1.5"/>
<polyline points="348.21,262.96 348.36,262.86 348.51,261.87 348.65,260.53 348.8,260.39 348.95,265.59 349.09,269.79 349.24,274.4 349.39,278.31 349.53,282.38 349.68,286.34 349.83,291.69 349.97,291.51 350.12,290.06 350.27,289.47 350.42,289.11 350.56,286.9 350.71,286.41 350.86,284.81 351,285.97 351.15,289.47 351.3,291.94 351.44,289.25 351.59,286.79 351.74,283.94 351.88,282.83 352.03,283.39 352.18,284.78 352.32,287.65 352.47,288.39 352.62,286 352.76,282.44 352.91,281.03 353.06,279.75 353.21,276.98 353.35,275.88 353.5,274.36 353.65,274.16 353.79,274.11 353.94,274.07 354.09,276.2 354.23,280.46 354.38,283.25 354.53,286.65 354.67,283.2 354.82,279.95 354.97,276.43 355.11,276.46 355.26,275.32 355.41,272.99 355.56,272.99 355.7,270.94 355.85,270.75 356,269.17 356.14,266.43 356.29,265.33 356.44,263.64 356.58,262.25 356.73,265.22 356.88,268.23 357.02,269.5 357.17,270.53 357.32,274.76 357.46,280.62 357.61,286.53 357.76,283.82 357.9,282.79 358.05,280.82 358.2,280.47 358.35,278.88 358.49,276.45 358.64,273.55 358.79,270.64 358.93,270.47 359.08,268.44 359.23,266.37 359.37,262.81 359.52,256.76" fill="none" stroke="#1f77b4" stroke-width="1.0" stroke-linejoin="round" stroke-dasharray="3.5 1.5"/>
<polyline points="359.81,249.03 359.96,243.07 360.11,236.12 360.25,231.24 360.4,233.59 360.55,234.25" fill="none" stroke="#1f77b4" stroke-width="1.0" stroke-linejoin="round" stroke-dasharray="3.5 1.5"/>
<polyline points="360.84,238.97 360.99,242.85 361.14,246.78 361.28,249.66 361.43,244.62 361.58,240.1 361.72,234.62" fill="none" stroke="#1f77b4" stroke-width="1.0" stroke-linejoin="round" stroke-dasharray="3.5 1.5"/>
<polyline points="362.02,226.98 362.16,222.64 362.31,220.05 362.46,247.1 362.6,213.66 362.75,243.13 362.9,206.76 363.04,238.79 363.19,199.22 363.34,235.06 363.48,196.1 363.63,233.23 363.78,192.99 363.93,231.24 364.07,189.57 364.22,229.1 364.37,186.79 364.51,227.78 364.66,183.53 364.81,225.42 364.95,180.33 365.1,227.36 365.25,189.98 365.39,233.61 365.54,199.05 365.69,240.69 365.83,214.01 365.98,249.49 366.13,246.75 366.28,244.94 366.42,252.73" fill="none" stroke="#1f77b4" stroke-width="1.0" stroke-linejoin="round" stroke-dasharray="3.5 1.5"/>
<polyline points="366.72,266.85 366.86,269.88 367.01,274.81 367.16,278.75 367.3,283.22 367.45,285.66 367.6,288.08 367.74,289.62 367.89,288.8 368.04,287.43" fill="none" stroke="#1f77b4" stroke-width="1.0" stroke-linejoin="round" stroke-dasharray="3.5 1.5"/>
<polyline points="368.92,282.14 369.07,281.36 369.21,280.26 369.36,278.54 369.51,277.5 369.65,276.26 369.8,275.62 369.95,273.94 370.09,273.38 370.24,272.44 370.39,270.78 370.53,269.2 370.68,268.07 370.83,266.99 370.97,267.33 371.12,268.02 371.27,271.1 371.41,271.12 371.56,272.62 371.71,271.96 371.86,274 372,275.74 372.15,272.31" fill="none" stroke="#1f77b4" stroke-width="1.0" stroke-linejoin="round" stroke-dasharray="3.5 1.5"/>
<polyline points="373.03,267.17 373.18,266.62 373.32,265.18 373.47,264.86 373.62,262.78 373.76,262.75 373.91,260.92 374.06,259.7" fill="none" stroke="#1f77b4" stroke-width="1.0" stroke-linejoin="round" stroke-dasharray="3.5 1.5"/>
<polyline points="374.65,257.84 374.79,257.69 374.94,255.32 375.09,254.07" fill="none" stroke="#1f77b4" stroke-width="1.0" stroke-linejoin="round" stroke-dasharray="3.5 1.5"/>
<polyline points="375.38,251.46 375.53,251.01 375.67,249.22" fill="none" stroke="#1f77b4" stroke-width="1.0" stroke-linejoin="round" stroke-dasharray="3.5 1.5"/>
<polyline points="377,225.84 377.14,226.47 377.29,224.33 377.44,226.3" fill="none" stroke="#1f77b4" stroke-width="1.0" stroke-linejoin="round" stroke-dasharray="3.5 1.5"/>
<polyline points="378.9,233.96 379.05,235.42 379.2,235.73 379.34,237.03 379.49,233.22 379.64,229.25" fill="none" stroke="#1f77b4" stroke-width="1.0" stroke-linejoin="round" stroke-dasharray="3.5 1.5"/>
<polyline points="380.52,211.67 380.67,209.64 380.81,209.66 380.96,214.91" fill="none" stroke="#1f77b4" stroke-width="1.0" stroke-linejoin="round" stroke-dasharray="3.5 1.5"/>
<polyline points="383.02,234.89 383.16,234.95 383.31,239.8 383.46,240.15 383.6,237.38 383.75,235.43 383.9,232.83" fill="none" stroke="#1f77b4" stroke-width="1.0" stroke-linejoin="round" stroke-dasharray="3.5 1.5"/>
<polyline points="384.19,235.27 384.34,240.21 384.48,244.62 384.63,250.42 384.78,248.11 384.93,244.16 385.07,243.58 385.22,246.44 385.37,248.18" fill="none" stroke="#1f77b4" stroke-width="1.0" stroke-linejoin="round" stroke-dasharray="3.5 1.5"/>
<polyline points="385.66,253.94 385.81,256.3 385.95,257.27 386.1,260.23 386.25,262.8 386.39,267.4 386.54,269.59 386.69,273.11 386.83,277.08 386.98,280.74 387.13,284.79 387.27,286.16 387.42,285.72 387.57,287.14 387.72,287.61 387.86,289.89 388.01,290.79 388.16,290.87 388.3,289.26 388.45,288.33 388.6,286.96 388.74,286.36 388.89,286.08 389.04,285.26 389.18,287.91 389.33,289.8 389.48,290.95 389.62,290.26 389.77,288.51 389.92,287.48 390.06,288.42 390.21,287.21 390.36,287.11 390.51,288.16 390.65,288.87 390.8,289.87 390.95,289.84 391.09,288.97 391.24,287.78 391.39,288.46 391.53,287.6 391.68,286.94 391.83,288.04 391.97,289 392.12,290.69 392.27,291.51 392.41,290.15 392.56,288.87 392.71,287.83 392.85,285.46 393,285.29 393.15,285.25 393.3,285.4 393.44,286.63 393.59,287.89 393.74,290 393.88,289.49 394.03,286.72 394.18,286.67 394.32,286.65 394.47,286.5 394.62,284.95 394.76,285.2 394.91,283.78 395.06,283.12 395.2,283.09 395.35,282.34 395.5,280.65 395.65,280.15 395.79,281.04 395.94,283.29 396.09,285.86 396.23,282.88 396.38,281.11 396.53,279.89" fill="none" stroke="#1f77b4" stroke-width="1.0" stroke-linejoin="round" stroke-dasharray="3.5 1.5"/>
<polyline points="396.82,277.45 396.97,275.26 397.11,274.83 397.26,274.25 397.41,272.17 397.55,270.89 397.7,269.77 397.85,269.99 397.99,267.08 398.14,267.11 398.29,269.6 398.44,273.35 398.58,274.82 398.73,277.86 398.88,279.62 399.02,280.81 399.17,283.14 399.32,285.21 399.46,285.36 399.61,286.9 399.76,287.29 399.9,288.18 400.05,287.04 400.2,288.65 400.34,289.6 400.49,291.31 400.64,289.39 400.78,288.65 400.93,288.88 401.08,286.91 401.23,287.01" fill="none" stroke="#1f77b4" stroke-width="1.0" stroke-linejoin="round" stroke-dasharray="3.5 1.5"/>
<polyline points="401.52,287.78 401.67,288.51 401.81,288.34 401.96,288.49 402.11,288.64 402.25,290.31 402.4,290.16 402.55,292.09 402.69,290.28 402.84,289.16 402.99,287.37 403.13,287.99 403.28,287.23 403.43,286.11 403.57,285.73 403.72,285.99 403.87,286.64 404.02,285.9 404.16,285.97 404.31,286.59 404.46,285.06 404.6,285.15 404.75,283.8 404.9,283 405.04,283 405.19,282.96 405.34,282.39 405.48,281.97 405.63,281.71 405.78,280.64 405.92,281.18 406.07,280.7 406.22,279.41 406.37,277.96 406.51,278.03 406.66,276.23 406.81,275.21 406.95,274.91 407.1,273.11 407.25,273.12 407.39,272.82" fill="none" stroke="#1f77b4" stroke-width="1.0" stroke-linejoin="round" stroke-dasharray="3.5 1.5"/>
<polyline points="407.83,270.2 407.98,270.9 408.13,269.63 408.27,268.15 408.42,268.63 408.57,268.7 408.71,267.89 408.86,267.48" fill="none" stroke="#1f77b4" stroke-width="1.0" stroke-linejoin="round" stroke-dasharray="3.5 1.5"/>
<polyline points="409.16,267.21 409.3,265.23 409.45,264.46 409.6,265.83 409.74,263.54 409.89,261.36 410.04,260.46 410.18,261.05 410.33,258.8 410.48,259.98 410.62,261.87" fill="none" stroke="#1f77b4" stroke-width="1.0" stroke-linejoin="round" stroke-dasharray="3.5 1.5"/>
<polyline points="411.06,265.96 411.21,269.13 411.36,269.44 411.5,271.92 411.65,273.71 411.8,275.93 411.95,276.74 412.09,278.91 412.24,280.96 412.39,282.29 412.53,280.4 412.68,278.26 412.83,276.87 412.97,277.98 413.12,280 413.27,280.61 413.41,283.38 413.56,282.1 413.71,280.2 413.85,278.8 414,277.37 414.15,277.91 414.3,281.89 414.44,282.55 414.59,279.95 414.74,277.6 414.88,276.3 415.03,274.15 415.18,275.13 415.32,278.01 415.47,278.76 415.62,280.26 415.76,281.64 415.91,282.1 416.06,284.14 416.2,283.53 416.35,280.82 416.5,279.97 416.64,280.67 416.79,283.02 416.94,282.88 417.09,285.43 417.23,285.06 417.38,282.83 417.53,280.48 417.67,280.21 417.82,280.94 417.97,281.85 418.11,284.26 418.26,283.24 418.41,282.41 418.55,281.93 418.7,280.92 418.85,281.89 418.99,282 419.14,282.91 419.29,282.89 419.43,284.26 419.58,284.36 419.73,283.94 419.88,284.8 420.02,285.65 420.17,285.21 420.32,285.13 420.46,285.13 420.61,286.41 420.76,286.85 420.9,287.71 421.05,288.08 421.2,287.79 421.34,289.03 421.49,289.13 421.64,290.45 421.78,291.57 421.93,289.59 422.08,287.77 422.22,287.51 422.37,287.43 422.52,287.31 422.67,284.88 422.81,284.5 422.96,284.64 423.11,283.65 423.25,283.33 423.4,282.48 423.55,284.38 423.69,286.18 423.84,287.49 423.99,284.45 424.13,283.17 424.28,280.1 424.43,280.29 424.57,278.57 424.72,278.08 424.87,277.45" fill="none" stroke="#1f77b4" stroke-width="1.0" stroke-linejoin="round" stroke-dasharray="3.5 1.5"/>
<polyline points="425.31,272.48 425.46,269.84 425.6,272.84 425.75,274.52 425.9,276.98 426.04,278.35 426.19,280.47 426.34,282.8 426.48,283.64 426.63,282.6 426.78,285 426.92,287.51 427.07,288.67 427.22,287.42 427.36,284.16 427.51,281.93 427.66,283.15 427.81,282.9 427.95,285.56 428.1,287.07 428.25,285.35 428.39,284.49 428.54,282.82 428.69,281.54 428.83,279.8 428.98,279.67 429.13,278.65 429.27,278.56 429.42,279.8 429.57,280.34 429.71,281.66 429.86,283.4 430.01,286.18 430.15,288.75 430.3,287.43 430.45,285.11 430.6,284.92 430.74,282.94 430.89,281.92 431.04,279.3 431.18,278.37 431.33,276.85 431.48,277.86 431.62,275.49 431.77,275.35 431.92,275.35 432.06,275.43" fill="none" stroke="#1f77b4" stroke-width="1.0" stroke-linejoin="round" stroke-dasharray="3.5 1.5"/>
<polyline points="432.36,273.89 432.5,273.1 432.65,273.32 432.8,272.23 432.94,271.92 433.09,274.99 433.24,275.19 433.39,277.24 433.53,274.21 433.68,271.6 433.83,269.83 433.97,270.32 434.12,271.13 434.27,271.66 434.41,271.65 434.56,272.28 434.71,274.09" fill="none" stroke="#1f77b4" stroke-width="1.0" stroke-linejoin="round" stroke-dasharray="3.5 1.5"/>
<polyline points="435,277.54 435.15,277.28 435.29,278.41 435.44,280.11 435.59,279.6 435.74,280.35 435.88,280.01 436.03,280.45 436.18,281.24 436.32,281.88 436.47,283.44 436.62,284.29 436.76,285.37 436.91,285.19 437.06,286.83 437.2,288.97 437.35,290.8 437.5,291.29 437.64,289.16 437.79,287.11 437.94,285.85 438.08,285.93 438.23,286.32 438.38,289.8 438.53,290.83 438.67,288.82 438.82,288.82 438.97,288.34 439.11,287.87 439.26,287.27 439.41,288.74 439.55,289.6 439.7,289.9 439.85,290.17 439.99,291.29 440.14,290.51 440.29,288.45 440.43,289.45 440.58,289.14 440.73,288.71 440.87,289.16 441.02,289.08 441.17,289.3 441.32,288.62 441.46,289.64 441.61,289.81 441.76,289.15 441.9,289.02 442.05,287.83 442.2,286.86 442.34,287.72 442.49,286.83 442.64,285.38 442.78,285.11 442.93,285.99 443.08,285.82 443.22,286.52 443.37,288.89 443.52,291.15 443.67,291.02 443.81,288.83 443.96,287.28 444.11,287.39 444.25,287.01 444.4,286.76 444.55,286.21 444.69,284.21" fill="none" stroke="#1f77b4" stroke-width="1.0" stroke-linejoin="round" stroke-dasharray="3.5 1.5"/>
<polyline points="444.99,283.98 445.13,283.82 445.28,283.13 445.43,281.97 445.57,281.96 445.72,281.18" fill="none" stroke="#1f77b4" stroke-width="1.0" stroke-linejoin="round" stroke-dasharray="3.5 1.5"/>
<polyline points="446.46,281.06 446.6,279.67 446.75,279.83 446.9,279.47 447.04,278.57 447.19,276.7 447.34,275.35 447.48,275.28 447.63,273.99 447.78,275.12 447.92,272.9 448.07,272.76 448.22,271.43 448.36,271.33 448.51,269.01 448.66,267.96 448.8,268.33 448.95,268.2 449.1,267.72 449.25,265.69 449.39,261.28 449.54,258.31 449.69,256.13 449.83,252.87 449.98,250.34 450.13,249.31 450.27,249.18 450.42,245.48 450.57,245.71 450.71,244.06 450.86,250.02 451.01,252.39 451.15,257.56 451.3,260.99 451.45,265.28 451.59,270.98 451.74,274.37 451.89,277.39 452.04,280.91 452.18,285.67 452.33,285.83 452.48,288.43 452.62,289 452.77,291.06 452.92,289.65 453.06,285.53 453.21,284.5 453.36,285.43 453.5,286.5 453.65,286.99 453.8,287.35 453.94,288.45 454.09,289.67 454.24,291.77 454.39,292.41 454.53,290.43 454.68,289.92 454.83,287.87 454.97,288.36 455.12,286.85 455.27,286.76 455.41,286.38 455.56,284.86 455.71,285.78 455.85,284.43 456,284.42 456.15,283.47 456.29,282.34 456.44,281.47 456.59,280.87" fill="none" stroke="#1f77b4" stroke-width="1.0" stroke-linejoin="round" stroke-dasharray="3.5 1.5"/>
<polyline points="456.88,281.14 457.03,279.33 457.18,279.14 457.32,279.08 457.47,278.95 457.62,277.24 457.76,276.09 457.91,274.56 458.06,273.5 458.2,272.98 458.35,271.76 458.5,273.62 458.64,274.36 458.79,276.38 458.94,277.79 459.08,275.43 459.23,271.34 459.38,270.23" fill="none" stroke="#1f77b4" stroke-width="1.0" stroke-linejoin="round" stroke-dasharray="3.5 1.5"/>
<polyline points="460.99,261.47 461.14,261.44 461.29,259.25 461.43,258.41 461.58,258.78 461.73,257.19 461.87,257.06 462.02,257.29 462.17,258.92 462.31,258.75 462.46,260.06 462.61,262.71 462.76,264.76 462.9,268.44 463.05,273.33 463.2,268.8 463.34,265.14 463.49,263.37 463.64,260.83 463.78,258.22 463.93,258.57 464.08,256.34 464.22,257.58 464.37,260.63" fill="none" stroke="#1f77b4" stroke-width="1.0" stroke-linejoin="round" stroke-dasharray="3.5 1.5"/>
<polyline points="464.66,261.05 464.81,263.95 464.96,269.31 465.11,272.12 465.25,274.44 465.4,278.96 465.55,283.42 465.69,287.2 465.84,284.27 465.99,280.33 466.13,277.55 466.28,276.01 466.43,275.62 466.57,274.13 466.72,272.16 466.87,271.35 467.01,270.08 467.16,268.17 467.31,266.27 467.45,268.09 467.6,270.51 467.75,273.39 467.9,270.65 468.04,268.42 468.19,267.19 468.34,266.65 468.48,264.29 468.63,265.2 468.78,262.63 468.92,262.06 469.07,264.51 469.22,265.25 469.36,267.38 469.51,265.61 469.66,263.91 469.8,263.39 469.95,263.57 470.1,264.06 470.24,262.36 470.39,261.76 470.54,262.15 470.69,259.04 470.83,258.55 470.98,258.36 471.13,255.87 471.27,252.76" fill="none" stroke="#1f77b4" stroke-width="1.0" stroke-linejoin="round" stroke-dasharray="3.5 1.5"/>
<polyline points="472.3,230.59 472.45,227.53 472.59,229.21" fill="none" stroke="#1f77b4" stroke-width="1.0" stroke-linejoin="round" stroke-dasharray="3.5 1.5"/>
<polyline points="473.18,257.9 473.33,267.28 473.48,275.4 473.62,283.09 473.77,284.44 473.92,287.3 474.06,289.91 474.21,289.4 474.36,287.58 474.5,286.7 474.65,285.65 474.8,286.84 474.94,288.08 475.09,290.34 475.24,288.2 475.38,287.49 475.53,287.1 475.68,286.63 475.83,287.01 475.97,286.29 476.12,284.48 476.27,283.05 476.41,281.85 476.56,280.91 476.71,280.54 476.85,280.85 477,283.48 477.15,285.12 477.29,285.73 477.44,283.6 477.59,279.64 477.73,277.78 477.88,275.92 478.03,274.89 478.17,272.07 478.32,271.15 478.47,274.98 478.62,277.03 478.76,281.26 478.91,282.21 479.06,285 479.2,285.37 479.35,287.06 479.5,288.64 479.64,291.17 479.79,292.41 479.94,291.13 480.08,289.54 480.23,287.79 480.38,286.61 480.52,284.92 480.67,284.51 480.82,281.9 480.96,280.77 481.11,281.81 481.26,282.46 481.41,284.33 481.55,282.22 481.7,279.1 481.85,276.83 481.99,275.4 482.14,278.66 482.29,282.83 482.43,286.01 482.58,285.39 482.73,283.81 482.87,282.04 483.02,281.77 483.17,277.78 483.31,274.75 483.46,269.72 483.61,271.64 483.76,275.5" fill="none" stroke="#1f77b4" stroke-width="1.0" stroke-linejoin="round" stroke-dasharray="3.5 1.5"/>
<polyline points="484.2,279.56 484.34,281.54 484.49,282.57 484.64,283.4 484.78,284.64 484.93,287.62 485.08,290.31 485.22,289.55 485.37,287.29 485.52,286.39 485.66,285.72 485.81,284 485.96,282.41 486.1,281.31 486.25,281.1 486.4,280.57 486.55,281.37" fill="none" stroke="#1f77b4" stroke-width="1.0" stroke-linejoin="round" stroke-dasharray="3.5 1.5"/>
<polyline points="486.84,279.93 486.99,278.5 487.13,275.9 487.28,273.97 487.43,272.58 487.57,271.71 487.72,271.13 487.87,271.87 488.01,273.2 488.16,275.06 488.31,277.11 488.45,274.46 488.6,270.17 488.75,266.55 488.89,268.06 489.04,269.82 489.19,270.3 489.34,271.57 489.48,271.6 489.63,273.26 489.78,275.19 489.92,277.24 490.07,278.75 490.22,279.07 490.36,281.17 490.51,281.91 490.66,283.32 490.8,284.35 490.95,285.15 491.1,287.06 491.24,286.88 491.39,288.06 491.54,288.54 491.68,289.34 491.83,289.83 491.98,291.44 492.13,290.09 492.27,287.52 492.42,286.03 492.57,286.12 492.71,285.01 492.86,284.31 493.01,283.3 493.15,284.96 493.3,288.22 493.45,291.49 493.59,291.2 493.74,289.8 493.89,288.49 494.03,286.86 494.18,285.06 494.33,282.86 494.48,281.42 494.62,280.06 494.77,280.4 494.92,280.71 495.06,279.6 495.21,279.63 495.36,277.67 495.5,276.18 495.65,275.38 495.8,272.69 495.94,272.3 496.09,270.06 496.24,270.52 496.38,269.93 496.53,268.4 496.68,267.57 496.82,265.44 496.97,265.14 497.12,263.3 497.27,265.95 497.41,268.17 497.56,269.19 497.71,271.02 497.85,275.05 498,277.67 498.15,281.43 498.29,282.53 498.44,283.11 498.59,284.94 498.73,285.18 498.88,285.15 499.03,286.37 499.17,287.47 499.32,289.18 499.47,288.15 499.61,286.23 499.76,283.68 499.91,284.62 500.06,284.68 500.2,285.9 500.35,288.21 500.5,285.51 500.64,282.9 500.79,280.61 500.94,279.01 501.08,276.55 501.23,276.25 501.38,274.66 501.52,273.96 501.67,271.21 501.82,268.83 501.96,270.82 502.11,273.04 502.26,274.97 502.4,276.66 502.55,273.48 502.7,270.04 502.85,270.02 502.99,267.09 503.14,272.67 503.29,277.56 503.43,282.09 503.58,278.63 503.73,276.43 503.87,273.48" fill="none" stroke="#1f77b4" stroke-width="1.0" stroke-linejoin="round" stroke-dasharray="3.5 1.5"/>
<polyline points="504.75,262.72 504.9,261.06 505.05,259.46 505.2,257.5" fill="none" stroke="#1f77b4" stroke-width="1.0" stroke-linejoin="round" stroke-dasharray="3.5 1.5"/>
<polyline points="505.64,254.27 505.78,253.58 505.93,252 506.08,249.42 506.22,249.62 506.37,251.77" fill="none" stroke="#1f77b4" stroke-width="1.0" stroke-linejoin="round" stroke-dasharray="3.5 1.5"/>
<polyline points="506.66,252.96 506.81,254.74 506.96,256.72 507.1,259.96 507.25,257.66 507.4,257.32 507.54,254.23 507.69,254.67 507.84,254.26 507.99,253.71 508.13,252.48 508.28,254.32 508.43,253.39 508.57,256.42 508.72,258.39 508.87,254.67 509.01,249.75 509.16,247.65 509.31,252.12 509.45,254.73 509.6,258.27" fill="none" stroke="#1f77b4" stroke-width="1.0" stroke-linejoin="round" stroke-dasharray="3.5 1.5"/>
<polyline points="510.19,266.65 510.33,270.54 510.48,273.2 510.63,275.21 510.78,278.32 510.92,278.49 511.07,279.32 511.22,281.58 511.36,281.72 511.51,281.44 511.66,281.41 511.8,281.69 511.95,281.29 512.1,282.99 512.24,282.72 512.39,283.45 512.54,283.87 512.68,285.3 512.83,286.36 512.98,287.99 513.13,287.33 513.27,289.81 513.42,290.04 513.57,288.28 513.71,286.83" fill="none" stroke="#1f77b4" stroke-width="1.0" stroke-linejoin="round" stroke-dasharray="3.5 1.5"/>
<polyline points="514.01,284.07 514.15,285.35 514.3,287.39 514.45,290.3 514.59,286.84 514.74,284.19 514.89,284.3 515.03,282.44 515.18,279.93 515.33,277.63 515.47,274.74 515.62,273.23 515.77,272.39 515.92,269.92 516.06,269.11 516.21,274.79 516.36,278.27 516.5,283.87 516.65,279.82 516.8,277.44 516.94,274.55 517.09,272.44 517.24,272.21 517.38,269.05 517.53,267.64 517.68,267.03 517.82,271.3 517.97,274.16 518.12,277.88 518.26,275.42 518.41,270.55 518.56,268.6 518.71,267.2 518.85,264.46 519,263.22" fill="none" stroke="#1f77b4" stroke-width="1.0" stroke-linejoin="round" stroke-dasharray="3.5 1.5"/>
<polyline points="519.73,258.22 519.88,257.39 520.03,256.04 520.17,256.07 520.32,256.9 520.47,258.71 520.61,258.78 520.76,260.16 520.91,258.88 521.05,256.9 521.2,255.25 521.35,253.58 521.5,254.01 521.64,257.27 521.79,259.01 521.94,257.64 522.08,255.79 522.23,253.52 522.38,252.83 522.52,253.81 522.67,254.84 522.82,256.71 522.96,253.52 523.11,251.06 523.26,250.71" fill="none" stroke="#1f77b4" stroke-width="1.0" stroke-linejoin="round" stroke-dasharray="3.5 1.5"/>
<polyline points="523.99,242.62 524.14,243.79 524.29,241.68 524.43,240.8 524.58,243.03 524.73,244.69 524.87,248.39 525.02,249.89 525.17,247.33 525.31,245.42 525.46,243.99" fill="none" stroke="#1f77b4" stroke-width="1.0" stroke-linejoin="round" stroke-dasharray="3.5 1.5"/>
<polyline points="525.75,241.86 525.9,241.78 526.05,240.14 526.19,243.43 526.34,247.04 526.49,248.5 526.64,245.47 526.78,242.17 526.93,242.16 527.08,239.6 527.22,241.35 527.37,243.91 527.52,244.52 527.66,241.05 527.81,239.38 527.96,236.71" fill="none" stroke="#1f77b4" stroke-width="1.0" stroke-linejoin="round" stroke-dasharray="3.5 1.5"/>
<polyline points="528.4,236.7 528.54,235.3 528.69,249.12 528.84,262.89 528.98,270.54 529.13,277.66 529.28,284.71 529.43,286 529.57,288.08 529.72,289.81 529.87,291 530.01,291.63 530.16,291.82 530.31,289.7 530.45,288.45 530.6,286.57 530.75,286.49 530.89,287.21 531.04,290.39 531.19,291.25 531.33,289.77 531.48,287.23 531.63,286.29" fill="none" stroke="#1f77b4" stroke-width="1.0" stroke-linejoin="round" stroke-dasharray="3.5 1.5"/>
<polyline points="311.5,284.92 311.65,283.19 311.79,283.4 311.94,282.08 312.09,281.71 312.23,281.73 312.38,283.24 312.53,283.98 312.67,283.63 312.82,282.92 312.97,283.36 313.12,282.33 313.26,280.8 313.41,281.07 313.56,279.93 313.7,281.09 313.85,280.78 314,280.11 314.14,279.15 314.29,279.37 314.44,281.91 314.58,282.39 314.73,283.51 314.88,283.63 315.02,284.52 315.17,283.91 315.32,284.73 315.46,284.27 315.61,283.17 315.76,281.25 315.91,279.98 316.05,279.15 316.2,278.05 316.35,275.97 316.49,275.15 316.64,274.03 316.79,271.35 316.93,270.78 317.08,268.26 317.23,268.26 317.37,267.43 317.52,266.21 317.67,266.98 317.81,267.12 317.96,267.9 318.11,268.26 318.26,268.07 318.4,267.2 318.55,266.57 318.7,265.06 318.84,264.05 318.99,264.52 319.14,265.7 319.28,264.07 319.43,264.35 319.58,263.25 319.72,263.14 319.87,261.92 320.02,259.67 320.16,258.83 320.31,256.1 320.46,255.04 320.6,253.54 320.75,256.37 320.9,258.91 321.05,259.94 321.19,257.35 321.34,258.18 321.49,254.73 321.63,254.18 321.78,252.8 321.93,253.77 322.07,251.82 322.22,250.97 322.37,247.77 322.51,246.06 322.66,245.85 322.81,242.93 322.95,239.51 323.1,236.98 323.25,234.96 323.39,232.29 323.54,227.95 323.69,224.72 323.84,222.85 323.98,222.14 324.13,220.23 324.28,224.8 324.42,231.76 324.57,236.28 324.72,239.59 324.86,246.11 325.01,249.05 325.16,253.91 325.3,259.69 325.45,263.14 325.6,265.5 325.74,267.69 325.89,271.21 326.04,274.03 326.19,276.66 326.33,279.32 326.48,282.35 326.63,284.03 326.77,284.88 326.92,285.66 327.07,286.7 327.21,288.12 327.36,288.59 327.51,288.67 327.65,289.19 327.8,289.05 327.95,289.4 328.09,289.22 328.24,289.96 328.39,289.46 328.53,289.3 328.68,290.04 328.83,289.65 328.98,288.55 329.12,289.42 329.27,288.76 329.42,288.4 329.56,290.09 329.71,290.15 329.86,289.74 330,290.68 330.15,291.23 330.3,289.97 330.44,289.26 330.59,288.87 330.74,289.4 330.88,288.95 331.03,289.42 331.18,289.31 331.32,288.65 331.47,288.76 331.62,290 331.77,290.55 331.91,289.53 332.06,290.68 332.21,290.2 332.35,290.75 332.5,290.03 332.65,290.02 332.79,289.4 332.94,289.13 333.09,290.54 333.23,290.16 333.38,290.52 333.53,291.32 333.67,291.5 333.82,291.49 333.97,290.9 334.11,290.98 334.26,290.68 334.41,290 334.56,289.96 334.7,288.62 334.85,288.77 335,288.12 335.14,287.82 335.29,285.68 335.44,284.49 335.58,284.27 335.73,283.28 335.88,282.9 336.02,281.62 336.17,281.71 336.32,281.49 336.46,283.96 336.61,283.63 336.76,282.54 336.91,282.36 337.05,280.61 337.2,279.15 337.35,278.42 337.49,276.67 337.64,274.92 337.79,274.03 337.93,271.92 338.08,272.02 338.23,270.19 338.37,270.87 338.52,268.03 338.67,268.07 338.81,268.26 338.96,267.72 339.11,268.36 339.25,266.98 339.4,267.61 339.55,264.94 339.7,265.47 339.84,265.06 339.99,262.43 340.14,260.9 340.28,259.94 340.43,256.52 340.58,253.63 340.72,252.5 340.87,249.05 341.02,246.8 341.16,243.18 341.31,239.04 341.46,236.89 341.6,232.87 341.75,229.98 341.9,227.92 342.04,225.06 342.19,222.89 342.34,221.43 342.49,217.67 342.63,215.07 342.78,213.2 342.93,211.91 343.07,210.99 343.22,209.24 343.37,209.35 343.51,212.29 343.66,217.41 343.81,224.08 343.95,230.84 344.1,235.49 344.25,240.09 344.39,251.28 344.54,263.14 344.69,265.39 344.83,269.11 344.98,270.3 345.13,274.03 345.28,275.82 345.42,276.88 345.57,279.15 345.72,278.35 345.86,276.11 346.01,274.94 346.16,272.11 346.3,273.16 346.45,275.47 346.6,277.23 346.74,275.45 346.89,275.4 347.04,275.22 347.18,274.03 347.33,273.08 347.48,271.76 347.63,270.19 347.77,269.16 347.92,267.63 348.07,264.52 348.21,263.14 348.36,263.15 348.51,262.3 348.65,261.15 348.8,261.22 348.95,266.48 349.09,270.75 349.24,275.31 349.39,279.2 349.53,282.7 349.68,285.56 349.83,289.4 349.97,289.69 350.12,288.72 350.27,288.12 350.42,287.87 350.56,285.88 350.71,285.62 350.86,284.27 351,284.68 351.15,286.87 351.3,288.12 351.44,286.38 351.59,285.19 351.74,283.17 351.88,282.35 352.03,282.92 352.18,284 352.32,286.12 352.47,286.2 352.62,285.18 352.76,282.29 352.91,281.07 353.06,279.49 353.21,276.54 353.35,275.49 353.5,274.03 353.65,274.38 353.79,275.63 353.94,277.23 354.09,278.02 354.23,280.43 354.38,281.65 354.53,284.27 354.67,282.08 354.82,280.06 354.97,277.23 355.11,276.8 355.26,275.22 355.41,272.5 355.56,272.11 355.7,270.46 355.85,270.63 356,269.41 356.14,266.98 356.29,265.8 356.44,264.31 356.58,263.14 356.73,265.25 356.88,267.85 357.02,269 357.17,270.19 357.32,274.05 357.46,279.11 357.61,284.27 357.76,282.85 357.9,283.13 358.05,281.54 358.2,281.07 358.35,279.36 358.49,276.81 358.64,274.03 358.79,271.22 358.93,271.18 359.08,269.24 359.23,266.98 359.37,263.24 359.52,257.01 359.67,253 359.81,249.05 359.96,243.43 360.11,237.2 360.25,233.04 360.4,234.61 360.55,234.5 360.69,236.43 360.84,238.81 360.99,242.23 361.14,245.19 361.28,247.13 361.43,243.17 361.58,239.63 361.72,234.61 361.87,231.76 362.02,226.93 362.16,222.29 362.31,218.95 362.46,244.57 362.6,211.27 362.75,240.09 362.9,204.22 363.04,235.6 363.19,196.54 363.34,231.76 363.48,193.34 363.63,229.84 363.78,190.14 363.93,227.92 364.07,186.93 364.22,226 364.37,184.37 364.51,224.72 364.66,181.17 364.81,222.8 364.95,178.61 365.1,224.72 365.25,187.57 365.39,230.48 365.54,196.54 365.69,237.53 365.83,211.27 365.98,246.49 366.13,245.21 366.28,244.57 366.42,252.73 366.57,258.85 366.72,266.98 366.86,270.19 367.01,275.33 367.16,279.52 367.3,284.27 367.45,286.27 367.6,287.96 367.74,288.76 367.89,288.21 368.04,287.31 368.18,286.42 368.33,286.2 368.48,284.96 368.62,283.55 368.77,282.35 368.92,282.38 369.07,281.67 369.21,280.73 369.36,279.15 369.51,278.26 369.65,277.15 369.8,276.1 369.95,274.03 370.09,273.12 370.24,271.85 370.39,270.19 370.53,268.61 370.68,267.53 370.83,266.58 370.97,266.98 371.12,267.47 371.27,270.29 371.41,270.19 371.56,272.08 371.71,271.61 371.86,273.59 372,275.31 372.15,272.15 372.3,271.32 372.44,268.26 372.59,268.58 372.74,268.61 372.88,267.24 373.03,266.98 373.18,266.36 373.32,265.14 373.47,265.03 373.62,263.14 373.76,263.32 373.91,261.31 374.06,259.94 374.2,258.31 374.35,258.56 374.5,258.3 374.65,258.02 374.79,257.95 374.94,255.64 375.09,254.18 375.23,253.28 375.38,251.23 375.53,250.62 375.67,249.05 375.82,245.12 375.97,243.8 376.11,240.09 376.26,236.75 376.41,236.68 376.55,233.66 376.7,229.84 376.85,227.47 377,225.97 377.14,226.73 377.29,224.72 377.44,226.49 377.58,224.27 377.73,226.64 377.88,227.1 378.02,229.75 378.17,227.26 378.32,229.84 378.46,230.67 378.61,232.69 378.76,233.04 378.9,233.82 379.05,235.1 379.2,235.18 379.34,236.24 379.49,232.71 379.64,229.01 379.79,224.72 379.93,221.58 380.08,221 380.23,216.67 380.37,215.75 380.52,211.85 380.67,209.99 380.81,209.92 380.96,215 381.11,213.9 381.25,216.3 381.4,218.95 381.55,221.64 381.69,220.24 381.84,223.27 381.99,224.72 382.13,228.26 382.28,230.47 382.43,231.76 382.58,230.8 382.72,232.3 382.87,235.09 383.02,234.96 383.16,234.47 383.31,238.25 383.46,237.53 383.6,235.73 383.75,234.83 383.9,232.88 384.04,233.04 384.19,235.33 384.34,239.64 384.48,243 384.63,247.77 384.78,246.6 384.93,243.85 385.07,243.93 385.22,246.71 385.37,248.36 385.51,250.88 385.66,254.18 385.81,256.58 385.95,257.57 386.1,260.58 386.25,262.9 386.39,267.19 386.54,269.02 386.69,272.11 386.83,276.19 386.98,280.02 387.13,284.27 387.27,285.92 387.42,285.39 387.57,286.71 387.72,286.83 387.86,288.48 388.01,288.76 388.16,289.23 388.3,288.05 388.45,287.35 388.6,286.71 388.74,286.84 388.89,287.02 389.04,286.65 389.18,288.22 389.33,288.54 389.48,288.12 389.62,287.91 389.77,287.06 389.92,286.48 390.06,287.39 390.21,286.2 390.36,286.49 390.51,287.43 390.65,287.59 390.8,288.12 390.95,288.59 391.09,288.22 391.24,287.1 391.39,287.39 391.53,286.84 391.68,286.22 391.83,287.34 391.97,287.88 392.12,288.43 392.27,288.12 392.41,287.69 392.56,287.33 392.71,287.41 392.85,285.71 393,286.2 393.15,286.56 393.3,286.46 393.44,287.01 393.59,287.13 393.74,288.12 393.88,288.52 394.03,286.63 394.18,286.98 394.32,286.84 394.47,286.95 394.62,285.63 394.76,286.14 394.91,284.93 395.06,284.27 395.2,284.26 395.35,283.57 395.5,281.97 395.65,281.07 395.79,280.82 395.94,281.41 396.09,282.35 396.23,280.68 396.38,280.19 396.53,279.71 396.67,279.15 396.82,277.65 396.97,275.6 397.11,275.31 397.26,274.86 397.41,272.7 397.55,271.36 397.7,270.19 397.85,270.49 397.99,267.57 398.14,267.62 398.29,269.6 398.44,272.8 398.58,274.17 398.73,277.23 398.88,279.04 399.02,280.29 399.17,282.42 399.32,284.27 399.46,284.23 399.61,285.55 399.76,286.2 399.9,287.34 400.05,286.48 400.2,287.84 400.34,287.6 400.49,288.12 400.64,287.08 400.78,287.2 400.93,288.14 401.08,286.47 401.23,286.84 401.37,286.3 401.52,287.54 401.67,288.24 401.81,288.12 401.96,288.31 402.11,288.32 402.25,289.31 402.4,288.01 402.55,288.76 402.69,288.37 402.84,288.68 402.99,287.81 403.13,288.83 403.28,288.12 403.43,287.02 403.57,286.69 403.72,287.01 403.87,287.3 404.02,286.2 404.16,285.91 404.31,286.17 404.46,284.95 404.6,285.34 404.75,284.27 404.9,283.76 405.04,283.49 405.19,283.18 405.34,282.35 405.48,281.68 405.63,281.26 405.78,280.04 405.92,280.41 406.07,279.79 406.22,279 406.37,278.03 406.51,278.58 406.66,277.23 406.81,276.08 406.95,275.8 407.1,274.03 407.25,273.56 407.39,273.05 407.54,271.66 407.69,272.11 407.83,270.39 407.98,271.28 408.13,270.19 408.27,268.86 408.42,269.53 408.57,269.35 408.71,268.26 408.86,267.6 409.01,267.9 409.16,266.98 409.3,264.91 409.45,264.05 409.6,265.3 409.74,263.14 409.89,261.08 410.04,260.52 410.18,261.7 410.33,259.94 410.48,260.58 410.62,261.92 410.77,263.14 410.92,265.77 411.06,266.16 411.21,269.61 411.36,270.19 411.5,272.25 411.65,273.59 411.8,275.31 411.95,275.61 412.09,277.43 412.24,278.64 412.39,279.15 412.53,278.58 412.68,277.79 412.83,277.23 412.97,278.4 413.12,279.99 413.27,279.41 413.41,281.07 413.56,280.72 413.71,279.8 413.85,278.79 414,277.23 414.15,276.88 414.3,279.4 414.44,279.15 414.59,277.77 414.74,276.76 414.88,276.39 415.03,274.67 415.18,275.55 415.32,278.34 415.47,279.15 415.62,280.75 415.76,281.71 415.91,281.23 416.06,282.35 416.2,282.4 416.35,280.41 416.5,279.79 416.64,279.95 416.79,281.56 416.94,280.29 417.09,281.71 417.23,282.28 417.38,281.74 417.53,280.63 417.67,281.07 417.82,281.76 417.97,280.94 418.11,281.71 418.26,281.16 418.41,280.87 418.55,281.48 418.7,281.07 418.85,282.38 418.99,282.84 419.14,283.63 419.29,283.55 419.43,284.88 419.58,284.9 419.73,284.27 419.88,284.92 420.02,285.56 420.17,284.92 420.32,284.75 420.46,284.66 420.61,285.85 420.76,286.2 420.9,286.99 421.05,287.29 421.2,286.95 421.34,288.12 421.49,287.93 421.64,288.44 421.78,288.76 421.93,288.03 422.08,287.05 422.22,287.1 422.37,286.84 422.52,286.52 422.67,284.39 422.81,284.27 422.96,284.68 423.11,284.02 423.25,283.44 423.4,282.35 423.55,283.22 423.69,283.49 423.84,284.27 423.99,282.84 424.13,283.16 424.28,281.12 424.43,281.07 424.57,279.09 424.72,278.37 424.87,277.53 425.02,277.23 425.16,274.73 425.31,272.64 425.46,270.19 425.6,272.74 425.75,273.97 425.9,276.08 426.04,277.23 426.19,279.87 426.34,282.79 426.48,284.27 426.63,283.87 426.78,285.39 426.92,286.48 427.07,286.2 427.22,285.63 427.36,283.74 427.51,282.35 427.66,283.67 427.81,282.98 427.95,284.17 428.1,284.27 428.25,283.2 428.39,282.99 428.54,282.1 428.69,281.07 428.83,279.65 428.98,279.88 429.13,279.15 429.27,279.1 429.42,280.39 429.57,281.05 429.71,282.35 429.86,283.83 430.01,286.08 430.15,288.12 430.3,287.5 430.45,285.86 430.6,286.11 430.74,284.27 430.89,283.07 431.04,280.24 431.18,279.15 431.33,277.46 431.48,278.26 431.62,275.66 431.77,275.31 431.92,275.1 432.06,275.31 432.21,273.41 432.36,274.03 432.5,273.43 432.65,273.75 432.8,272.75 432.94,272.28 433.09,274.69 433.24,273.73 433.39,274.67 433.53,272.66 433.68,271.13 433.83,270.19 433.97,270.73 434.12,271.61 434.27,272.28 434.41,272.11 434.56,272.58 434.71,274.24 434.85,275.31 435,277.3 435.15,276.81 435.29,277.71 435.44,279.15 435.59,279.03 435.74,280.16 435.88,280.22 436.03,281.07 436.18,281.93 436.32,282.64 436.47,284.27 436.62,285.2 436.76,285.77 436.91,285.08 437.06,286.2 437.2,287.28 437.35,288.35 437.5,288.12 437.64,287.31 437.79,286.63 437.94,286 438.08,286.2 438.23,285.94 438.38,288.25 438.53,288.12 438.67,287.06 438.82,288 438.97,288.02 439.11,287.49 439.26,286.84 439.41,287.97 439.55,288.5 439.7,288.63 439.85,288.27 439.99,288.76 440.14,289.41 440.29,288.04 440.43,289.27 440.58,288.75 440.73,288.12 440.87,288.97 441.02,289.32 441.17,289.78 441.32,289.13 441.46,289.4 441.61,289.84 441.76,289.44 441.9,289.33 442.05,288.12 442.2,287.13 442.34,287.97 442.49,287.13 442.64,286.07 442.78,286.2 442.93,287.24 443.08,287.22 443.22,286.74 443.37,287.49 443.52,288.12 443.67,288.4 443.81,287.31 443.96,286.35 444.11,286.51 444.25,286.2 444.4,286.14 444.55,285.78 444.69,283.98 444.84,284.27 444.99,284.1 445.13,284.1 445.28,283.56 445.43,282.55 445.57,282.35 445.72,281.39 445.87,281.52 446.01,281.37 446.16,281.63 446.31,281.07 446.46,281.23 446.6,279.95 446.75,280.21 446.9,279.95 447.04,279.15 447.19,277.35 447.34,275.68 447.48,275.31 447.63,273.73 447.78,274.56 447.92,272.31 448.07,272.11 448.22,270.73 448.36,270.58 448.51,268.26 448.66,267.19 448.8,267.52 448.95,267.35 449.1,266.98 449.25,265.1 449.39,260.86 449.54,258.02 449.69,255.83 449.83,252.59 449.98,250.09 450.13,249.05 450.27,249.06 450.42,245.55 450.57,246.02 450.71,244.57 450.86,250.51 451.01,252.81 451.15,258.02 451.3,261.53 451.45,265.94 451.59,271.8 451.74,275.31 451.89,278.44 452.04,281.72 452.18,286.2 452.33,286 452.48,287.73 452.62,287.5 452.77,288.76 452.92,289.24 453.06,287.64 453.21,288.12 453.36,287.48 453.5,286.86 453.65,286.19 453.8,286.2 453.94,287.44 454.09,288.29 454.24,289.38 454.39,289.4 454.53,288.59 454.68,289.38 454.83,288.12 454.97,288.82 455.12,287.52 455.27,287.64 455.41,287.48 455.56,285.93 455.71,286.87 455.85,285.49 456,285.5 456.15,284.27 456.29,282.88 456.44,281.78 456.59,280.94 456.73,281.07 456.88,281.38 457.03,279.64 457.18,279.53 457.32,279.15 457.47,278.72 457.62,276.72 457.76,275.31 457.91,274.01 458.06,273.21 458.2,273.01 458.35,272.11 458.5,273.7 458.64,273.65 458.79,274.43 458.94,274.67 459.08,273.52 459.23,270.63 459.38,270.19 459.52,269.11 459.67,268.27 459.82,269 459.97,266.98 460.11,266.1 460.26,263.73 460.41,263.14 460.55,263.56 460.7,263.44 460.85,262.25 460.99,261.22 461.14,261.12 461.29,258.88 461.43,258.02 461.58,258.34 461.73,256.81 461.87,256.76 462.02,257.38 462.17,259.15 462.31,259.15 462.46,260.72 462.61,263.14 462.76,264.39 462.9,266.72 463.05,270.19 463.2,266.98 463.34,264.6 463.49,263.56 463.64,261.22 463.78,258.62 463.93,259.28 464.08,257.38 464.22,257.9 464.37,260.6 464.52,258.94 464.66,261.22 464.81,264.39 464.96,269.57 465.11,272.11 465.25,274.13 465.4,277.9 465.55,281.43 465.69,284.27 465.84,282.04 465.99,278.84 466.13,276.66 466.28,275.31 466.43,275.08 466.57,273.76 466.72,272.11 466.87,271.59 467.01,270.66 467.16,269.13 467.31,266.98 467.45,267.84 467.6,268.76 467.75,270.19 467.9,268.73 468.04,267.78 468.19,267.29 468.34,266.98 468.48,264.63 468.63,265.64 468.78,263.14 468.92,262.41 469.07,264.25 469.22,263.92 469.36,265.06 469.51,264.33 469.66,263.42 469.8,263.19 469.95,263.14 470.1,263.4 470.24,261.77 470.39,261.22 470.54,261.63 470.69,258.61 470.83,258.16 470.98,258.02 471.13,255.59 471.27,252.55 471.42,249.05 471.57,246.07 471.71,243.24 471.86,238.35 472.01,234.96 472.15,231.9 472.3,230.83 472.45,227.92 472.59,229.45 472.74,229.17 472.89,231.76 473.03,244.26 473.18,258.02 473.33,267.65 473.48,276.13 473.62,284.27 473.77,285.23 473.92,287.44 474.06,289.4 474.21,289.23 474.36,287.85 474.5,287.23 474.65,286.2 474.8,286.64 474.94,286.83 475.09,288.12 475.24,287.1 475.38,287.52 475.53,287.15 475.68,286.2 475.83,286.1 475.97,284.93 476.12,283.63 476.27,282.7 476.41,282.03 476.56,281.68 476.71,281.07 476.85,280.9 477,282.51 477.15,282.7 477.29,282.35 477.44,281.32 477.59,278.5 477.73,277.23 477.88,275.78 478.03,275.27 478.17,273.05 478.32,272.75 478.47,276.01 478.62,277.4 478.76,281.07 478.91,281.56 479.06,284.26 479.2,284.58 479.35,286.2 479.5,287.44 479.64,289.62 479.79,290.68 479.94,289.99 480.08,289.11 480.23,287.5 480.38,286.2 480.52,284.4 480.67,283.94 480.82,281.78 480.96,281.07 481.11,281.77 481.26,281.56 481.41,282.35 481.55,281.25 481.7,279.25 481.85,277.72 481.99,276.59 482.14,279.17 482.29,282.15 482.43,284.27 482.58,284.28 482.73,283.33 482.87,281.71 483.02,281.07 483.17,277.41 483.31,274.8 483.46,270.19 483.61,271.96 483.76,275.6 483.9,277.67 484.05,279.15 484.2,279.65 484.34,281.88 484.49,283.17 484.64,284.27 484.78,285.28 484.93,286.86 485.08,288.12 485.22,287.96 485.37,286.31 485.52,286.39 485.66,286.2 485.81,284.92 485.96,283.76 486.1,282.35 486.25,281.87 486.4,281.07 486.55,281.61 486.69,281.07 486.84,279.72 486.99,278.08 487.13,275.31 487.28,273.3 487.43,271.95 487.57,271.25 487.72,270.83 487.87,271.41 488.01,272.08 488.16,272.89 488.31,274.03 488.45,272.7 488.6,269.78 488.75,266.98 488.89,268.57 489.04,270.27 489.19,270.76 489.34,272.11 489.48,272.21 489.63,273.63 489.78,275.31 489.92,277.08 490.07,278.31 490.22,278.8 490.36,281.07 490.51,282.01 490.66,283.62 490.8,284.27 490.95,284.69 491.1,286.19 491.24,285.63 491.39,286.84 491.54,287.37 491.68,287.71 491.83,287.24 491.98,288.12 492.13,288.1 492.27,286.87 492.42,286.2 492.57,286.41 492.71,285.49 492.86,285.04 493.01,284.27 493.15,285.09 493.3,287.23 493.45,289.4 493.59,289.12 493.74,288.45 493.89,287.61 494.03,286.2 494.18,284.6 494.33,282.47 494.48,281.07 494.62,279.76 494.77,280.14 494.92,280.35 495.06,279.15 495.21,279.08 495.36,277.05 495.5,275.84 495.65,275.31 495.8,272.86 495.94,272.72 496.09,270.19 496.24,270.38 496.38,269.53 496.53,267.78 496.68,266.98 496.82,264.96 496.97,264.81 497.12,263.14 497.27,265.56 497.41,267.57 497.56,268.45 497.71,270.19 497.85,274.33 498,277.12 498.15,281.07 498.29,282.42 498.44,283.36 498.59,285.57 498.73,286.2 498.88,286.56 499.03,287.13 499.17,287.32 499.32,288.12 499.47,287.26 499.61,286.21 499.76,284.27 499.91,285.33 500.06,284.98 500.2,285 500.35,286.2 500.5,284.4 500.64,282.7 500.79,281.07 500.94,279.62 501.08,277.27 501.23,277.12 501.38,275.31 501.52,274.67 501.67,272.23 501.82,270.19 501.96,271.63 502.11,272.79 502.26,273.4 502.4,274.03 502.55,272.12 502.7,270.01 502.85,270.89 502.99,268.26 503.14,273.34 503.29,277.38 503.43,281.07 503.58,277.83 503.73,276.08 503.87,273.34 504.02,270.19 504.17,267.7 504.31,266.29 504.46,263.14 504.61,262.32 504.75,262.79 504.9,261.33 505.05,259.94 505.2,257.69 505.34,257.34 505.49,256.1 505.64,254.43 505.78,254.17 505.93,253.27 506.08,250.97 506.22,250.49 506.37,251.97 506.52,252.91 506.66,252.9 506.81,254.36 506.96,255.53 507.1,258.02 507.25,256.42 507.4,256.83 507.54,253.99 507.69,254.18 507.84,254.03 507.99,253.8 508.13,252.9 508.28,254.82 508.43,253.21 508.57,255.15 508.72,256.1 508.87,253.6 509.01,250.16 509.16,249.05 509.31,253.02 509.45,255.1 509.6,258.41 509.75,259.94 509.89,262.55 510.04,266.27 510.19,266.59 510.33,270.19 510.48,272.51 510.63,274.17 510.78,277.23 510.92,277.43 511.07,278.28 511.22,280.52 511.36,281.07 511.51,281.23 511.66,281.62 511.8,282.35 511.95,281.98 512.1,283.73 512.24,283.49 512.39,284.27 512.54,284.36 512.68,285.48 512.83,286.2 512.98,287.47 513.13,286.6 513.27,288.48 513.42,288.12 513.57,287.3 513.71,286.58 513.86,285.36 514.01,284.27 514.15,284.82 514.3,285.99 514.45,288.12 514.59,285.95 514.74,284.59 514.89,284.71 515.03,282.35 515.18,279.4 515.33,276.71 515.47,274.03 515.62,272.7 515.77,272.26 515.92,270.47 516.06,270.19 516.21,274.82 516.36,276.77 516.5,281.07 516.65,278.03 516.8,276.64 516.94,274.24 517.09,272.11 517.24,271.86 517.38,268.77 517.53,267.48 517.68,266.98 517.82,270.7 517.97,272.54 518.12,275.31 518.26,274.03 518.41,270.04 518.56,268.49 518.71,266.98 518.85,264.16 519,263.05 519.15,261.22 519.29,259.63 519.44,260.36 519.59,258.88 519.73,258.02 519.88,257.1 520.03,255.74 520.17,256.1 520.32,257.01 520.47,258.41 520.61,257.61 520.76,258.02 520.91,257.82 521.05,256.95 521.2,255.96 521.35,254.18 521.5,253.77 521.64,255.67 521.79,256.1 521.94,255.77 522.08,255.03 522.23,253.45 522.38,252.9 522.52,253.32 522.67,253.3 522.82,254.18 522.96,252.09 523.11,250.62 523.26,250.75 523.4,249.05 523.55,247.32 523.7,244.62 523.85,243.93 523.99,242.67 524.14,244.12 524.29,242.44 524.43,242.01 524.58,243.65 524.73,244.2 524.87,246.6 525.02,247.13 525.17,245.67 525.31,244.84 525.46,243.93 525.61,242.9 525.75,242.07 525.9,242.5 526.05,241.37 526.19,243.63 526.34,245.68 526.49,245.85 526.64,243.92 526.78,241.77 526.93,242.46 527.08,240.09 527.22,241.16 527.37,242.52 527.52,242.01 527.66,239.52 527.81,238.85 527.96,236.66 528.1,236.89 528.25,236.51 528.4,236.83 528.54,235.6 528.69,249.34 528.84,263.14 528.98,270.59 529.13,277.51 529.28,284.27 529.43,285.29 529.57,287.2 529.72,288.76 529.87,289.52 530.01,289.48 530.16,289.4 530.31,288.04 530.45,287.6 530.6,286.34 530.75,286.2 530.89,286.09 531.04,287.89 531.19,287.48 531.33,287.4 531.48,286.26 531.63,286.2" fill="none" stroke="#ff7f0e" stroke-width="1.3" stroke-linejoin="round"/>
</g>
<rect x="300.5" y="172.1" width="242.2" height="125.45" class="fr"/>
<line x1="311.5" y1="297.55" x2="311.5" y2="299.75" class="tk"/>
<text x="311.5" y="306.95" class="tl" text-anchor="middle">0</text>
<line x1="340.87" y1="297.55" x2="340.87" y2="299.75" class="tk"/>
<text x="340.87" y="306.95" class="tl" text-anchor="middle">200</text>
<line x1="370.24" y1="297.55" x2="370.24" y2="299.75" class="tk"/>
<text x="370.24" y="306.95" class="tl" text-anchor="middle">400</text>
<line x1="399.61" y1="297.55" x2="399.61" y2="299.75" class="tk"/>
<text x="399.61" y="306.95" class="tl" text-anchor="middle">600</text>
<line x1="428.98" y1="297.55" x2="428.98" y2="299.75" class="tk"/>
<text x="428.98" y="306.95" class="tl" text-anchor="middle">800</text>
<line x1="458.35" y1="297.55" x2="458.35" y2="299.75" class="tk"/>
<text x="458.35" y="306.95" class="tl" text-anchor="middle">1000</text>
<line x1="487.72" y1="297.55" x2="487.72" y2="299.75" class="tk"/>
<text x="487.72" y="306.95" class="tl" text-anchor="middle">1200</text>
<line x1="517.09" y1="297.55" x2="517.09" y2="299.75" class="tk"/>
<text x="517.09" y="306.95" class="tl" text-anchor="middle">1400</text>
<line x1="298.3" y1="292.6" x2="300.5" y2="292.6" class="tk"/>
<text x="296.8" y="295.2" class="tl" text-anchor="end">0</text>
<line x1="298.3" y1="276.59" x2="300.5" y2="276.59" class="tk"/>
<text x="296.8" y="279.19" class="tl" text-anchor="end">25</text>
<line x1="298.3" y1="260.58" x2="300.5" y2="260.58" class="tk"/>
<text x="296.8" y="263.18" class="tl" text-anchor="end">50</text>
<line x1="298.3" y1="244.57" x2="300.5" y2="244.57" class="tk"/>
<text x="296.8" y="247.17" class="tl" text-anchor="end">75</text>
<line x1="298.3" y1="228.56" x2="300.5" y2="228.56" class="tk"/>
<text x="296.8" y="231.16" class="tl" text-anchor="end">100</text>
<line x1="298.3" y1="212.55" x2="300.5" y2="212.55" class="tk"/>
<text x="296.8" y="215.15" class="tl" text-anchor="end">125</text>
<line x1="298.3" y1="196.54" x2="300.5" y2="196.54" class="tk"/>
<text x="296.8" y="199.14" class="tl" text-anchor="end">150</text>
<line x1="298.3" y1="180.53" x2="300.5" y2="180.53" class="tk"/>
<text x="296.8" y="183.13" class="tl" text-anchor="end">175</text>
<text x="421.6" y="169" class="tt" text-anchor="middle">Wanshouxigong Station</text>
<text x="421.6" y="315.35" class="xl" text-anchor="middle">Time (hourly)</text>
<text transform="translate(283.2,234.82) rotate(-90)" class="yl" text-anchor="middle">PM<tspan font-size="4.6" dy="1.3">2.5</tspan><tspan dy="-1.3"> (</tspan><tspan class="mu">&#956;g/m</tspan><tspan class="mu3" dy="-2.7">3</tspan><tspan dy="2.7">)</tspan></text>
<rect x="490.2" y="175.1" width="49.2" height="20.3" rx="1.3" class="lg"/>
<line x1="492.1" y1="180.2" x2="505.5" y2="180.2" stroke="#1f77b4" stroke-width="1.6" stroke-dasharray="3.6 1.3"/>
<line x1="492.1" y1="189.3" x2="505.5" y2="189.3" stroke="#ff7f0e" stroke-width="1.6"/>
<text x="511" y="182.3" class="lt">Truth</text>
<text x="511" y="191.1" class="lt">Prediction</text>
<clipPath id="c4"><rect x="27.44" y="331.35" width="242.2" height="125.45"/></clipPath>
<line x1="38.45" y1="331.35" x2="38.45" y2="456.8" class="gr"/>
<line x1="67.82" y1="331.35" x2="67.82" y2="456.8" class="gr"/>
<line x1="97.19" y1="331.35" x2="97.19" y2="456.8" class="gr"/>
<line x1="126.56" y1="331.35" x2="126.56" y2="456.8" class="gr"/>
<line x1="155.93" y1="331.35" x2="155.93" y2="456.8" class="gr"/>
<line x1="185.3" y1="331.35" x2="185.3" y2="456.8" class="gr"/>
<line x1="214.67" y1="331.35" x2="214.67" y2="456.8" class="gr"/>
<line x1="244.04" y1="331.35" x2="244.04" y2="456.8" class="gr"/>
<line x1="27.44" y1="451.5" x2="269.64" y2="451.5" class="gr"/>
<line x1="27.44" y1="424.35" x2="269.64" y2="424.35" class="gr"/>
<line x1="27.44" y1="397.2" x2="269.64" y2="397.2" class="gr"/>
<line x1="27.44" y1="370.05" x2="269.64" y2="370.05" class="gr"/>
<line x1="27.44" y1="342.9" x2="269.64" y2="342.9" class="gr"/>
<g clip-path="url(#c4)">
<polyline points="38.45,436.36 38.6,436.93 38.74,438.4 38.89,440.57 39.04,443.91 39.18,447.77 39.33,445.07 39.48,441.25 39.62,439.31 39.77,440.01 39.92,443.89 40.07,447.2 40.21,450.17 40.36,443.12 40.51,438.24 40.65,432.64 40.8,430.4 40.95,429.49 41.09,427.12 41.24,425.58 41.39,424.37 41.53,424.46 41.68,423.9 41.83,422.5 41.97,425.47 42.12,428.54 42.27,432.35 42.41,435.57 42.56,440.36 42.71,443.48 42.86,446.77 43,441.1 43.15,436.46 43.3,431.54 43.44,429.68 43.59,426.28 43.74,424.71 43.88,422.84 44.03,421.15 44.18,418.93 44.32,417.58 44.47,415.87 44.62,416.25 44.76,414.49 44.91,412.75 45.06,413.81 45.21,417.05 45.35,416.71 45.5,419.06 45.65,421.41 45.79,421.9 45.94,424.35 46.09,423.18 46.23,419.77 46.38,417.99 46.53,417.7 46.67,421.89 46.82,426.86 46.97,432.32 47.11,426.9 47.26,422.4 47.41,422.17 47.55,420.79 47.7,418.77 47.85,418.35 48,415.66 48.14,414 48.29,412.3 48.44,409.95 48.58,406.73 48.73,407.69 48.88,410.93 49.02,412.64 49.17,413.98 49.32,413.29 49.46,409.07 49.61,408.36 49.76,407.77 49.9,407.27 50.05,405.01 50.2,404.65 50.34,400.42 50.49,396.66 50.64,393.36 50.79,396.26 50.93,399.47 51.08,401.73 51.23,404.73 51.37,408.16 51.52,410.8 51.67,415.92 51.81,413.15 51.96,410.17 52.11,407.54 52.25,406.88 52.4,409.72 52.55,413.81 52.69,417.07 52.84,420.2 52.99,425.63 53.14,432.26 53.28,439.37 53.43,442.94 53.58,444.49 53.72,449.69 53.87,451.34 54.02,449.86 54.16,448.14 54.31,446.61 54.46,448.3 54.6,449 54.75,451.25 54.9,451.34 55.04,451.34 55.19,450.6 55.34,449.89 55.48,448.58 55.63,443.92 55.78,438.1 55.93,434.09 56.07,436.96 56.22,440.46 56.37,444.16 56.51,444.54 56.66,445.49 56.81,448.27 56.95,449.62 57.1,449.28 57.25,448.36 57.39,447.6 57.54,446.19 57.69,448.15 57.83,449.88 57.98,451.34 58.13,450.37 58.27,448.56 58.42,446.59 58.57,447.29 58.72,449.82 58.86,451.34 59.01,451.34 59.16,451.34 59.3,447.04 59.45,443.56 59.6,439.79 59.74,441.41 59.89,443.39 60.04,443.98 60.18,443.22 60.33,444.63 60.48,447.19 60.62,448.32 60.77,445.58 60.92,445.7 61.06,446.36 61.21,447.2 61.36,446.6 61.51,444.34 61.65,443.64 61.8,442.59 61.95,441.74 62.09,440.62 62.24,438.54 62.39,435.4 62.53,431.17 62.68,428.63 62.83,426.93 62.97,426.33 63.12,423.56 63.27,423.06 63.41,424.63 63.56,424.98 63.71,425.14 63.86,426.72 64,422.7 64.15,420.58 64.3,417.49 64.44,417.61 64.59,415.26 64.74,414.5 64.88,413.09 65.03,412.57 65.18,409.82 65.32,407.45 65.47,405.46" fill="none" stroke="#1f77b4" stroke-width="1.0" stroke-linejoin="round" stroke-dasharray="3.5 1.5"/>
<polyline points="65.76,404.79 65.91,402.27 66.06,401.04 66.2,396.68 66.35,395.06 66.5,398.64 66.65,400.53 66.79,403.85 66.94,407.32 67.09,402.51 67.23,394.83 67.38,392.06 67.53,390.2 67.67,384.48 67.82,381.69 67.97,377.36 68.11,374.77 68.26,369.96 68.41,366.17 68.55,365.3 68.7,359.6 68.85,360.36 68.99,358.47 69.14,356.85 69.29,353.16 69.44,351.05 69.58,348.42 69.73,352.1 69.88,352.63 70.02,356.83 70.17,361.45 70.32,365.34 70.46,371.35 70.61,375.92 70.76,383.56" fill="none" stroke="#1f77b4" stroke-width="1.0" stroke-linejoin="round" stroke-dasharray="3.5 1.5"/>
<polyline points="71.34,407.99 71.49,417.14 71.64,428.17 71.78,437.04 71.93,429.55 72.08,424.62 72.23,418.31 72.37,411.05 72.52,406.76 72.67,400.01 72.81,402.56 72.96,404.09 73.11,403.84 73.25,406.29 73.4,408.38 73.55,411.99 73.69,416.26 73.84,417.1 73.99,419.67 74.13,421.52 74.28,423.27 74.43,422.45 74.58,418.09 74.72,418.56 74.87,416.27 75.02,418.97 75.16,423.69 75.31,425.28" fill="none" stroke="#1f77b4" stroke-width="1.0" stroke-linejoin="round" stroke-dasharray="3.5 1.5"/>
<polyline points="75.75,432.96 75.9,434.07 76.04,436.63 76.19,438.2 76.34,442.02 76.48,444.36 76.63,447.61 76.78,449.43 76.92,451.34 77.07,447.86 77.22,444.14 77.37,440.17 77.51,442.62 77.66,443.61 77.81,444.75 77.95,446.36 78.1,445.37 78.25,443.58 78.39,442.05 78.54,442.2 78.69,443.37 78.83,444.52 78.98,446.28 79.13,442.71 79.27,440.22 79.42,436.67 79.57,435.17 79.71,435.3 79.86,434.02 80.01,433 80.16,432.44 80.3,429.82 80.45,429.14 80.6,427.67 80.74,429.13 80.89,430.02 81.04,432.6 81.18,435.65 81.33,440.06 81.48,444.62 81.62,449.52 81.77,447.59 81.92,444.46 82.06,440.73 82.21,438.65 82.36,436.81 82.5,433.84 82.65,431.98 82.8,430.66 82.95,430.53 83.09,430.6 83.24,430.9 83.39,428.41 83.53,424.01 83.68,422.16 83.83,422.99 83.97,424.57 84.12,426.14 84.27,426.73 84.41,430.57 84.56,436.34 84.71,440.58 84.85,438.21 85,432.97 85.15,428.14 85.3,423.17 85.44,420.52 85.59,417.59 85.74,415.95 85.88,413.43 86.03,410.09 86.18,407.5 86.32,405.3 86.47,400.29 86.62,398.36 86.76,393.32 86.91,389.08 87.06,390.27 87.2,394.58 87.35,396.63 87.5,399.22 87.64,403.94 87.79,409.07 87.94,411.78 88.09,407.25 88.23,400.7 88.38,394.46 88.53,371.97 88.67,378.69 88.82,381.1 88.97,387.63 89.11,373.85 89.26,358.93 89.41,356.53 89.55,351.66 89.7,353.47 89.85,349.77 89.99,346.33 90.14,345.57 90.29,344.78 90.43,340.44 90.58,337.07 90.73,337.44 90.88,344.76 91.02,345.56 91.17,345.86 91.32,352.98 91.46,357.09 91.61,363.32 91.76,362.3 91.9,357.35 92.05,358.3 92.2,357.29 92.34,361.56 92.49,370.68 92.64,375.92 92.78,380.82 92.93,394.95 93.08,407.54 93.23,418.8 93.37,428.54 93.52,437.36 93.67,447.84 93.81,446.37 93.96,445.2 94.11,445.82 94.25,445.49 94.4,441.93 94.55,437.79 94.69,435.56 94.84,435.31 94.99,435.53 95.13,435.21 95.28,434.06 95.43,435.48 95.57,437.22 95.72,438.24 95.87,435.81 96.02,433.62 96.16,434.01 96.31,433.03 96.46,433.02 96.6,431.6 96.75,431.34 96.9,429.86 97.04,429.6 97.19,428.58 97.34,430.32 97.48,430.2 97.63,428.76 97.78,427.22 97.92,425.79 98.07,424.44 98.22,423.85 98.36,424.17 98.51,422.56 98.66,422.31 98.81,422.27 98.95,421 99.1,421.97 99.25,422.29 99.39,424.43 99.54,422.21 99.69,419.15 99.83,416.73 99.98,413.72 100.13,412.79 100.27,415.08 100.42,414.16 100.57,413.04 100.71,409.79" fill="none" stroke="#1f77b4" stroke-width="1.0" stroke-linejoin="round" stroke-dasharray="3.5 1.5"/>
<polyline points="101.15,407.31 101.3,407.64 101.45,409.45 101.6,411.71 101.74,409.7 101.89,408.52 102.04,405.85 102.18,403.64 102.33,402.61 102.48,401.04 102.62,401.67 102.77,397.92 102.92,396.63 103.06,392.4 103.21,392.32 103.36,391.06 103.5,388.78 103.65,388.5 103.8,382.46 103.95,376.32 104.09,369.02 104.24,367.45 104.39,364.19 104.53,359.83 104.68,355.01 104.83,352 104.97,354.24 105.12,361.68 105.27,363.73 105.41,367.16 105.56,369.85 105.71,376.21 105.85,380.42 106,389.37 106.15,395.72 106.29,403.83 106.44,399.18 106.59,397.61 106.74,392.39 106.88,392.75 107.03,390.93 107.18,389.22 107.32,386.62 107.47,386.82 107.62,385.58 107.76,382.71 107.91,380.87 108.06,384.25 108.2,390.44 108.35,395.29 108.5,399.23 108.64,400.55 108.79,405.91 108.94,408.56 109.08,405.83 109.23,401.91 109.38,396.89 109.53,396.34 109.67,390.95 109.82,389.13 109.97,385.93 110.11,378.2 110.26,373.61" fill="none" stroke="#1f77b4" stroke-width="1.0" stroke-linejoin="round" stroke-dasharray="3.5 1.5"/>
<polyline points="110.55,367.29 110.7,364.32 110.85,362.94" fill="none" stroke="#1f77b4" stroke-width="1.0" stroke-linejoin="round" stroke-dasharray="3.5 1.5"/>
<polyline points="111.43,358.13 111.58,356.16 111.73,356.49 111.88,363.79 112.02,375.12 112.17,382.07 112.32,386.08 112.46,391.71 112.61,394.04 112.76,399.1 112.9,403.48 113.05,411.23 113.2,415.94 113.34,420.61 113.49,426.44 113.64,433.4 113.78,441.56 113.93,443.2 114.08,447.21 114.22,449.65 114.37,451.34 114.52,449.19 114.67,447.62 114.81,446.1 114.96,446.07 115.11,447.73 115.25,447.72 115.4,446.63 115.55,445.79 115.69,446.29 115.84,446.57 115.99,446.34 116.13,446.35 116.28,444.61 116.43,444.39 116.57,443.36 116.72,444.59 116.87,443.39 117.01,443.35 117.16,441.66 117.31,439.66 117.46,438.15 117.6,440.18 117.75,443.26 117.9,442.66 118.04,440.9 118.19,439.89 118.34,441.73 118.48,440.88 118.63,439.82 118.78,438.21 118.92,439.24 119.07,440.24 119.22,439.36 119.36,439.6 119.51,437.67 119.66,438.24 119.8,437.24 119.95,438.49 120.1,438.56 120.25,440.5 120.39,438.66 120.54,438.49 120.69,438.68 120.83,439.99 120.98,442.09 121.13,440.25 121.27,439.51 121.42,438.93 121.57,439.92 121.71,440.16 121.86,439.85 122.01,438.47 122.15,437.77 122.3,437.64 122.45,435.86 122.6,434.62 122.74,432.45 122.89,432.2 123.04,431.66 123.18,431.8 123.33,432.16 123.48,431.18 123.62,430.77 123.77,430 123.92,427.71 124.06,427.89 124.21,427.89 124.36,426.09 124.5,423.74 124.65,422.97 124.8,421.93 124.94,420.74 125.09,420.94 125.24,425.51 125.39,430.95 125.53,434.82 125.68,437.75 125.83,437.95 125.97,440.72 126.12,443.96 126.27,447.13 126.41,447.49 126.56,449.25 126.71,447.97 126.85,445.22 127,442.94 127.15,440.77 127.29,442.69 127.44,441.22 127.59,441.24 127.73,440.53 127.88,440.53 128.03,443.02 128.18,444.87 128.32,446.41 128.47,444.95 128.62,441.9 128.76,441.38 128.91,440.42 129.06,442.32 129.2,444.55 129.35,447.88 129.5,446.15 129.64,442.45 129.79,438.73 129.94,436.1 130.08,436.32 130.23,439.89 130.38,443.37 130.52,444.16 130.67,445.86 130.82,444.34 130.97,445.33 131.11,443.89 131.26,442.47 131.41,440.37 131.55,438.83 131.7,437.61 131.85,435.51 131.99,433.74 132.14,431.52 132.29,429.97 132.43,426.16 132.58,425.79 132.73,424.89 132.87,423.26 133.02,421.49 133.17,417.75 133.32,414.56 133.46,409.17 133.61,417.84 133.76,426.96 133.9,435.04 134.05,433.54 134.2,430.77 134.34,427.94 134.49,425.16 134.64,422.35 134.78,421.17 134.93,419.39 135.08,418.57 135.22,422.02 135.37,426.92 135.52,430.33 135.66,427.19 135.81,422.52 135.96,420.24 136.11,418.41 136.25,415.3 136.4,412.54 136.55,408.98 136.69,410 136.84,413.88 136.99,413.88 137.13,416.28 137.28,421.26 137.43,427.09 137.57,433.67 137.72,434.37 137.87,434.97 138.01,433.15 138.16,431.67 138.31,434.04 138.45,435.68 138.6,436.23 138.75,436.44 138.9,437.26 139.04,440.57 139.19,442.53 139.34,439.55 139.48,437.99 139.63,432.86 139.78,429.66 139.92,432.97 140.07,435.26 140.22,437.99 140.36,440.12 140.51,443.87 140.66,446.42 140.8,448.47 140.95,444.81 141.1,441.35 141.25,439.35 141.39,439.06 141.54,437.43 141.69,436.72 141.83,436.34 141.98,436.05 142.13,436.02" fill="none" stroke="#1f77b4" stroke-width="1.0" stroke-linejoin="round" stroke-dasharray="3.5 1.5"/>
<polyline points="142.42,437.93 142.57,435.38 142.71,433.35 142.86,430.7 143.01,430.4 143.15,427.53 143.3,424.71 143.45,423.28 143.59,424.38 143.74,426.65 143.89,427.34 144.04,429.14 144.18,432.65 144.33,435.69 144.48,440.03 144.62,441.4 144.77,444.93 144.92,446.13 145.06,447.22 145.21,444.13 145.36,440.32 145.5,440.04 145.65,442.4 145.8,445.44 145.94,450.08 146.09,451.34 146.24,447.82 146.38,445.71 146.53,443.16 146.68,440.42 146.83,439.69 146.97,440.16 147.12,440.78 147.27,440.33 147.41,440.45 147.56,439.99 147.71,439.48 147.85,436.52 148,433.83 148.15,429.63 148.29,431.89 148.44,434.11 148.59,438.04 148.73,440.2 148.88,442.14 149.03,444.07 149.17,445.79 149.32,444.19 149.47,442.06 149.62,440.84 149.76,438.92 149.91,438.16 150.06,436.23" fill="none" stroke="#1f77b4" stroke-width="1.0" stroke-linejoin="round" stroke-dasharray="3.5 1.5"/>
<polyline points="150.35,432.25 150.5,432.04 150.64,433.55 150.79,431.5 150.94,429.92 151.08,427.15 151.23,425.8 151.38,424.38 151.52,425.32 151.67,425.64 151.82,427.23 151.97,429.78 152.11,432.21 152.26,435.48 152.41,437.24 152.55,434.39 152.7,432.35 152.85,430.15 152.99,430.43 153.14,433.36 153.29,435.42 153.43,438.29 153.58,440.41 153.73,441.97 153.87,445.15 154.02,448.65 154.17,447.25 154.31,443.59 154.46,440.08 154.61,437.9 154.76,435.93 154.9,436.48 155.05,436.52 155.2,436.74 155.34,434.93 155.49,433.13 155.64,433.74 155.78,431.73 155.93,431.5 156.08,432.58 156.22,434.97 156.37,438.59 156.52,442.04 156.66,442.08 156.81,438.17 156.96,432.94 157.1,429.77 157.25,427.83 157.4,426.47 157.55,424.88 157.69,422.39 157.84,425.34 157.99,430.24 158.13,433.15 158.28,436.26 158.43,438.24 158.57,440 158.72,441.8 158.87,441.06 159.01,442.57 159.16,443.56 159.31,444.45 159.45,441.08 159.6,438.75 159.75,436.39 159.89,433.85 160.04,433.06 160.19,432.33 160.34,429.84 160.48,427.18 160.63,424.37 160.78,421.81 160.92,420.56 161.07,419.7 161.22,415.59 161.36,414.9 161.51,417.76 161.66,419.47 161.8,421.87 161.95,422.52 162.1,426.41 162.24,430.3 162.39,433.01 162.54,433.59 162.69,436.31 162.83,436.95 162.98,438.2 163.13,441.35 163.27,444.46 163.42,447.41 163.57,449.32 163.71,447.1 163.86,447.84 164.01,447.42 164.15,447.04 164.3,447.45 164.45,448.07 164.59,449.6 164.74,447.15 164.89,445.3 165.03,443.89 165.18,444.51 165.33,446.33 165.48,447.76 165.62,448.05 165.77,448.79 165.92,448.63 166.06,449.74 166.21,448.66 166.36,446.79 166.5,445.36 166.65,445.71 166.8,446.04 166.94,447.71 167.09,449.35 167.24,450.74 167.38,447.2 167.53,445.27 167.68,443.08 167.82,443.12 167.97,443.24 168.12,443.34 168.27,444.34 168.41,444.01 168.56,442.24 168.71,442.48 168.85,442.72 169,440.61 169.15,437.17 169.29,435.26 169.44,436.05 169.59,437.5 169.73,440.25 169.88,441.35 170.03,443.36 170.17,445.45 170.32,447.84 170.47,446.58 170.62,445.75 170.76,442.03 170.91,440.36 171.06,437.37 171.2,436.39 171.35,434.99 171.5,433.92 171.64,433.14 171.79,433.84 171.94,431.88 172.08,430.91 172.23,429.5 172.38,427.59 172.52,428.64 172.67,431.31 172.82,433.63 172.96,435.68 173.11,432.94 173.26,432.02 173.41,428.36 173.55,427.27 173.7,425.53 173.85,422.44 173.99,421.48 174.14,420.09 174.29,418.64 174.43,416.21" fill="none" stroke="#1f77b4" stroke-width="1.0" stroke-linejoin="round" stroke-dasharray="3.5 1.5"/>
<polyline points="174.73,415.48 174.87,416.75 175.02,419.34 175.17,420.29 175.31,416.27 175.46,412.67 175.61,410.5 175.75,411.25 175.9,412.69 176.05,415.8 176.2,419.26 176.34,416.29 176.49,413.99 176.64,413.25 176.78,410.64 176.93,407.74 177.08,406.57 177.22,404.06 177.37,402.2 177.52,400.89 177.66,399.17 177.81,403.7 177.96,405.65 178.1,408.48 178.25,410 178.4,415.61 178.54,421.21 178.69,423.84 178.84,428.57 178.99,433.51 179.13,438.14 179.28,442.97 179.43,444.15 179.57,443.78 179.72,443.92 179.87,445.16 180.01,443.8 180.16,444.59 180.31,446.13 180.45,446.94 180.6,447.3 180.75,445.35 180.89,442.98 181.04,442.28 181.19,440.77 181.34,440.6 181.48,442.32 181.63,444.52 181.78,446.82 181.92,448.8 182.07,451.1 182.22,451.34 182.36,451.34 182.51,451.25 182.66,448.93 182.8,447.65 182.95,446.09 183.1,444.65 183.24,442.78 183.39,438.79 183.54,436.51 183.68,438.17 183.83,440.95 183.98,441.97 184.13,442.94 184.27,442.04 184.42,439.1 184.57,436.21 184.71,433.12 184.86,431.09 185.01,428.35 185.15,427.32 185.3,424.5 185.45,424.53 185.59,421.59 185.74,422.83 185.89,421.19 186.03,419.86 186.18,416.22 186.33,414.55 186.47,416.41 186.62,417.73 186.77,421.24 186.92,421.42 187.06,428.61 187.21,434.05 187.36,439.62 187.5,432.15 187.65,426.86 187.8,424.17 187.94,423.36 188.09,420.36 188.24,417.8 188.38,414.82 188.53,414.39 188.68,414.44 188.82,412.88 188.97,410.96 189.12,414.05 189.26,415.89 189.41,416.67 189.56,419.3 189.71,418.61 189.85,416.31 190,415.79 190.15,413.29 190.29,412.34 190.44,409.71 190.59,409.17 190.73,408.62 190.88,404.2 191.03,403.56 191.17,407.75 191.32,410.75 191.47,415.21 191.61,417.26 191.76,415.38 191.91,412.98 192.06,409.18 192.2,406.6 192.35,405.19 192.5,401.38 192.64,401.2 192.79,399.98 192.94,400.25 193.08,397.57 193.23,398.84 193.38,403.49 193.52,405.21 193.67,408.66 193.82,412.41 193.96,416.17 194.11,419.18 194.26,422.16 194.4,426.8 194.55,429.39 194.7,432.6 194.85,438.21 194.99,444.78 195.14,451.34 195.29,446.65 195.43,440.22 195.58,432.47 195.73,428.97 195.87,426.72 196.02,424.23 196.17,421.9 196.31,422.24 196.46,420.83 196.61,419.33 196.75,420.61 196.9,420.76 197.05,423 197.19,425.29 197.34,422.21 197.49,421.79 197.64,420.83 197.78,418.86 197.93,415.11 198.08,412.46 198.22,407.96" fill="none" stroke="#1f77b4" stroke-width="1.0" stroke-linejoin="round" stroke-dasharray="3.5 1.5"/>
<polyline points="198.52,403.87 198.66,399.8 198.81,398.95 198.96,392.68 199.1,389.06 199.25,382.47 199.4,380.73 199.54,376.97 199.69,372.12 199.84,371.6 199.99,367.74 200.13,375.13 200.28,386.17 200.43,406.2 200.57,426.74 200.72,446.39 200.87,446.66 201.01,448.94 201.16,450.9 201.31,447.9 201.45,445.16 201.6,441.56 201.75,437.95 201.89,441.25 202.04,444.5 202.19,446.81 202.33,444.17 202.48,442.63 202.63,442.02 202.78,442.03 202.92,444.76 203.07,446.36 203.22,447.84 203.36,449.2 203.51,444.26 203.66,443.45 203.8,441.95 203.95,441.66 204.1,442.06 204.24,438.99 204.39,436.31 204.54,440.56 204.68,443.29 204.83,446.47 204.98,443.63 205.12,439.84 205.27,437.02 205.42,436.97 205.57,439.74 205.71,441.56 205.86,444.46 206.01,443.57 206.15,445.1 206.3,447.21 206.45,448.18 206.59,445.75 206.74,443.78 206.89,442.18 207.03,440.79 207.18,441.62 207.33,445.18 207.47,446.63 207.62,444.59 207.77,444 207.91,444.61 208.06,444.97 208.21,445.33 208.36,442.94 208.5,440.54 208.65,438.89 208.8,436.66 208.94,434.25 209.09,433.26 209.24,435.16 209.38,438.23 209.53,441.28 209.68,437.99 209.82,435 209.97,430.93 210.12,428.49 210.26,431.54 210.41,436.86 210.56,438.72 210.71,440.71 210.85,443.47 211,446.31 211.15,449.65 211.29,448.9 211.44,447.22 211.59,445.09 211.73,444.47 211.88,443.09 212.03,440.65 212.17,439.49 212.32,439.21 212.47,438.84 212.61,439.26 212.76,439.48 212.91,436.9 213.05,432.95 213.2,430.01 213.35,427.72 213.5,426.32" fill="none" stroke="#1f77b4" stroke-width="1.0" stroke-linejoin="round" stroke-dasharray="3.5 1.5"/>
<polyline points="213.94,420.82 214.08,417.45 214.23,411.99 214.38,407.92 214.52,411.62 214.67,415.61 214.82,417.81 214.96,418.63 215.11,420.79 215.26,421.97 215.4,423.01 215.55,427.98 215.7,432.8 215.84,438.95 215.99,436.15 216.14,433.57 216.29,430.11 216.43,428.77 216.58,424.57 216.73,421.58 216.87,418.67 217.02,417.81 217.17,416.19 217.31,415.6 217.46,414.49 217.61,415.89 217.75,420.68 217.9,423.13 218.05,427.25 218.19,432.87 218.34,435.97 218.49,439 218.63,439.37 218.78,440.71 218.93,445.09 219.08,448.32 219.22,444.01 219.37,440.04 219.52,437.33 219.66,438.61 219.81,440.64 219.96,442.01 220.1,442.52 220.25,443.67 220.4,446.87 220.54,449.15 220.69,443.79 220.84,435.29 220.98,424.39 221.13,416.11 221.28,420.32 221.43,425.12 221.57,428.53 221.72,427.41 221.87,428.91 222.01,429.79 222.16,430.04 222.31,430.35 222.45,432.11 222.6,435.01 222.75,437.78 222.89,433.72 223.04,430.84 223.19,427.32 223.33,426.22 223.48,423.19 223.63,422.35 223.77,421.41 223.92,420.75 224.07,420.83 224.22,418.2 224.36,419.37 224.51,419.7 224.66,418.7 224.8,420.99 224.95,425.63 225.1,426.81 225.24,427.98 225.39,430.11 225.54,433.74 225.68,438.92 225.83,442.22 225.98,442.52 226.12,443.08 226.27,444.85 226.42,446.8 226.56,442.81 226.71,437.16 226.86,433.31 227.01,431.11 227.15,428.13 227.3,425.91 227.45,423.37 227.59,419.24 227.74,417.11 227.89,412.34 228.03,415.83 228.18,421.2 228.33,424.54 228.47,429.21 228.62,432.28 228.77,435.77 228.91,440.92 229.06,443.89 229.21,440.21 229.36,436.43 229.5,433.62 229.65,431.55 229.8,429.02 229.94,427.84 230.09,424.12 230.24,422.65 230.38,421.9 230.53,421.37 230.68,418.78 230.82,417.7 230.97,414.9 231.12,412.02 231.26,409.25 231.41,407.62 231.56,403.05 231.7,401.05 231.85,397.03 232,402.23 232.15,403.92 232.29,407.47 232.44,412.3 232.59,416.05 232.73,421.88 232.88,430.04 233.03,439.48 233.17,433.96 233.32,426.92 233.47,423.52 233.61,421.05 233.76,416.08 233.91,412.81 234.05,409.3 234.2,407.58 234.35,402.9 234.49,400.41 234.64,399.63 234.79,396.25 234.94,396.7 235.08,393.62 235.23,392.11 235.38,391.82 235.52,392.81 235.67,391.31 235.82,394.21 235.96,398.77 236.11,403.75 236.26,407.47 236.4,409.3 236.55,411.93 236.7,415 236.84,420.8 236.99,424.92 237.14,426.94 237.28,429.45 237.43,430.9 237.58,432.16 237.73,434.59 237.87,436.99 238.02,438.93 238.17,441.69 238.31,444.2 238.46,443.85 238.61,443.93 238.75,443.66 238.9,444.04 239.05,446.17 239.19,447.55 239.34,448.93 239.49,446.43 239.63,443.94 239.78,441.56 239.93,441.46 240.08,443.63 240.22,447.4 240.37,448.83 240.52,448.26 240.66,445.55 240.81,444.42 240.96,444.33 241.1,440.82 241.25,438.17 241.4,435.06 241.54,432.01 241.69,432.16 241.84,430.46 241.98,427.63 242.13,425.24 242.28,423.24 242.42,419.94 242.57,419.63 242.72,420.77 242.87,422.57 243.01,426.07 243.16,429.55 243.31,432.75 243.45,435.3 243.6,432.68 243.75,429.69 243.89,426.56 244.04,424.48 244.19,428.14 244.33,430.53 244.48,434.85 244.63,439.3 244.77,434.48 244.92,429.02 245.07,424.17 245.21,422.87 245.36,420.61 245.51,421.19 245.66,419.57 245.8,417.97 245.95,416.51 246.1,414.8 246.24,416.15 246.39,416.79 246.54,420.66 246.68,422.55 246.83,424.24 246.98,427.84 247.12,429.51 247.27,425.93 247.42,421.85 247.56,419.45 247.71,419.48 247.86,418.21 248,416.83 248.15,413.7 248.3,412.48 248.45,415.02 248.59,417.51 248.74,418.43 248.89,416.4 249.03,414.12 249.18,411.25 249.33,409.67 249.47,408.75 249.62,407.17 249.77,406.89 249.91,410.02 250.06,412.01 250.21,414.17 250.35,417.65 250.5,414.24 250.65,406.49 250.8,402.63 250.94,405.17 251.09,406.01 251.24,409.46 251.38,410.38 251.53,410.44 251.68,414.41 251.82,416.18 251.97,419.83 252.12,414.83 252.26,413.35 252.41,409.71 252.56,405.84 252.7,403.51 252.85,399.93 253,397.65 253.14,391.7 253.29,388.84 253.44,382.49 253.59,388.45 253.73,390.95 253.88,395.78 254.03,398.07 254.17,404.11 254.32,412.52 254.47,418.45 254.61,417.42 254.76,416.25" fill="none" stroke="#1f77b4" stroke-width="1.0" stroke-linejoin="round" stroke-dasharray="3.5 1.5"/>
<polyline points="255.05,413.34 255.2,413.96 255.35,416 255.49,418.41 255.64,419.59 255.79,421.77 255.93,424.18 256.08,428.69 256.23,432.06 256.38,435.53 256.52,438.31 256.67,440.04 256.82,441.27 256.96,440.24 257.11,443.03 257.26,445.08 257.4,446.88 257.55,450.14 257.7,450.8 257.84,448.49 257.99,445.83 258.14,443.22 258.28,444.38 258.43,444.96 258.58,445.34" fill="none" stroke="#1f77b4" stroke-width="1.0" stroke-linejoin="round" stroke-dasharray="3.5 1.5"/>
<polyline points="38.45,439.55 38.6,439.83 38.74,441.09 38.89,442.42 39.04,444.35 39.18,444.98 39.33,442.92 39.48,439.9 39.62,437.93 39.77,438.73 39.92,441.49 40.07,442.57 40.21,443.36 40.36,439.76 40.51,438.27 40.65,434.67 40.8,433 40.95,432.3 41.09,430.29 41.24,429.24 41.39,427.51 41.53,427.16 41.68,426.63 41.83,425.44 41.97,427.63 42.12,428.8 42.27,430.87 42.41,433.33 42.56,436.47 42.71,439.07 42.86,441.73 43,438.04 43.15,434.96 43.3,430.87 43.44,430.18 43.59,428 43.74,427.67 43.88,425.44 44.03,422.86 44.18,420.01 44.32,418.38 44.47,416.34 44.62,416.56 44.76,414.93 44.91,413.49 45.06,414.18 45.21,417.39 45.35,417.59 45.5,420.55 45.65,421.8 45.79,420.84 45.94,422.18 46.09,421.91 46.23,419.06 46.38,417.36 46.53,416.75 46.67,419.53 46.82,422.23 46.97,425.44 47.11,423.28 47.26,421.85 47.41,422.52 47.55,420.55 47.7,418.14 47.85,417 48,413.49 48.14,412.45 48.29,411.73 48.44,410.34 48.58,408.06 48.73,408.67 48.88,411.09 49.02,411.84 49.17,411.86 49.32,411.91 49.46,408.47 49.61,408.06 49.76,407.42 49.9,406.56 50.05,403.64 50.2,402.63 50.34,399.62 50.49,397.52 50.64,395.57 50.79,397.73 50.93,400.08 51.08,401.85 51.23,404.8 51.37,407.69 51.52,408.58 51.67,411.86 51.81,410.39 51.96,408.99 52.11,407.94 52.25,408.06 52.4,410.69 52.55,415.07 52.69,418.59 52.84,422.18 52.99,426.92 53.14,432.52 53.28,437.93 53.43,440.93 53.58,441.56 53.72,444.93 53.87,446.61 54.02,445.55 54.16,444.52 54.31,443.36 54.46,445.1 54.6,445.4 54.75,446.47 54.9,447.7 55.04,446.31 55.19,445.71 55.34,444.98 55.48,443.95 55.63,442.16 55.78,440.11 55.93,439.55 56.07,441.08 56.22,442.51 56.37,445.64 56.51,446.61 56.66,446.86 56.81,448.14 56.95,448.24 57.1,447.54 57.25,446.07 57.39,445.1 57.54,443.36 57.69,445.12 57.83,445.99 57.98,446.61 58.13,446.63 58.27,446.2 58.42,444.91 58.57,444.98 58.72,446.19 58.86,446.54 59.01,446.61 59.16,446.1 59.3,444.16 59.45,443.4 59.6,441.73 59.74,442.49 59.89,443.79 60.04,444.67 60.18,444.98 60.33,446.09 60.48,447.82 60.62,448.24 60.77,447.25 60.92,447.33 61.06,447.18 61.21,446.61 61.36,445.45 61.51,443.71 61.65,443.36 61.8,442.01 61.95,440.83 62.09,439.79 62.24,437.93 62.39,435.26 62.53,431.58 62.68,429.24 62.83,427.23 62.97,426.2 63.12,423.04 63.27,422.18 63.41,423.84 63.56,424.14 63.71,424 63.86,425.44 64,422.13 64.15,420.83 64.3,418.38 64.44,418.37 64.59,415.78 64.74,414.9 64.88,413.49 65.03,412.93 65.18,410.28 65.32,408.06 65.47,405.63 65.62,406.66 65.76,404.92 65.91,402.63 66.06,401.28 66.2,397.01 66.35,395.57 66.5,399.28 66.65,401.27 66.79,404.44 66.94,408.06 67.09,403.8 67.23,396.66 67.38,393.17 67.53,390.55 67.67,384.54 67.82,381.93 67.97,378.19 68.11,375.44 68.26,370.46 68.41,367.13 68.55,366.94 68.7,361.91 68.85,361.6 68.99,358.6 69.14,356.62 69.29,353.76 69.44,353.48 69.58,352.67 69.73,355.17 69.88,354.96 70.02,359.19 70.17,362.55 70.32,365.47 70.46,370.94 70.61,375.48 70.76,383.49 70.9,389.37 71.05,396.66 71.2,403.36 71.34,408.06 71.49,415.99 71.64,425.16 71.78,432.5 71.93,426.31 72.08,422.46 72.23,416.75 72.37,410.45 72.52,407.04 72.67,401 72.81,403.22 72.96,404.45 73.11,404.15 73.25,406.43 73.4,407.88 73.55,410.48 73.69,413.49 73.84,415.06 73.99,417.9 74.13,419.42 74.28,420.55 74.43,420.32 74.58,416.77 74.72,417.41 74.87,415.12 75.02,418.03 75.16,423.16 75.31,425.44 75.46,428.21 75.6,429.84 75.75,433 75.9,434.67 76.04,437.82 76.19,438.66 76.34,441.73 76.48,443.31 76.63,444.98 76.78,445.06 76.92,446.61 77.07,443.46 77.22,441.83 77.37,439.55 77.51,441.32 77.66,441.6 77.81,442.22 77.95,443.36 78.1,442.52 78.25,440.97 78.39,439.55 78.54,440.9 78.69,442.82 78.83,444.31 78.98,446.61 79.13,444.12 79.27,443.05 79.42,440.49 79.57,439.55 79.71,437.38 79.86,433.73 80.01,430.87 80.16,429.69 80.3,428.33 80.45,428.49 80.6,427.61 80.74,430.64 80.89,432.63 81.04,436.3 81.18,438.93 81.33,442.22 81.48,444.11 81.62,446.61 81.77,445.22 81.92,442.82 82.06,440.77 82.21,439.55 82.36,438.04 82.5,435.2 82.65,432.5 82.8,430.87 82.95,430.23 83.09,429.46 83.24,429.24 83.39,427.67 83.53,424.61 83.68,423.81 83.83,424.39 83.97,425.82 84.12,427.79 84.27,429.24 84.41,431.85 84.56,435.74 84.71,437.93 84.85,435.7 85,432.67 85.15,429.51 85.3,425.44 85.44,422.83 85.59,419.22 85.74,417.51 85.88,415.12 86.03,410.92 86.18,407.54 86.32,404.8 86.47,399.95 86.62,398.43 86.76,394.22 86.91,390.68 87.06,391.66 87.2,395.93 87.35,397.74 87.5,399.73 87.64,403.16 87.79,406.47 87.94,408.06 88.09,405.47 88.23,401.6 88.38,397.74 88.53,375.48 88.67,379.94 88.82,379.53 88.97,383.62 89.11,370.89 89.26,357.02 89.41,356.13 89.55,351.6 89.7,353.16 89.85,348.87 89.99,346.02 90.14,345.85 90.29,345.94 90.43,342.85 90.58,340.73 90.73,339.74 90.88,345.65 91.02,345.82 91.17,346.16 91.32,351.97 91.46,354.44 91.61,359.19 91.76,359.81 91.9,356.32 92.05,357.74 92.2,356.48 92.34,361.25 92.49,371.28 92.64,377.44 92.78,383.08 92.93,396.17 93.08,407.54 93.23,417.83 93.37,427.04 93.52,434.68 93.67,443.36 93.81,444.09 93.96,444.62 94.11,446.22 94.25,446.61 94.4,444.1 94.55,441.08 94.69,439.55 94.84,439.06 94.99,438.41 95.13,437.7 95.28,436.3 95.43,435.97 95.57,437.13 95.72,437.93 95.87,436.58 96.02,435.22 96.16,434.68 96.31,432.5 96.46,432.24 96.6,430.46 96.75,430.57 96.9,429.24 97.04,429.75 97.19,429.49 97.34,430.87 97.48,430.17 97.63,428.21 97.78,426.22 97.92,425.44 98.07,424.35 98.22,423.61 98.36,423.81 98.51,422.05 98.66,422 98.81,422.01 98.95,420.55 99.1,421.07 99.25,420.63 99.39,422.18 99.54,421.13 99.69,419.15 99.83,417.64 99.98,415.12 100.13,413.61 100.27,415.07 100.42,413.49 100.57,412.65 100.71,409.67 100.86,407.56 101.01,406.43 101.15,407.46 101.3,407.37 101.45,408.31 101.6,409.69 101.74,408.36 101.89,407.63 102.04,404.8 102.18,402.89 102.33,401.73 102.48,399.35 102.62,399.37 102.77,396.94 102.92,397.13 103.06,393.94 103.21,393.17 103.36,391.05 103.5,387.89 103.65,386.88 103.8,381.06 103.95,374.87 104.09,367.34 104.24,366.45 104.39,363.95 104.53,360.83 104.68,357.75 104.83,356.48 104.97,357.01 105.12,362.25 105.27,362.37 105.41,364.62 105.56,368.92 105.71,377.32 105.85,383.08 106,391.21 106.15,396.36 106.29,403.72 106.44,399.48 106.59,398.63 106.74,393.94 106.88,393.53 107.03,391.05 107.18,389.1 107.32,386.88 107.47,386.99 107.62,385.9 107.76,383.5 107.91,382 108.06,384.95 108.2,390.83 108.35,395.57 108.5,399.38 108.64,400.46 108.79,405.56 108.94,408.06 109.08,405.65 109.23,402.3 109.38,397.74 109.53,396.54 109.67,390.96 109.82,389.49 109.97,386.88 110.11,378.62 110.26,373.7 110.41,367.34 110.55,367.46 110.7,364.61 110.85,363.1 110.99,362.27 111.14,359.19 111.29,360.99 111.43,358.37 111.58,357.6 111.73,359.19 111.88,365.4 112.02,376.11 112.17,383.08 112.32,386.76 112.46,392.04 112.61,394.21 112.76,399.37 112.9,403.89 113.05,412.09 113.2,417.25 113.34,422.18 113.49,427.18 113.64,432.81 113.78,439.55 113.93,441.13 114.08,444.62 114.22,445.91 114.37,448.24 114.52,447.83 114.67,448.13 114.81,448.18 114.96,447.83 115.11,448.91 115.25,448.24 115.4,447.81 115.55,446.87 115.69,447.19 115.84,447.16 115.99,446.61 116.13,446.86 116.28,445.34 116.43,445.36 116.57,444.58 116.72,444.98 116.87,443.57 117.01,443.36 117.16,442.44 117.31,441.84 117.46,441.73 117.6,440.87 117.75,441 117.9,440.11 118.04,439.49 118.19,439.55 118.34,440.91 118.48,440.96 118.63,442.23 118.78,443.36 118.92,442.8 119.07,441.95 119.22,440.35 119.36,441.08 119.51,439.55 119.66,440.05 119.8,438.9 119.95,439.29 120.1,437.6 120.25,437.93 120.39,437.92 120.54,439.7 120.69,440.47 120.83,440.69 120.98,441.73 121.13,440.52 121.27,440.4 121.42,439.4 121.57,439.55 121.71,439.19 121.86,438.31 122.01,437.25 122.15,436.5 122.3,436.3 122.45,435.57 122.6,434.68 122.74,432.76 122.89,432.5 123.04,431.34 123.18,430.8 123.33,430.57 123.48,429.24 123.62,428.98 123.77,429.04 123.92,427.61 124.06,427.22 124.21,426.62 124.36,425.38 124.5,423.81 124.65,423.93 124.8,424.49 124.94,424.25 125.09,425.44 125.24,428.42 125.39,432 125.53,435.1 125.68,437.93 125.83,438.69 125.97,441.48 126.12,442.57 126.27,443.36 126.41,442.9 126.56,442.87 126.71,441.73 126.85,442.31 127,443.12 127.15,442.75 127.29,443.36 127.44,441.46 127.59,441.01 127.73,439.55 127.88,440.44 128.03,443.12 128.18,444.28 128.32,444.98 128.47,444.75 128.62,442.88 128.76,442.92 128.91,441.73 129.06,442.15 129.2,442.2 129.35,443.36 129.5,442.3 129.64,441.62 129.79,440.42 129.94,439.55 130.08,440.54 130.23,441.93 130.38,443.36 130.52,442.88 130.67,443.16 130.82,441.33 130.97,441.73 131.11,440.38 131.26,439.15 131.41,438.35 131.55,437.93 131.7,437.36 131.85,435.86 131.99,434.67 132.14,433.12 132.29,432.61 132.43,429.94 132.58,429.24 132.73,426.91 132.87,424.34 133.02,422.18 133.17,420.11 133.32,420.44 133.46,418.92 133.61,423.27 133.76,426.68 133.9,430.87 134.05,430.34 134.2,428.68 134.34,427.43 134.49,425.44 134.64,423.15 134.78,422.67 134.93,421.07 135.08,420.55 135.22,423.13 135.37,426.74 135.52,429.24 135.66,426.94 135.81,423.06 135.96,421.23 136.11,418.92 136.25,415.57 136.4,412.95 136.55,409.69 136.69,410.38 136.84,413.93 136.99,414.02 137.13,416.75 137.28,420.99 137.43,425.65 137.57,430.87 137.72,431.23 137.87,433.6 138.01,434.88 138.16,436.3 138.31,436.05 138.45,435.15 138.6,434.4 138.75,434.67 138.9,435.8 139.04,438.42 139.19,439.55 139.34,437.22 139.48,436.91 139.63,433.98 139.78,432.5 139.92,434.94 140.07,436.46 140.22,437.93 140.36,439.16 140.51,441.27 140.66,441.62 140.8,443.36 140.95,442.13 141.1,440.98 141.25,440.54 141.39,439.55 141.54,437.3 141.69,435.84 141.83,434.67 141.98,435.39 142.13,436 142.27,437.57 142.42,437.93 142.57,435.94 142.71,434.73 142.86,432.5 143.01,431.47 143.15,428.74 143.3,426.28 143.45,425.44 143.59,426.86 143.74,428.87 143.89,429.21 144.04,430.87 144.18,434.36 144.33,436.38 144.48,439.55 144.62,440.09 144.77,441.96 144.92,442.75 145.06,443.36 145.21,442.91 145.36,441.99 145.5,441.73 145.65,442.21 145.8,442.6 145.94,444 146.09,444.98 146.24,442.91 146.38,442.76 146.53,441.34 146.68,439.55 146.83,440 146.97,441.6 147.12,443.36 147.27,442.18 147.41,441.41 147.56,439.72 147.71,437.93 147.85,435.75 148,434.17 148.15,430.87 148.29,432.42 148.44,433.59 148.59,436.47 148.73,437.93 148.88,440.01 149.03,441.92 149.17,443.36 149.32,442.17 149.47,440.45 149.62,439.65 149.76,437.93 149.91,437.42 150.06,436.04 150.2,433.02 150.35,432.5 150.5,431.09 150.64,431.09 150.79,429.24 150.94,429.01 151.08,427.89 151.23,428.27 151.38,427.61 151.52,428.36 151.67,428.74 151.82,430.87 151.97,432.1 152.11,432.86 152.26,434.41 152.41,434.67 152.55,433.55 152.7,433.26 152.85,432.5 152.99,433.78 153.14,435.58 153.29,436.34 153.43,437.93 153.58,439.1 153.73,439.91 153.87,441.54 154.02,443.36 154.17,442.8 154.31,441.48 154.46,439.55 154.61,438.95 154.76,438.49 154.9,437.71 155.05,436.3 155.2,435.11 155.34,431.99 155.49,430.87 155.64,432.62 155.78,432.19 155.93,433.78 156.08,434.67 156.22,435.44 156.37,437.18 156.52,438.83 156.66,439.55 156.81,437.39 156.96,434.06 157.1,432.5 157.25,430.17 157.4,428.65 157.55,427.39 157.69,425.44 157.84,427.26 157.99,430.87 158.13,432.5 158.28,434.87 158.43,437.37 158.57,439.56 158.72,441.73 158.87,441.6 159.01,443.11 159.16,443.31 159.31,443.36 159.45,441.98 159.6,441.17 159.75,439.55 159.89,436.64 160.04,435.32 160.19,434.02 160.34,430.87 160.48,428.45 160.63,425.57 160.78,422.18 160.92,421.03 161.07,420.67 161.22,417.05 161.36,416.75 161.51,418.7 161.66,419.79 161.8,422.14 161.95,423.81 162.1,427.51 162.24,431.45 162.39,434.67 162.54,435.13 162.69,437.77 162.83,438.3 162.98,439.55 163.13,441.21 163.27,442.41 163.42,443.36 163.57,444.42 163.71,443.42 163.86,444.88 164.01,444.98 164.15,445.07 164.3,445.41 164.45,445.55 164.59,446.61 164.74,445.61 164.89,444.46 165.03,443.36 165.18,443.22 165.33,444.09 165.48,445.01 165.62,444.98 165.77,445.75 165.92,445.43 166.06,446.61 166.21,446.5 166.36,445.63 166.5,444.95 166.65,444.98 166.8,444.91 166.94,445.61 167.09,445.77 167.24,446.61 167.38,444.76 167.53,444.46 167.68,443.36 167.82,444.02 167.97,444.34 168.12,444.18 168.27,444.98 168.41,444.58 168.56,442.59 168.71,442.27 168.85,442 169,441.51 169.15,439.83 169.29,439.55 169.44,440.82 169.59,441.01 169.73,442.91 169.88,443.36 170.03,444.28 170.17,444.49 170.32,444.98 170.47,443.82 170.62,443.28 170.76,441.77 170.91,441.73 171.06,439.7 171.2,439.86 171.35,437.93 171.5,435.93 171.64,434.25 171.79,434.27 171.94,432.5 172.08,431.85 172.23,430.75 172.38,429.04 172.52,429.24 172.67,430.83 172.82,431.82 172.96,432.5 173.11,430.52 173.26,430.49 173.41,427.92 173.55,427.61 173.7,425.89 173.85,422.87 173.99,422.18 174.14,420.86 174.29,419 174.43,416.23 174.58,415.12 174.73,415.31 174.87,416.5 175.02,418.56 175.17,418.92 175.31,415.77 175.46,412.15 175.61,409.69 175.75,410.81 175.9,412.01 176.05,414.31 176.2,416.75 176.34,414.69 176.49,412.94 176.64,411.86 176.78,409.67 176.93,407.42 177.08,406.74 177.22,404.8 177.37,403.06 177.52,402.15 177.66,401 177.81,404.99 177.96,406.65 178.1,409.71 178.25,411.86 178.4,417.39 178.54,423.29 178.69,426.59 178.84,432.5 178.99,436.46 179.13,439.68 179.28,443.36 179.43,444.68 179.57,445.02 179.72,445.39 179.87,446.61 180.01,445.85 180.16,445.12 180.31,444.98 180.45,444.32 180.6,443.4 180.75,443.62 180.89,443.36 181.04,444.35 181.19,444.85 181.34,443.85 181.48,444.98 181.63,445.51 181.78,446.09 181.92,446.6 182.07,447.22 182.22,448.24 182.36,447.93 182.51,447.56 182.66,446.55 182.8,446.07 182.95,445.78 183.1,444.94 183.24,444.62 183.39,443.11 183.54,443.36 183.68,441.85 183.83,441.52 183.98,440.39 184.13,440.14 184.27,439.55 184.42,437.45 184.57,435.19 184.71,432.5 184.86,431.06 185.01,428.83 185.15,428.16 185.3,425.44 185.45,424.77 185.59,421.05 185.74,421.33 185.89,418.92 186.03,418.39 186.18,415.93 186.33,415.12 186.47,416.52 186.62,417.25 186.77,420.34 186.92,420.55 187.06,425.08 187.21,427.72 187.36,430.87 187.5,428.08 187.65,427.13 187.8,424.46 187.94,422.18 188.09,419.12 188.24,416.89 188.38,415.12 188.53,414.76 188.68,415.3 188.82,414.79 188.97,413.49 189.12,415.68 189.26,416.42 189.41,416.38 189.56,418.92 189.71,418.35 189.85,415.89 190,415.12 190.15,412.7 190.29,411.82 190.44,409.03 190.59,408.06 190.73,408.52 190.88,405.64 191.03,406.43 191.17,409.77 191.32,411.16 191.47,414.12 191.61,415.12 191.76,413.45 191.91,411.63 192.06,408.06 192.2,405.78 192.35,404.33 192.5,400.1 192.64,399.37 192.79,398.91 192.94,399.77 193.08,396.95 193.23,397.74 193.38,402.56 193.52,404.45 193.67,408.06 193.82,411.65 193.96,414.94 194.11,417.39 194.26,420.55 194.4,426.16 194.55,429.98 194.7,434.67 194.85,438.73 194.99,442.76 195.14,447.16 195.29,441.29 195.43,437.14 195.58,430.87 195.73,428.46 195.87,427.56 196.02,425.66 196.17,423.81 196.31,423.22 196.46,420.88 196.61,418.92 196.75,420.19 196.9,419.87 197.05,421.09 197.19,422.18 197.34,419.96 197.49,420.01 197.64,418.82 197.78,416.75 197.93,413.98 198.08,412.15 198.22,408.06 198.37,406.99 198.52,404.02 198.66,400.1 198.81,399.37 198.96,393.12 199.1,389.8 199.25,383.62 199.4,380.9 199.54,375.95 199.69,370.05 199.84,370.04 199.99,366.79 200.13,374.92 200.28,386.34 200.43,405.93 200.57,424.89 200.72,443.36 200.87,443.81 201.01,445.5 201.16,446.61 201.31,445.26 201.45,444.91 201.6,443.71 201.75,441.73 201.89,443.25 202.04,444.2 202.19,444.98 202.33,443.7 202.48,442.08 202.63,440.75 202.78,439.55 202.92,441.57 203.07,443.91 203.22,445.36 203.36,446.61 203.51,444.75 203.66,444.78 203.8,443.36 203.95,441.49 204.1,440.89 204.24,439.12 204.39,437.93 204.54,440.99 204.68,442.2 204.83,444.98 204.98,443.85 205.12,441.76 205.27,440.28 205.42,439.55 205.57,441.24 205.71,441.73 205.86,443.36 206.01,442.96 206.15,444.26 206.3,445.28 206.45,444.98 206.59,444.1 206.74,443.71 206.89,442.98 207.03,441.73 207.18,442.52 207.33,445.63 207.47,446.61 207.62,446.23 207.77,445.12 207.91,444.61 208.06,443.36 208.21,442.64 208.36,441.2 208.5,439.55 208.65,438.74 208.8,437.56 208.94,436.24 209.09,436.3 209.24,437.54 209.38,439.27 209.53,439.55 209.68,436.69 209.82,434.94 209.97,432.12 210.12,430.87 210.26,432.4 210.41,436.1 210.56,437.09 210.71,439.55 210.85,442.11 211,444.08 211.15,446.61 211.29,446.47 211.44,445.74 211.59,444.16 211.73,443.36 211.88,442.13 212.03,440.09 212.17,439.55 212.32,439.21 212.47,437.77 212.61,437.01 212.76,436.3 212.91,434.58 213.05,432.42 213.2,430.87 213.35,428.32 213.5,426.49 213.64,424.68 213.79,422.18 213.94,420.92 214.08,418.93 214.23,415.54 214.38,413.49 214.52,414.69 214.67,415.91 214.82,416.75 214.96,418.28 215.11,421.47 215.26,423.67 215.4,425.44 215.55,429.68 215.7,432.92 215.84,437.93 215.99,435.51 216.14,433.47 216.29,429.82 216.43,427.61 216.58,423.8 216.73,421.33 216.87,418.92 217.02,417.73 217.17,416.22 217.31,415.85 217.46,415.12 217.61,417.07 217.75,421.25 217.9,422.61 218.05,425.44 218.19,429.59 218.34,432.94 218.49,436.3 218.63,438.22 218.78,439.81 218.93,442.3 219.08,443.36 219.22,442.32 219.37,441.53 219.52,439.55 219.66,440.72 219.81,442.83 219.96,444.28 220.1,444.98 220.25,444.91 220.4,446.15 220.54,446.61 220.69,443.21 220.84,439.02 220.98,434 221.13,430.87 221.28,428.91 221.43,427.64 221.57,427.48 221.72,425.44 221.87,427.7 222.01,429.58 222.16,430.87 222.31,431.89 222.45,432.5 222.6,433.62 222.75,434.67 222.89,431.7 223.04,430.36 223.19,427.61 223.33,426.65 223.48,423.99 223.63,423.13 223.77,422.18 223.92,420.83 224.07,420.56 224.22,418.92 224.36,420.69 224.51,422.69 224.66,423.81 224.8,424.38 224.95,427.41 225.1,427.92 225.24,429.45 225.39,430.87 225.54,433.58 225.68,437.57 225.83,439.55 225.98,440.63 226.12,441.57 226.27,443.21 226.42,444.98 226.56,442.29 226.71,437.82 226.86,434.67 227.01,432.72 227.15,429.8 227.3,427.79 227.45,425.44 227.59,421.55 227.74,420.53 227.89,416.75 228.03,419.24 228.18,423.82 228.33,426.33 228.47,430.87 228.62,433.65 228.77,436.22 228.91,440.89 229.06,443.36 229.21,440.9 229.36,438.09 229.5,434.67 229.65,432.31 229.8,429.72 229.94,428.57 230.09,425.44 230.24,423.5 230.38,421.85 230.53,420.55 230.68,418.22 230.82,417.89 230.97,415.88 231.12,413.49 231.26,410.47 231.41,408.87 231.56,404.8 231.7,402.26 231.85,397.74 232,402.4 232.15,403.81 232.29,407.08 232.44,411.86 232.59,416.13 232.73,420.61 232.88,425.44 233.03,430.87 233.17,429.11 233.32,425.86 233.47,424.34 233.61,422.18 233.76,416.69 233.91,412.45 234.05,408.06 234.2,407.07 234.35,402.97 234.49,400.5 234.64,399.37 234.79,395.84 234.94,395.93 235.08,392.31 235.23,390.99 235.38,390.94 235.52,391.62 235.67,389.6 235.82,393 235.96,397.78 236.11,402.63 236.26,407.09 236.4,410.48 236.55,414.82 236.7,418.92 236.84,422.39 236.99,424.02 237.14,425.94 237.28,429.24 237.43,431.99 237.58,435.03 237.73,437.93 237.87,439.68 238.02,440.23 238.17,441.22 238.31,441.73 238.46,442.19 238.61,443.27 238.75,443.36 238.9,443.6 239.05,444.82 239.19,444.79 239.34,444.98 239.49,444.04 239.63,443.2 239.78,441.73 239.93,441.37 240.08,442.05 240.22,443.79 240.37,443.36 240.52,443.24 240.66,441.44 240.81,440.28 240.96,439.55 241.1,436.79 241.25,435.01 241.4,432.5 241.54,429.84 241.69,429.81 241.84,428.24 241.98,425.44 242.13,424.38 242.28,423.67 242.42,420.74 242.57,420.55 242.72,421.57 242.87,422.98 243.01,425.44 243.16,428.31 243.31,430.1 243.45,430.87 243.6,430.11 243.75,428.99 243.89,427.05 244.04,425.44 244.19,428.64 244.33,429.79 244.48,432.19 244.63,434.67 244.77,432.22 244.92,428.96 245.07,425.44 245.21,424.8 245.36,421.4 245.51,421.19 245.66,418.92 245.8,416.78 245.95,416.09 246.1,415.12 246.24,416.9 246.39,418 246.54,421.16 246.68,422.18 246.83,422.64 246.98,424.28 247.12,425.44 247.27,423.81 247.42,421.39 247.56,419.77 247.71,418.92 247.86,417.52 248,416.38 248.15,413.8 248.3,413.49 248.45,415.25 248.59,416.61 248.74,416.75 248.89,415.72 249.03,414.7 249.18,412.84 249.33,411.86 249.47,410.22 249.62,408.34 249.77,408.06 249.91,410.29 250.06,410.98 250.21,411.5 250.35,413.49 250.5,412.17 250.65,407.78 250.8,406.43 250.94,407.8 251.09,407.32 251.24,409.39 251.38,409.69 251.53,409.76 251.68,412.71 251.82,413.09 251.97,415.12 252.12,411.75 252.26,411.48 252.41,408.06 252.56,404.65 252.7,402.46 252.85,398.47 253,395.57 253.14,390.56 253.29,388.98 253.44,383.62 253.59,389.13 253.73,391.35 253.88,396.45 254.03,399.37 254.17,404.56 254.32,411.73 254.47,416.75 254.61,416.65 254.76,416.17 254.91,413.87 255.05,413.49 255.2,413.62 255.35,415.48 255.49,417.71 255.64,418.92 255.79,422.08 255.93,424.79 256.08,429.24 256.23,431.26 256.38,433.04 256.52,435.79 256.67,437.93 256.82,440.89 256.96,442.02 257.11,444.98 257.26,445.7 257.4,445.85 257.55,447.35 257.7,448.24 257.84,447.83 257.99,447.38 258.14,446.61 258.28,446.93 258.43,446.97 258.58,447.16" fill="none" stroke="#ff7f0e" stroke-width="1.3" stroke-linejoin="round"/>
</g>
<rect x="27.44" y="331.35" width="242.2" height="125.45" class="fr"/>
<line x1="38.45" y1="456.8" x2="38.45" y2="459" class="tk"/>
<text x="38.45" y="466.2" class="tl" text-anchor="middle">0</text>
<line x1="67.82" y1="456.8" x2="67.82" y2="459" class="tk"/>
<text x="67.82" y="466.2" class="tl" text-anchor="middle">200</text>
<line x1="97.19" y1="456.8" x2="97.19" y2="459" class="tk"/>
<text x="97.19" y="466.2" class="tl" text-anchor="middle">400</text>
<line x1="126.56" y1="456.8" x2="126.56" y2="459" class="tk"/>
<text x="126.56" y="466.2" class="tl" text-anchor="middle">600</text>
<line x1="155.93" y1="456.8" x2="155.93" y2="459" class="tk"/>
<text x="155.93" y="466.2" class="tl" text-anchor="middle">800</text>
<line x1="185.3" y1="456.8" x2="185.3" y2="459" class="tk"/>
<text x="185.3" y="466.2" class="tl" text-anchor="middle">1000</text>
<line x1="214.67" y1="456.8" x2="214.67" y2="459" class="tk"/>
<text x="214.67" y="466.2" class="tl" text-anchor="middle">1200</text>
<line x1="244.04" y1="456.8" x2="244.04" y2="459" class="tk"/>
<text x="244.04" y="466.2" class="tl" text-anchor="middle">1400</text>
<line x1="25.24" y1="451.5" x2="27.44" y2="451.5" class="tk"/>
<text x="23.74" y="454.1" class="tl" text-anchor="end">0</text>
<line x1="25.24" y1="424.35" x2="27.44" y2="424.35" class="tk"/>
<text x="23.74" y="426.95" class="tl" text-anchor="end">50</text>
<line x1="25.24" y1="397.2" x2="27.44" y2="397.2" class="tk"/>
<text x="23.74" y="399.8" class="tl" text-anchor="end">100</text>
<line x1="25.24" y1="370.05" x2="27.44" y2="370.05" class="tk"/>
<text x="23.74" y="372.65" class="tl" text-anchor="end">150</text>
<line x1="25.24" y1="342.9" x2="27.44" y2="342.9" class="tk"/>
<text x="23.74" y="345.5" class="tl" text-anchor="end">200</text>
<text x="148.54" y="328.25" class="tt" text-anchor="middle">aotizhongxin Station</text>
<text x="148.54" y="474.6" class="xl" text-anchor="middle">Time (hourly)</text>
<text transform="translate(10.14,394.08) rotate(-90)" class="yl" text-anchor="middle">PM<tspan font-size="4.6" dy="1.3">2.5</tspan><tspan dy="-1.3"> (</tspan><tspan class="mu">&#956;g/m</tspan><tspan class="mu3" dy="-2.7">3</tspan><tspan dy="2.7">)</tspan></text>
<rect x="217.14" y="334.35" width="49.2" height="20.3" rx="1.3" class="lg"/>
<line x1="219.04" y1="339.45" x2="232.44" y2="339.45" stroke="#1f77b4" stroke-width="1.6" stroke-dasharray="3.6 1.3"/>
<line x1="219.04" y1="348.55" x2="232.44" y2="348.55" stroke="#ff7f0e" stroke-width="1.6"/>
<text x="237.94" y="341.55" class="lt">Truth</text>
<text x="237.94" y="350.35" class="lt">Prediction</text>
<clipPath id="c5"><rect x="300.5" y="331.35" width="242.2" height="125.45"/></clipPath>
<line x1="311.5" y1="331.35" x2="311.5" y2="456.8" class="gr"/>
<line x1="340.87" y1="331.35" x2="340.87" y2="456.8" class="gr"/>
<line x1="370.24" y1="331.35" x2="370.24" y2="456.8" class="gr"/>
<line x1="399.61" y1="331.35" x2="399.61" y2="456.8" class="gr"/>
<line x1="428.98" y1="331.35" x2="428.98" y2="456.8" class="gr"/>
<line x1="458.35" y1="331.35" x2="458.35" y2="456.8" class="gr"/>
<line x1="487.72" y1="331.35" x2="487.72" y2="456.8" class="gr"/>
<line x1="517.09" y1="331.35" x2="517.09" y2="456.8" class="gr"/>
<line x1="300.5" y1="451.6" x2="542.7" y2="451.6" class="gr"/>
<line x1="300.5" y1="436.16" x2="542.7" y2="436.16" class="gr"/>
<line x1="300.5" y1="420.72" x2="542.7" y2="420.72" class="gr"/>
<line x1="300.5" y1="405.28" x2="542.7" y2="405.28" class="gr"/>
<line x1="300.5" y1="389.84" x2="542.7" y2="389.84" class="gr"/>
<line x1="300.5" y1="374.4" x2="542.7" y2="374.4" class="gr"/>
<line x1="300.5" y1="358.96" x2="542.7" y2="358.96" class="gr"/>
<line x1="300.5" y1="343.52" x2="542.7" y2="343.52" class="gr"/>
<g clip-path="url(#c5)">
<polyline points="311.5,439.42 311.65,440.25 311.79,442.83 311.94,443.83 312.09,445.64 312.23,448.19 312.38,446.91 312.53,444.47 312.67,443.84 312.82,443 312.97,441.21 313.12,442.68 313.26,443.6 313.41,446.05 313.56,443.73 313.7,439.69 313.85,437.76 314,435.08 314.14,435.39 314.29,434.39 314.44,433.81 314.58,433.19 314.73,432.04 314.88,430.01 315.02,429.76 315.17,431.78 315.32,436.23 315.46,438.57 315.61,439.52 315.76,441.68 315.91,442.88 316.05,445.57 316.2,440.4 316.35,437.26 316.49,434.59 316.64,431.25" fill="none" stroke="#1f77b4" stroke-width="1.0" stroke-linejoin="round" stroke-dasharray="3.5 1.5"/>
<polyline points="316.93,424.08 317.08,422.07 317.23,422.44 317.37,424.82 317.52,425.07 317.67,427.73 317.81,422.75 317.96,418.07 318.11,415.01 318.26,413.18 318.4,412.59 318.55,412.59 318.7,412.71 318.84,416.7 318.99,420.56 319.14,424.82 319.28,422.94 319.43,420.36 319.58,419.21 319.72,418.53 319.87,418.13 320.02,419.39 320.16,419.58 320.31,420.12 320.46,421.87 320.6,425.71 320.75,429.85 320.9,425.39 321.05,422.44 321.19,420.91 321.34,417.36 321.49,416 321.63,414.49" fill="none" stroke="#1f77b4" stroke-width="1.0" stroke-linejoin="round" stroke-dasharray="3.5 1.5"/>
<polyline points="321.93,411.65 322.07,410.97 322.22,410.19" fill="none" stroke="#1f77b4" stroke-width="1.0" stroke-linejoin="round" stroke-dasharray="3.5 1.5"/>
<polyline points="323.84,394.53 323.98,389.48 324.13,387.1 324.28,387.29 324.42,392.8 324.57,397.13 324.72,400.73 324.86,405.17 325.01,408.68 325.16,412.61 325.3,416.04 325.45,421.13 325.6,423.8 325.74,428.05 325.89,429.5 326.04,432.53 326.19,435.89 326.33,438.59 326.48,443.51 326.63,445.73 326.77,448.08 326.92,448.62 327.07,451.09 327.21,449.28 327.36,447.89 327.51,445.72 327.65,445.78 327.8,443.42 327.95,442.56 328.09,441.27 328.24,441.63 328.39,439.92 328.53,440.53 328.68,439.24" fill="none" stroke="#1f77b4" stroke-width="1.0" stroke-linejoin="round" stroke-dasharray="3.5 1.5"/>
<polyline points="328.98,443.58 329.12,444.37 329.27,444.65 329.42,447.23 329.56,449.36 329.71,450.64 329.86,449.06 330,446.68 330.15,445.72 330.3,444.2 330.44,445.67 330.59,445.16 330.74,445.58 330.88,446.64 331.03,445.59 331.18,446.41 331.32,446.66 331.47,447.25 331.62,448.31 331.77,450.2 331.91,448.72 332.06,447.34 332.21,447.8 332.35,447.14 332.5,448.48 332.65,448.36 332.79,449.14 332.94,449.13 333.09,449.88 333.23,451.41 333.38,450.49 333.53,451.1 333.67,449.24 333.82,447.95 333.97,448.17 334.11,448.61 334.26,449.17 334.41,448.29 334.56,446.06 334.7,443.63 334.85,441.41 335,437.78 335.14,436.11 335.29,433.51 335.44,431.77 335.58,431.87 335.73,430.27 335.88,432.23 336.02,434.06 336.17,435.04 336.32,435.83 336.46,437.45 336.61,439.8 336.76,442.32 336.91,445.55 337.05,441.89 337.2,436.11 337.35,432.24 337.49,430.67 337.64,429.69 337.79,426.78 337.93,426.28 338.08,423.4 338.23,421.94 338.37,419.07" fill="none" stroke="#1f77b4" stroke-width="1.0" stroke-linejoin="round" stroke-dasharray="3.5 1.5"/>
<polyline points="338.81,413.68 338.96,411.8 339.11,408.68 339.25,405.58 339.4,402.36 339.55,406.54 339.7,406.93" fill="none" stroke="#1f77b4" stroke-width="1.0" stroke-linejoin="round" stroke-dasharray="3.5 1.5"/>
<polyline points="339.99,413.41 340.14,416.82 340.28,420.99 340.43,423.26 340.58,426.73 340.72,420.65 340.87,413.68 341.02,405.31" fill="none" stroke="#1f77b4" stroke-width="1.0" stroke-linejoin="round" stroke-dasharray="3.5 1.5"/>
<polyline points="342.49,366.74 342.63,366.13 342.78,364.15 342.93,366.77" fill="none" stroke="#1f77b4" stroke-width="1.0" stroke-linejoin="round" stroke-dasharray="3.5 1.5"/>
<polyline points="344.69,416.98 344.83,423.53 344.98,432.12 345.13,440.17 345.28,433.71 345.42,424.92" fill="none" stroke="#1f77b4" stroke-width="1.0" stroke-linejoin="round" stroke-dasharray="3.5 1.5"/>
<polyline points="346.01,406.54 346.16,402.39 346.3,404.2" fill="none" stroke="#1f77b4" stroke-width="1.0" stroke-linejoin="round" stroke-dasharray="3.5 1.5"/>
<polyline points="346.74,413.99 346.89,417.1 347.04,419.82 347.18,422.21 347.33,422.02 347.48,424.78 347.63,425.29 347.77,426.31 347.92,428.11 348.07,428.18" fill="none" stroke="#1f77b4" stroke-width="1.0" stroke-linejoin="round" stroke-dasharray="3.5 1.5"/>
<polyline points="348.65,432.26 348.8,434.6 348.95,437.01 349.09,439.03 349.24,439.94 349.39,441.52 349.53,442.85 349.68,443.07 349.83,445.9 349.97,448.18 350.12,449.66 350.27,451.41 350.42,450.15 350.56,450.57 350.71,450.03 350.86,449.63 351,447.84 351.15,446.05 351.3,443.8 351.44,444.57 351.59,445.65 351.74,449.49 351.88,451.03 352.03,450.03 352.18,446.02 352.32,443.99 352.47,442.73 352.62,440.02 352.76,437.58 352.91,435.19 353.06,433.64 353.21,432.44 353.35,430.27 353.5,428.33 353.65,430.38 353.79,431.6 353.94,433.57 354.09,437.05 354.23,439.96 354.38,444.65 354.53,447.47 354.67,443.33 354.82,441.91" fill="none" stroke="#1f77b4" stroke-width="1.0" stroke-linejoin="round" stroke-dasharray="3.5 1.5"/>
<polyline points="355.26,434.66 355.41,433.33 355.56,430.67 355.7,430.31 355.85,432.66 356,434.86 356.14,435.73 356.29,432.73 356.44,429.67 356.58,426.02 356.73,425.19 356.88,423.11" fill="none" stroke="#1f77b4" stroke-width="1.0" stroke-linejoin="round" stroke-dasharray="3.5 1.5"/>
<polyline points="357.76,433.47 357.9,435.81 358.05,440.1 358.2,442.39 358.35,441.78 358.49,440.37 358.64,439.28 358.79,436.03 358.93,435.45 359.08,433.31 359.23,429.71 359.37,425.9 359.52,423.08 359.67,419.08 359.81,414.8 359.96,407.66" fill="none" stroke="#1f77b4" stroke-width="1.0" stroke-linejoin="round" stroke-dasharray="3.5 1.5"/>
<polyline points="360.55,394.34 360.69,394.72 360.84,393.65 360.99,398.86 361.14,405.09 361.28,409.66 361.43,397.28 361.58,383.58 361.72,378.66" fill="none" stroke="#1f77b4" stroke-width="1.0" stroke-linejoin="round" stroke-dasharray="3.5 1.5"/>
<polyline points="363.04,343.34 363.19,338.61 363.34,337.61 363.48,338.04" fill="none" stroke="#1f77b4" stroke-width="1.0" stroke-linejoin="round" stroke-dasharray="3.5 1.5"/>
<polyline points="365.98,398.98 366.13,410.58 366.28,419.18 366.42,430.85 366.57,433.78" fill="none" stroke="#1f77b4" stroke-width="1.0" stroke-linejoin="round" stroke-dasharray="3.5 1.5"/>
<polyline points="366.86,441.64 367.01,442.3 367.16,442.92 367.3,442.96 367.45,444.79 367.6,445.37 367.74,447.74 367.89,446.59 368.04,444.85 368.18,444.57 368.33,444.72 368.48,443.89 368.62,441.3 368.77,440.17 368.92,439.61 369.07,437.31 369.21,436.69 369.36,435.94" fill="none" stroke="#1f77b4" stroke-width="1.0" stroke-linejoin="round" stroke-dasharray="3.5 1.5"/>
<polyline points="369.65,435.62 369.8,434.46 369.95,433.85 370.09,433.32 370.24,432.08 370.39,429.68 370.53,428.55 370.68,426.82 370.83,426.88 370.97,426.21 371.12,423.98 371.27,424.26 371.41,423.22 371.56,423.67 371.71,422.93 371.86,421.61 372,420.93" fill="none" stroke="#1f77b4" stroke-width="1.0" stroke-linejoin="round" stroke-dasharray="3.5 1.5"/>
<polyline points="372.3,417.25 372.44,416.67 372.59,414.64 372.74,414.99 372.88,413.75 373.03,413.64 373.18,413.5 373.32,414.48 373.47,413.18 373.62,412.91 373.76,414.8 373.91,414.95 374.06,417.36 374.2,414.64 374.35,414.42" fill="none" stroke="#1f77b4" stroke-width="1.0" stroke-linejoin="round" stroke-dasharray="3.5 1.5"/>
<polyline points="374.79,411.02 374.94,410.13 375.09,406.66" fill="none" stroke="#1f77b4" stroke-width="1.0" stroke-linejoin="round" stroke-dasharray="3.5 1.5"/>
<polyline points="377.73,370.87 377.88,369.01 378.02,366.93 378.17,366.31 378.32,369.48 378.46,377.99 378.61,380.6" fill="none" stroke="#1f77b4" stroke-width="1.0" stroke-linejoin="round" stroke-dasharray="3.5 1.5"/>
<polyline points="379.05,387.22 379.2,391.6 379.34,396.83 379.49,402.27 379.64,398.43 379.79,391.6 379.93,386.21" fill="none" stroke="#1f77b4" stroke-width="1.0" stroke-linejoin="round" stroke-dasharray="3.5 1.5"/>
<polyline points="380.37,382.54 380.52,383.31 380.67,385.03 380.81,386.17" fill="none" stroke="#1f77b4" stroke-width="1.0" stroke-linejoin="round" stroke-dasharray="3.5 1.5"/>
<polyline points="381.69,405.15 381.84,406.12 381.99,406.64 382.13,408.73 382.28,402.92 382.43,397.02 382.58,393.98" fill="none" stroke="#1f77b4" stroke-width="1.0" stroke-linejoin="round" stroke-dasharray="3.5 1.5"/>
<polyline points="384.34,355.46 384.48,353.7 384.63,353.21 384.78,350.35 384.93,354.73 385.07,355.56 385.22,359.72" fill="none" stroke="#1f77b4" stroke-width="1.0" stroke-linejoin="round" stroke-dasharray="3.5 1.5"/>
<polyline points="386.25,413.94 386.39,422.89 386.54,427.34 386.69,433.24 386.83,440.38 386.98,446.26 387.13,445.58 387.27,445 387.42,444.41 387.57,444 387.72,443.02 387.86,443.18 388.01,444.55 388.16,445.97 388.3,448.13 388.45,450.43 388.6,449.59 388.74,447.53 388.89,447.07 389.04,446.25 389.18,446.06 389.33,446.16 389.48,446.79 389.62,448.82 389.77,449.65 389.92,447.61 390.06,446.45" fill="none" stroke="#1f77b4" stroke-width="1.0" stroke-linejoin="round" stroke-dasharray="3.5 1.5"/>
<polyline points="390.36,445.92 390.51,445.1 390.65,444.78 390.8,445.22 390.95,445.33 391.09,443.92 391.24,444.04 391.39,444.66 391.53,445 391.68,445.05 391.83,446.39" fill="none" stroke="#1f77b4" stroke-width="1.0" stroke-linejoin="round" stroke-dasharray="3.5 1.5"/>
<polyline points="392.12,447 392.27,449.12 392.41,449.83 392.56,451.41 392.71,449.45 392.85,448.34 393,447.71 393.15,445.71 393.3,446.09 393.44,446.29 393.59,446.65 393.74,445.63 393.88,445.58 394.03,444.74 394.18,443.82 394.32,442.74 394.47,442.23 394.62,441.05 394.76,440.61 394.91,439.95 395.06,439.5 395.2,438.45 395.35,437.77" fill="none" stroke="#1f77b4" stroke-width="1.0" stroke-linejoin="round" stroke-dasharray="3.5 1.5"/>
<polyline points="396.23,432.18 396.38,431.43 396.53,429.43 396.67,428.09 396.82,426.88 396.97,424.83 397.11,426.04 397.26,424.01" fill="none" stroke="#1f77b4" stroke-width="1.0" stroke-linejoin="round" stroke-dasharray="3.5 1.5"/>
<polyline points="397.55,424.22 397.7,423.26 397.85,422.55 397.99,423.41 398.14,426.82 398.29,427.67" fill="none" stroke="#1f77b4" stroke-width="1.0" stroke-linejoin="round" stroke-dasharray="3.5 1.5"/>
<polyline points="399.17,441.4 399.32,443.18 399.46,445.38 399.61,445.27 399.76,445.6 399.9,446.88 400.05,446.94 400.2,446.31 400.34,446.05 400.49,448 400.64,448.78 400.78,448.6 400.93,448.1 401.08,447.84" fill="none" stroke="#1f77b4" stroke-width="1.0" stroke-linejoin="round" stroke-dasharray="3.5 1.5"/>
<polyline points="401.37,448.6 401.52,449.29 401.67,448.28 401.81,447.04 401.96,446.36 402.11,446.61 402.25,445.83 402.4,446.39 402.55,447.79 402.69,447.65 402.84,448.54 402.99,450.46 403.13,449.57 403.28,446.76 403.43,445.65 403.57,445.28 403.72,445.17 403.87,443.97 404.02,443.83 404.16,442.07 404.31,442.08 404.46,441.58 404.6,440.15" fill="none" stroke="#1f77b4" stroke-width="1.0" stroke-linejoin="round" stroke-dasharray="3.5 1.5"/>
<polyline points="405.04,437.86 405.19,436.6 405.34,433.26 405.48,432.41 405.63,432.17 405.78,430.63 405.92,428.92 406.07,428.29 406.22,429.64 406.37,429.92 406.51,432.34 406.66,432.65 406.81,433.85 406.95,437.07 407.1,439.32 407.25,439.47 407.39,442.01 407.54,442.86 407.69,443.99 407.83,441.41 407.98,438.06 408.13,436.59 408.27,433.55 408.42,432.88 408.57,430.32 408.71,427.55 408.86,424.73 409.01,422.28 409.16,418.39 409.3,418.4 409.45,415.79 409.6,416.48 409.74,414.56 409.89,415.8 410.04,419.01 410.18,421.72 410.33,422.85 410.48,425.67 410.62,428.47 410.77,429.94 410.92,431.22 411.06,433.63 411.21,434.43" fill="none" stroke="#1f77b4" stroke-width="1.0" stroke-linejoin="round" stroke-dasharray="3.5 1.5"/>
<polyline points="411.65,437.39 411.8,438.36 411.95,438.06 412.09,435.32 412.24,435.04 412.39,432.94 412.53,434.07 412.68,434.48 412.83,436.93 412.97,434.29 413.12,433.41 413.27,432.14 413.41,431.1 413.56,433.74 413.71,436.19 413.85,437.48 414,440.07" fill="none" stroke="#1f77b4" stroke-width="1.0" stroke-linejoin="round" stroke-dasharray="3.5 1.5"/>
<polyline points="414.3,442.58 414.44,442.95 414.59,441.72 414.74,441.03 414.88,439.86 415.03,439.41 415.18,438.96 415.32,439.23" fill="none" stroke="#1f77b4" stroke-width="1.0" stroke-linejoin="round" stroke-dasharray="3.5 1.5"/>
<polyline points="415.62,437.23 415.76,435.03 415.91,434.63 416.06,433.69 416.2,432.2 416.35,431.27 416.5,430.35 416.64,432.16 416.79,433.96 416.94,434.43 417.09,435.89 417.23,437.62 417.38,438.07 417.53,438.94 417.67,441.31 417.82,442.96 417.97,442.33 418.11,444.2 418.26,442.55 418.41,440.29 418.55,440.51 418.7,439.8 418.85,440.87 418.99,442.16 419.14,442.91 419.29,442.89 419.43,444.68 419.58,445.12 419.73,444.58 419.88,445.21 420.02,444.13 420.17,445.19 420.32,445.02 420.46,446.69 420.61,448.3 420.76,450.16 420.9,449.11 421.05,447.03 421.2,445.64 421.34,446.02 421.49,445.45 421.64,444.96 421.78,443.4 421.93,444.77 422.08,446.3 422.22,448.66 422.37,450.54 422.52,447.74 422.67,443.46 422.81,440.09 422.96,437.33 423.11,435.96 423.25,435.23 423.4,433.49 423.55,436 423.69,439.18 423.84,440.14 423.99,440.13" fill="none" stroke="#1f77b4" stroke-width="1.0" stroke-linejoin="round" stroke-dasharray="3.5 1.5"/>
<polyline points="424.28,443.68 424.43,446.22 424.57,442.38 424.72,439.2 424.87,437.64 425.02,434.08 425.16,433 425.31,433.1 425.46,432.34 425.6,433.52 425.75,436.8 425.9,437.63 426.04,439.15 426.19,440.9 426.34,445.58 426.48,448.05 426.63,446.55 426.78,445.49 426.92,444.31 427.07,443.36 427.22,444.6 427.36,445.73 427.51,447.41 427.66,447.05 427.81,445.89 427.95,444.64 428.1,442.95 428.25,443.59 428.39,443.26 428.54,445.45 428.69,446.96 428.83,444.1 428.98,443.13 429.13,440.35 429.27,439.1 429.42,436.32 429.57,434.98 429.71,433.3" fill="none" stroke="#1f77b4" stroke-width="1.0" stroke-linejoin="round" stroke-dasharray="3.5 1.5"/>
<polyline points="430.45,423.18 430.6,422.74 430.74,422.08 430.89,424.68 431.04,428.48 431.18,430.63 431.33,432.74 431.48,436.26 431.62,440.03 431.77,443.85 431.92,444.8 432.06,444.65 432.21,446.42 432.36,447.2 432.5,445.01 432.65,442.28 432.8,440.23 432.94,438.73 433.09,436.24 433.24,435.1 433.39,432.1 433.53,428.94 433.68,427.95 433.83,424.2 433.97,423.01 434.12,422.31 434.27,419.51 434.41,420.1 434.56,421.33 434.71,423.53 434.85,424.27 435,427.14 435.15,429.26 435.29,430.76 435.44,433.29 435.59,435.59 435.74,436.12 435.88,438.51 436.03,441.03 436.18,442.65 436.32,443.94 436.47,443.96 436.62,444.78 436.76,444.56 436.91,445.38 437.06,445.4 437.2,446.01 437.35,446.35 437.5,445.76 437.64,447.42 437.79,447.21 437.94,446.3 438.08,447.05 438.23,447.83 438.38,449.54 438.53,448.13 438.67,446.66 438.82,445.74 438.97,444.91 439.11,445.97" fill="none" stroke="#1f77b4" stroke-width="1.0" stroke-linejoin="round" stroke-dasharray="3.5 1.5"/>
<polyline points="439.41,447.67 439.55,448.45 439.7,448.4 439.85,450.47 439.99,449.98 440.14,447.58 440.29,446.61 440.43,447.31 440.58,446.99 440.73,447.9 440.87,448.94 441.02,451.25 441.17,451.41 441.32,450.98 441.46,448.57 441.61,448.24 441.76,447.84 441.9,446.62 442.05,446.78 442.2,447.65 442.34,449.22 442.49,450.78 442.64,451.41 442.78,449.96 442.93,447.43 443.08,445.73 443.22,446.44 443.37,445.35 443.52,445.08 443.67,444.75 443.81,444.59 443.96,443.84 444.11,443.37 444.25,444 444.4,443.18 444.55,441.43 444.69,440.32 444.84,440.93 444.99,440.57 445.13,440.82 445.28,439.79 445.43,438.71 445.57,437.3 445.72,437.43 445.87,437.46 446.01,434.97 446.16,435.44 446.31,434.02 446.46,433.1" fill="none" stroke="#1f77b4" stroke-width="1.0" stroke-linejoin="round" stroke-dasharray="3.5 1.5"/>
<polyline points="446.75,431.43 446.9,429.7 447.04,428.62 447.19,428.75 447.34,426.35 447.48,426.32 447.63,425.06 447.78,421.69 447.92,421.14 448.07,420.73 448.22,418.71 448.36,416.47 448.51,417.96 448.66,422.15 448.8,423.65 448.95,426.48 449.1,430.92 449.25,434.51 449.39,436.97 449.54,440.38 449.69,441.03 449.83,443.33 449.98,443.65 450.13,436.52 450.27,430.84 450.42,425.01 450.57,419.64 450.71,415.1 450.86,410.65 451.01,404.24 451.15,408.88 451.3,412.78 451.45,418.24 451.59,422.22 451.74,428.66 451.89,434.13 452.04,440.83 452.18,443.09 452.33,444.58 452.48,445.36 452.62,446.45 452.77,446.55 452.92,446.9 453.06,447.95 453.21,447.83 453.36,448.3 453.5,447.97 453.65,450.12 453.8,449.42 453.94,450.88 454.09,449.5 454.24,447.56 454.39,448.76 454.53,449.28 454.68,450.06 454.83,448.52 454.97,446.52 455.12,445.21 455.27,446.1 455.41,445.7 455.56,444.97 455.71,443.78 455.85,443.71 456,443.47 456.15,443.07 456.29,442.63 456.44,440.27 456.59,439.19 456.73,439.24 456.88,438.46 457.03,437.08 457.18,434.48 457.32,434.3 457.47,432.71 457.62,430.8 457.76,428.33 457.91,426.55 458.06,424.42 458.2,424.74 458.35,422.28 458.5,420.85" fill="none" stroke="#1f77b4" stroke-width="1.0" stroke-linejoin="round" stroke-dasharray="3.5 1.5"/>
<polyline points="459.23,415.34 459.38,414.8 459.52,416.92 459.67,418.56 459.82,419.54 459.97,422.26 460.11,426.38 460.26,427.68 460.41,431.65 460.55,429.86 460.7,426.78 460.85,425.17 460.99,422.28 461.14,420.24 461.29,417.82 461.43,414.9 461.58,414.33" fill="none" stroke="#1f77b4" stroke-width="1.0" stroke-linejoin="round" stroke-dasharray="3.5 1.5"/>
<polyline points="462.76,416.16 462.9,418.24 463.05,420.93 463.2,417.87 463.34,417.13 463.49,414.16 463.64,412.96 463.78,412.33 463.93,409.22 464.08,409.06 464.22,409.77 464.37,413.99 464.52,416.48 464.66,418.09 464.81,415.44 464.96,410.53 465.11,408.51" fill="none" stroke="#1f77b4" stroke-width="1.0" stroke-linejoin="round" stroke-dasharray="3.5 1.5"/>
<polyline points="466.13,396.22 466.28,395.76 466.43,401.31 466.57,406.83 466.72,412.43 466.87,416.29 467.01,422.14 467.16,427.53 467.31,431.83 467.45,435.86 467.6,439.61 467.75,442.61 467.9,441.18 468.04,439.66 468.19,437.69 468.34,435.57 468.48,432.28 468.63,429.61 468.78,425.21 468.92,427 469.07,427.87 469.22,430.19 469.36,432.29 469.51,429.75 469.66,425.72 469.8,419.75 469.95,417.44 470.1,416.68 470.24,412.38 470.39,411.42 470.54,412.05 470.69,412.92 470.83,415.5 470.98,415.62 471.13,411.64 471.27,408.75 471.42,404.7" fill="none" stroke="#1f77b4" stroke-width="1.0" stroke-linejoin="round" stroke-dasharray="3.5 1.5"/>
<polyline points="472.45,364.94 472.59,357.42 472.74,353.61 472.89,361.42 473.03,365.01" fill="none" stroke="#1f77b4" stroke-width="1.0" stroke-linejoin="round" stroke-dasharray="3.5 1.5"/>
<polyline points="473.48,402.47 473.62,416.48 473.77,430.91 473.92,443.4 474.06,444.11 474.21,445.24 474.36,446.71 474.5,446.55 474.65,446.52 474.8,446.9 474.94,447.54 475.09,448.2 475.24,448.85 475.38,448.02 475.53,447.31 475.68,446.75 475.83,445.97 475.97,444.35 476.12,445.1 476.27,444.32 476.41,444.28 476.56,444.84 476.71,445.53 476.85,446.42 477,447.25 477.15,449.18 477.29,449.96 477.44,447.76 477.59,446.22 477.73,445.56 477.88,445.56 478.03,444.64 478.17,444.03 478.32,443.18 478.47,442.06 478.62,442.95 478.76,444.69 478.91,445.65 479.06,445.87 479.2,446.74 479.35,446.05" fill="none" stroke="#1f77b4" stroke-width="1.0" stroke-linejoin="round" stroke-dasharray="3.5 1.5"/>
<polyline points="479.64,447.92 479.79,448.74 479.94,450.01 480.08,450.79 480.23,448.34 480.38,446.16 480.52,444.4 480.67,442.91 480.82,443.27 480.96,441.61 481.11,442.07 481.26,442 481.41,441.91 481.55,440.48 481.7,439.14 481.85,437.53 481.99,437.89 482.14,436.61 482.29,435.45 482.43,435.36 482.58,434.48 482.73,435.3 482.87,436.24 483.02,438.03 483.17,439.76 483.31,441.66 483.46,444 483.61,445.6 483.76,445.85 483.9,446.58 484.05,448.01 484.2,450.07 484.34,448.53 484.49,447.04 484.64,445.5" fill="none" stroke="#1f77b4" stroke-width="1.0" stroke-linejoin="round" stroke-dasharray="3.5 1.5"/>
<polyline points="484.93,442.86 485.08,440.28 485.22,437.62 485.37,436.39 485.52,434.94 485.66,432.18 485.81,431.61 485.96,429.61 486.1,425.89 486.25,424.21 486.4,422.89 486.55,421.61 486.69,421.15 486.84,419.2 486.99,417.31 487.13,418.43 487.28,415.25 487.43,415.36 487.57,414.89 487.72,411.79 487.87,411.41 488.01,413.36 488.16,418.41 488.31,421.31 488.45,423.29 488.6,427.71 488.75,431.99 488.89,434.88 489.04,431.75 489.19,431 489.34,429.3 489.48,426.22 489.63,423.69 489.78,420.34" fill="none" stroke="#1f77b4" stroke-width="1.0" stroke-linejoin="round" stroke-dasharray="3.5 1.5"/>
<polyline points="490.22,421.75 490.36,421.6 490.51,422.98 490.66,425.26 490.8,429.32 490.95,430.66 491.1,433.44 491.24,436.2 491.39,438.85 491.54,442.1 491.68,442.55 491.83,444.13 491.98,443.72 492.13,444.9 492.27,445.45 492.42,446.61 492.57,449.08 492.71,447.57 492.86,447.04 493.01,445.18 493.15,445.08 493.3,444.54 493.45,442.23 493.59,441.3 493.74,441.99 493.89,444.04 494.03,445.74 494.18,447.84 494.33,447 494.48,445.86 494.62,444.01 494.77,443.47 494.92,445.15 495.06,447.39 495.21,449.08 495.36,445.88 495.5,441.95 495.65,439.18 495.8,437.39 495.94,434.35 496.09,432.2 496.24,431.19 496.38,429.59 496.53,428.07 496.68,428.25 496.82,425.72 496.97,423.94 497.12,422.81 497.27,420.1 497.41,420.02 497.56,421.4" fill="none" stroke="#1f77b4" stroke-width="1.0" stroke-linejoin="round" stroke-dasharray="3.5 1.5"/>
<polyline points="498,426.96 498.15,428.84 498.29,431.92 498.44,436.06 498.59,438.4 498.73,442 498.88,444.87 499.03,443.06 499.17,442.68 499.32,440.2 499.47,439.34 499.61,437.23 499.76,434.14 499.91,430.88 500.06,428.45 500.2,427.39 500.35,423.92 500.5,422.99 500.64,420.92 500.79,418.81 500.94,415.16" fill="none" stroke="#1f77b4" stroke-width="1.0" stroke-linejoin="round" stroke-dasharray="3.5 1.5"/>
<polyline points="501.23,420.03 501.38,423.17 501.52,426.16 501.67,430.2 501.82,434.74 501.96,438.04 502.11,443.33 502.26,440.26 502.4,439.5 502.55,436.55 502.7,432.65 502.85,431.72 502.99,428.68 503.14,425.38 503.29,422.56" fill="none" stroke="#1f77b4" stroke-width="1.0" stroke-linejoin="round" stroke-dasharray="3.5 1.5"/>
<polyline points="504.46,401.34 504.61,400.69 504.75,404.95" fill="none" stroke="#1f77b4" stroke-width="1.0" stroke-linejoin="round" stroke-dasharray="3.5 1.5"/>
<polyline points="505.64,428.81 505.78,431.62 505.93,436.53 506.08,442.33 506.22,438.64 506.37,434.91 506.52,433.63 506.66,430.33 506.81,424.88 506.96,421.5 507.1,416.53 507.25,414.46" fill="none" stroke="#1f77b4" stroke-width="1.0" stroke-linejoin="round" stroke-dasharray="3.5 1.5"/>
<polyline points="509.45,420.31 509.6,424.75 509.75,426.98 509.89,429.33 510.04,430.86 510.19,433.26 510.33,435.17 510.48,434.88 510.63,437.27 510.78,437.05 510.92,437.13 511.07,437.82 511.22,439 511.36,439.37 511.51,440.92 511.66,440.81 511.8,442.59 511.95,442.05 512.1,443.23 512.24,442.72 512.39,442.77 512.54,443.93 512.68,444.16 512.83,444.64 512.98,443.25 513.13,442.55 513.27,441.41 513.42,441.56" fill="none" stroke="#1f77b4" stroke-width="1.0" stroke-linejoin="round" stroke-dasharray="3.5 1.5"/>
<polyline points="513.86,439.42 514.01,438.27 514.15,437.35 514.3,434.15" fill="none" stroke="#1f77b4" stroke-width="1.0" stroke-linejoin="round" stroke-dasharray="3.5 1.5"/>
<polyline points="514.59,432.75 514.74,431.65 514.89,429.32 515.03,428.85 515.18,426.47 515.33,426.41 515.47,424.69 515.62,427.06 515.77,428.35 515.92,430.03 516.06,430.7 516.21,432.77 516.36,435.46 516.5,438.8 516.65,435.56 516.8,434.11 516.94,431.03 517.09,428.71 517.24,428.09 517.38,427.54 517.53,426.65 517.68,424.3 517.82,421.67 517.97,419.67 518.12,419.14 518.26,419.31" fill="none" stroke="#1f77b4" stroke-width="1.0" stroke-linejoin="round" stroke-dasharray="3.5 1.5"/>
<polyline points="518.85,417.41 519,419.57 519.15,420.3 519.29,420.71 519.44,424.31 519.59,426.01 519.73,429.8 519.88,427.29 520.03,425.13 520.17,424.01" fill="none" stroke="#1f77b4" stroke-width="1.0" stroke-linejoin="round" stroke-dasharray="3.5 1.5"/>
<polyline points="521.35,414.92 521.5,415.97 521.64,417.2 521.79,419.23 521.94,418.37 522.08,416.02 522.23,413.67 522.38,412.76 522.52,412.78 522.67,415.87 522.82,415.49 522.96,413.91" fill="none" stroke="#1f77b4" stroke-width="1.0" stroke-linejoin="round" stroke-dasharray="3.5 1.5"/>
<polyline points="523.7,409.19 523.85,408.05 523.99,412.82 524.14,415.5 524.29,421.34 524.43,424.44 524.58,421.34 524.73,416.46 524.87,413.74 525.02,408.59" fill="none" stroke="#1f77b4" stroke-width="1.0" stroke-linejoin="round" stroke-dasharray="3.5 1.5"/>
<polyline points="525.75,385.58 525.9,382.37 526.05,379.54 526.19,383.56 526.34,383.39" fill="none" stroke="#1f77b4" stroke-width="1.0" stroke-linejoin="round" stroke-dasharray="3.5 1.5"/>
<polyline points="526.78,403.11 526.93,417.7 527.08,430.08 527.22,424.2 527.37,419.92 527.52,414.91 527.66,412.7 527.81,412.6" fill="none" stroke="#1f77b4" stroke-width="1.0" stroke-linejoin="round" stroke-dasharray="3.5 1.5"/>
<polyline points="528.25,408.8 528.4,407.55 528.54,405.3 528.69,402.95 528.84,410.06 528.98,417.97 529.13,426.11 529.28,429.91 529.43,435.01 529.57,440.69 529.72,444.91 529.87,446.33 530.01,447.62 530.16,450.04 530.31,448.57 530.45,446.64 530.6,446.48 530.75,444.65 530.89,444.99 531.04,447.64 531.19,448 531.33,447.87 531.48,446.2" fill="none" stroke="#1f77b4" stroke-width="1.0" stroke-linejoin="round" stroke-dasharray="3.5 1.5"/>
<polyline points="311.5,439.87 311.65,440.49 311.79,442.87 311.94,443.41 312.09,444.49 312.23,446.66 312.38,446.01 312.53,444.19 312.67,444 312.82,443.34 312.97,441.72 313.12,442.62 313.26,442.48 313.41,443.57 313.56,441.93 313.7,438.62 313.85,436.93 314,434.31 314.14,434.61 314.29,433.64 314.44,433.07 314.58,432.86 314.73,432.23 314.88,430.83 315.02,431.22 315.17,432.57 315.32,436.32 315.46,438.01 315.61,438.43 315.76,440.57 315.91,441.31 316.05,443.57 316.2,439.86 316.35,437.34 316.49,434.84 316.64,431.22 316.79,427.34 316.93,424.25 317.08,422.57 317.23,423.03 317.37,425.06 317.52,424.1 317.67,425.66 317.81,421.49 317.96,417.66 318.11,415.16 318.26,413.39 318.4,412.92 318.55,413.11 318.7,413.31 318.84,416.69 318.99,419.4 319.14,422.57 319.28,421.63 319.43,420.05 319.58,419.47 319.72,418.87 319.87,418.48 320.02,419.75 320.16,420.02 320.31,420.72 320.46,421.83 320.6,424.54 320.75,427.51 320.9,423.84 321.05,421.76 321.19,420.62 321.34,417.01 321.49,415.59 321.63,414.3 321.78,412.07 321.93,411.83 322.07,411.3 322.22,410.43 322.37,408.37 322.51,407.19 322.66,405.04 322.81,404.66 322.95,402.6 323.1,401.35 323.25,401.62 323.39,400.96 323.54,399.92 323.69,396.74 323.84,394.6 323.98,390.46 324.13,389.48 324.28,391.08 324.42,395.08 324.57,397.87 324.72,400.66 324.86,405.02 325.01,408.37 325.16,412.25 325.3,415.65 325.45,420.72 325.6,423.42 325.74,427.91 325.89,429.68 326.04,433.07 326.19,436.87 326.33,439.13 326.48,443.57 326.63,445.23 326.77,446.5 326.92,446.54 327.07,448.51 327.21,448.2 327.36,448.31 327.51,446.61 327.65,446.66 327.8,444.25 327.95,443.38 328.09,441.72 328.24,441.74 328.39,439.77 328.53,440.18 328.68,439.25 328.83,441.59 328.98,443.81 329.12,444.81 329.27,445.05 329.42,447.13 329.56,448.24 329.71,448.51 329.86,448.13 330,446.93 330.15,446.66 330.3,445.31 330.44,446.25 330.59,445.06 330.74,444.81 330.88,445.68 331.03,445.09 331.18,446.22 331.32,446.66 331.47,446.96 331.62,447.31 331.77,448.51 331.91,448.3 332.06,448.25 332.21,448.89 332.35,447.89 332.5,448.67 332.65,447.98 332.79,448.51 332.94,448.32 333.09,448.87 333.23,450.01 333.38,449.09 333.53,449.75 333.67,448.92 333.82,448.66 333.97,448.58 334.11,448.48 334.26,448.51 334.41,447.13 334.56,445.47 334.7,443.57 334.85,441.85 335,438.65 335.14,436.96 335.29,434.31 335.44,432.6 335.58,432.84 335.73,431.22 335.88,432.98 336.02,434.59 336.17,435.39 336.32,436.16 336.46,437.76 336.61,439.85 336.76,441.86 336.91,444.81 337.05,441.8 337.2,436.6 337.35,433.07 337.49,431.08 337.64,429.71 337.79,426.48 337.93,425.66 338.08,422.94 338.23,421.61 338.37,418.87 338.52,416.28 338.67,415.63 338.81,413.85 338.96,412.07 339.11,409.05 339.25,405.97 339.4,402.81 339.55,406.88 339.7,407.11 339.84,411.25 339.99,413.31 340.14,416.53 340.28,420.33 340.43,422.4 340.58,425.66 340.72,420 340.87,413.41 341.02,405.28 341.16,401.11 341.31,393.81 341.46,389.35 341.6,384.9 341.75,380.66 341.9,379.7 342.04,374.9 342.19,371.31 342.34,368.63 342.49,366.88 342.63,366.43 342.78,364.52 342.93,366.96 343.07,366.27 343.22,364.46 343.37,366.99 343.51,369.39 343.66,374.56 343.81,379.6 343.95,383.05 344.1,391.55 344.25,400.51 344.39,409.6 344.54,413.42 344.69,417.01 344.83,423.14 344.98,430.87 345.13,438.01 345.28,432.53 345.42,424.69 345.57,418.87 345.72,414.31 345.86,411.98 346.01,406.75 346.16,402.81 346.3,404.45 346.45,408.55 346.6,412.07 346.74,414.22 346.89,417.38 347.04,420.14 347.18,422.57 347.33,422.4 347.48,425.17 347.63,425.66 347.77,426.67 347.92,428.47 348.07,428.41 348.21,429.37 348.36,430.23 348.51,431.41 348.65,432.03 348.8,434.31 348.95,436.66 349.09,438.61 349.24,439.87 349.39,441.84 349.53,443.57 349.68,444.21 349.83,446.66 349.97,448.4 350.12,449.18 350.27,450.36 350.42,449.07 350.56,449.59 350.71,449.05 350.86,448.51 351,447.42 351.15,446.36 351.3,444.81 351.44,446.05 351.59,446.07 351.74,448.43 351.88,448.51 352.03,448.03 352.18,445.5 352.32,444.4 352.47,443.57 352.62,441.25 352.76,438.67 352.91,436.16 353.06,434.52 353.21,433.3 353.35,431.21 353.5,429.37 353.65,431.34 353.79,432.46 353.94,434.31 354.09,437.73 354.23,440.31 354.38,444.42 354.53,446.66 354.67,442.87 354.82,441.84 354.97,438.01 355.11,436.37 355.26,434.88 355.41,433.73 355.56,431.22 355.7,430.63 355.85,432.26 356,433.3 356.14,433.07 356.29,430.99 356.44,428.86 356.58,425.66 356.73,424.78 356.88,422.89 357.02,422.19 357.17,422.57 357.32,426.11 357.46,427.85 357.61,431.22 357.76,433.24 357.9,434.99 358.05,438.4 358.2,439.87 358.35,440.15 358.49,439.39 358.64,438.01 358.79,435 358.93,434.66 359.08,432.55 359.23,429.37 359.37,425.91 359.52,423.37 359.67,419.57 359.81,415.16 359.96,407.86 360.11,404.22 360.25,397.25 360.4,395.61 360.55,394.56 360.69,395.08 360.84,394.16 360.99,398.67 361.14,403.71 361.28,407.13 361.43,395.67 361.58,383.05 361.72,378.71 361.87,374.36 362.02,370.31 362.16,366.83 362.31,362.05 362.46,356.29 362.6,354.21 362.75,350.58 362.9,345.99 363.04,343.43 363.19,338.9 363.34,337.96 363.48,338.2 363.63,338.27 363.78,338.62 363.93,341.05 364.07,345.62 364.22,347.7 364.37,354.53 364.51,356.49 364.66,358.41 364.81,360.37 364.95,362.05 365.1,364.53 365.25,367.49 365.39,366.8 365.54,370.08 365.69,380.36 365.83,389.81 365.98,399.1 366.13,410.92 366.28,419.57 366.42,431.22 366.57,433.94 366.72,438.86 366.86,441.72 367.01,442.55 367.16,443.36 367.3,443.57 367.45,444.56 367.6,443.79 367.74,444.81 367.89,444.29 368.04,443.44 368.18,443.53 368.33,443.57 368.48,442.65 368.62,440.55 368.77,439.87 368.92,439.73 369.07,437.83 369.21,437.06 369.36,436.16 369.51,436.58 369.65,435.68 369.8,434.73 369.95,434.31 370.09,433.49 370.24,431.95 370.39,429.37 370.53,428.17 370.68,426.39 370.83,426.38 370.97,425.66 371.12,423.41 371.27,423.64 371.41,422.57 371.56,423.11 371.71,422.5 371.86,421.3 372,420.72 372.15,418.51 372.3,417.42 372.44,417.01 372.59,415.11 372.74,415.53 372.88,414.46 373.03,414.54 373.18,414.1 373.32,414.86 373.47,413.5 373.62,413.31 373.76,414.54 373.91,413.68 374.06,415.16 374.2,413.51 374.35,414.39 374.5,413.88 374.65,412.07 374.79,410.83 374.94,409.79 375.09,406.52 375.23,405.76 375.38,401.69 375.53,400.08 375.67,399.72 375.82,397.47 375.97,393.48 376.11,392.31 376.26,391.24 376.41,386.19 376.55,385.57 376.7,383.66 376.85,381.59 377,381.22 377.14,378.72 377.29,378.61 377.44,374.44 377.58,372.55 377.73,370.94 377.88,369.54 378.02,368.15 378.17,368.22 378.32,370.61 378.46,378.33 378.61,380.58 378.76,382.52 378.9,387.33 379.05,387.21 379.2,391.08 379.34,395.29 379.49,399.72 379.64,396.85 379.79,391.02 379.93,386.13 380.08,384.27 380.23,383.48 380.37,382.72 380.52,383.66 380.67,385.31 380.81,386.39 380.96,388.11 381.11,390.46 381.25,394.8 381.4,398.23 381.55,403.43 381.69,405.24 381.84,405.8 381.99,405.39 382.13,406.52 382.28,401.63 382.43,396.72 382.58,394.16 382.72,392.29 382.87,385.57 383.02,384.69 383.16,380.58 383.31,378.01 383.46,373.59 383.6,371.31 383.75,366.16 383.9,366.4 384.04,362.52 384.19,358.96 384.34,355.6 384.48,354.28 384.63,354.72 384.78,352.78 384.93,356.12 385.07,355.94 385.22,359.58 385.37,367.65 385.51,373.7 385.66,381.83 385.81,386.75 385.95,396.8 386.1,405.13 386.25,414.07 386.39,423.19 386.54,427.81 386.69,433.44 386.83,439.48 386.98,444.19 387.13,444.26 387.27,444.42 387.42,444.49 387.57,444.32 387.72,443.57 387.86,443.72 388.01,445.01 388.16,445.92 388.3,447.14 388.45,448.51 388.6,448.54 388.74,447.35 388.89,447.33 389.04,446.53 389.18,446.66 389.33,446.83 389.48,447.03 389.62,448.23 389.77,447.89 389.92,446.64 390.06,446.3 390.21,445.92 390.36,445.86 390.51,444.81 390.65,444.26 390.8,444.47 390.95,444.58 391.09,443.32 391.24,443.57 391.39,443.82 391.53,444.25 391.68,444.54 391.83,446.22 391.97,446.66 392.12,446.95 392.27,448.32 392.41,447.77 392.56,448.51 392.71,447.59 392.85,447.91 393,448.23 393.15,446.66 393.3,446.66 393.44,446.48 393.59,446.47 393.74,445.1 393.88,445.34 394.03,444.81 394.18,444.18 394.32,443.39 394.47,443.04 394.62,442 394.76,441.72 394.91,441.2 395.06,440.4 395.2,439.01 395.35,438.01 395.5,436.39 395.65,436.4 395.79,435.71 395.94,434.57 396.09,433.07 396.23,432.01 396.38,431.1 396.53,428.97 396.67,427.51 396.82,426.4 396.97,424.47 397.11,425.74 397.26,423.81 397.41,424.24 397.55,424.35 397.7,423.65 397.85,423.19 397.99,423.86 398.14,427.09 398.29,427.79 398.44,429.37 398.58,433.03 398.73,435.65 398.88,439.87 399.02,440.99 399.17,441.39 399.32,442.9 399.46,444.81 399.61,444.42 399.76,445.04 399.9,446.61 400.05,446.98 400.2,446.66 400.34,446.14 400.49,447.82 400.64,448.34 400.78,447.89 400.93,447.82 401.08,447.99 401.23,448.83 401.37,448.51 401.52,448.51 401.67,448.3 401.81,447.84 401.96,447.64 402.11,447.67 402.25,446.66 402.4,446.76 402.55,447.69 402.69,447.15 402.84,447.31 402.99,448.51 403.13,448.39 403.28,446.18 403.43,445.3 403.57,444.81 403.72,444.56 403.87,443.43 404.02,443.34 404.16,441.65 404.31,441.72 404.46,441.29 404.6,439.95 404.75,439.98 404.9,438.03 405.04,438.01 405.19,436.95 405.34,433.76 405.48,433.07 405.63,432.88 405.78,431.42 405.92,429.84 406.07,429.37 406.22,430.52 406.37,430.58 406.51,432.87 406.66,433.07 406.81,434.3 406.95,437.57 407.1,439.87 407.25,440.03 407.39,442.35 407.54,442.82 407.69,443.57 407.83,441.1 407.98,437.74 408.13,436.16 408.27,432.94 408.42,432.06 408.57,429.91 408.71,427.51 408.86,425 409.01,422.82 409.16,418.87 409.3,418.9 409.45,416.31 409.6,417.15 409.74,415.16 409.89,416.14 410.04,419.07 410.18,421.52 410.33,422.57 410.48,425.3 410.62,427.99 410.77,429.37 410.92,430.76 411.06,433.29 411.21,434.22 411.36,436.16 411.5,436.88 411.65,437.14 411.8,438.01 411.95,437.63 412.09,435.04 412.24,434.96 412.39,433.07 412.53,433.65 412.68,432.93 412.83,434.31 412.97,432.64 413.12,432.98 413.27,432.53 413.41,431.84 413.56,433.79 413.71,435.53 413.85,436.91 414,439.87 414.15,441.1 414.3,442.46 414.44,442.34 414.59,441.6 414.74,441.41 414.88,440.48 415.03,439.87 415.18,439.27 415.32,439.39 415.47,438.01 415.62,437.4 415.76,435.35 415.91,435.1 416.06,434.31 416.2,432.86 416.35,432.03 416.5,431.22 416.64,432.93 416.79,434.51 416.94,434.8 417.09,436.16 417.23,437.77 417.38,437.85 417.53,438.12 417.67,439.87 417.82,441.39 417.97,440.43 418.11,441.72 418.26,441.22 418.41,440.17 418.55,441.05 418.7,440.48 418.85,441.35 418.99,442.3 419.14,442.34 419.29,442.15 419.43,443.76 419.58,443.89 419.73,443.57 419.88,444.4 420.02,443.55 420.17,444.81 420.32,444.49 420.46,445.5 420.61,445.96 420.76,446.66 420.9,446.54 421.05,445.42 421.2,444.49 421.34,444.81 421.49,444.65 421.64,444.64 421.78,443.57 421.93,445.17 422.08,445.89 422.22,447.11 422.37,447.89 422.52,445.55 422.67,442.46 422.81,439.87 422.96,437.46 423.11,436.49 423.25,435.59 423.4,433.69 423.55,435.78 423.69,438.5 423.84,439.87 423.99,440.33 424.13,443.22 424.28,443.46 424.43,444.81 424.57,441.67 424.72,439.21 424.87,437.92 425.02,434.31 425.16,433.31 425.31,433.62 425.46,433.07 425.6,434.14 425.75,437.33 425.9,438.18 426.04,439.87 426.19,440.66 426.34,443.85 426.48,444.81 426.63,443.8 426.78,444.17 426.92,444.01 427.07,443.57 427.22,444.6 427.36,444.4 427.51,444.81 427.66,445.22 427.81,444.89 427.95,444.71 428.1,443.57 428.25,444.54 428.39,444.02 428.54,444.73 428.69,444.81 428.83,442.49 428.98,442.08 429.13,439.87 429.27,438.67 429.42,435.96 429.57,434.67 429.71,433.07 429.86,431.54 430.01,428.05 430.15,425.66 430.3,425.65 430.45,423.36 430.6,423.39 430.74,423.19 430.89,425.49 431.04,429.05 431.18,431.22 431.33,433.63 431.48,436.82 431.62,440.21 431.77,443.57 431.92,444.04 432.06,443.68 432.21,444.74 432.36,444.81 432.5,443.88 432.65,441.76 432.8,439.87 432.94,438.05 433.09,435.29 433.24,434.16 433.39,431.22 433.53,428.12 433.68,427.14 433.83,423.81 433.97,422.96 434.12,422.65 434.27,420.24 434.41,420.72 434.56,421.59 434.71,423.41 434.85,423.81 435,426.72 435.15,428.89 435.29,430.47 435.44,433.07 435.59,435.16 435.74,435.48 435.88,437.62 436.03,439.87 436.18,441.71 436.32,443.26 436.47,443.57 436.62,444.68 436.76,444.3 436.91,444.95 437.06,444.81 437.2,445.24 437.35,445.48 437.5,444.8 437.64,446.34 437.79,446.04 437.94,445.34 438.08,445.77 438.23,445.75 438.38,446.66 438.53,446.6 438.67,446.48 438.82,446.29 438.97,445.56 439.11,446.04 439.26,446.45 439.41,447.56 439.55,447.62 439.7,446.71 439.85,447.89 439.99,448.51 440.14,447.21 440.29,446.54 440.43,447.11 440.58,446.66 440.73,447.17 440.87,447.58 441.02,448.8 441.17,448.51 441.32,448.51 441.46,447.59 441.61,448.29 441.76,448.51 441.9,447.89 442.05,447.39 442.2,447.61 442.34,448.09 442.49,448.13 442.64,448.51 442.78,448.54 442.93,447.61 443.08,446.99 443.22,447.75 443.37,446.66 443.52,446.41 443.67,446.1 443.81,445.75 443.96,444.81 444.11,444.15 444.25,444.62 444.4,444.01 444.55,442.85 444.69,442.34 444.84,442.06 444.99,441.25 445.13,441.43 445.28,440.67 445.43,439.87 445.57,438.4 445.72,438.5 445.87,438.51 446.01,435.93 446.16,436.16 446.31,434.47 446.46,433.31 446.6,431.95 446.75,431.22 446.9,429.32 447.04,428.07 447.19,428.03 447.34,425.66 447.48,425.6 447.63,424.34 447.78,421.03 447.92,420.72 448.07,420.6 448.22,418.93 448.36,417.01 448.51,418.18 448.66,422 448.8,423.16 448.95,425.66 449.1,430.11 449.25,433.77 449.39,436.34 449.54,439.87 449.69,440.73 449.83,443.13 449.98,443.57 450.13,436.92 450.27,431.44 450.42,425.66 450.57,420.21 450.71,415.65 450.86,411.12 451.01,404.66 451.15,409.17 451.3,412.87 451.45,418.41 451.59,422.57 451.74,429.29 451.89,435.1 452.04,441.72 452.18,443.77 452.33,445 452.48,445.52 452.62,446.66 452.77,446.8 452.92,447.2 453.06,448.3 453.21,447.89 453.36,448.06 453.5,447.46 453.65,448.92 453.8,447.65 453.94,448.51 454.09,448.02 454.24,446.98 454.39,447.98 454.53,447.19 454.68,446.66 454.83,446.77 454.97,445.9 455.12,444.99 455.27,445.53 455.41,444.81 455.56,444.41 455.71,443.55 455.85,443.81 456,443.89 456.15,443.57 456.29,443.22 456.44,440.92 456.59,439.9 456.73,439.87 456.88,439 457.03,437.52 457.18,434.82 457.32,434.31 457.47,432.4 457.62,430.21 457.76,427.51 457.91,426.05 458.06,424.21 458.2,424.8 458.35,422.57 458.5,421 458.64,420.84 458.79,417.73 458.94,417.01 459.08,417.32 459.23,415.5 459.38,415.16 459.52,417.25 459.67,418.82 459.82,419.78 459.97,422.57 460.11,426.66 460.26,427.61 460.41,431.22 460.55,429.54 460.7,426.58 460.85,425.3 460.99,422.57 461.14,420.68 461.29,418.37 461.43,415.16 461.58,414.37 461.73,414.76 461.87,412.29 462.02,412.07 462.17,412.21 462.31,412.98 462.46,415.36 462.61,415.16 462.76,415.92 462.9,417.07 463.05,418.87 463.2,416.77 463.34,417.03 463.49,414.53 463.64,413.31 463.78,412.77 463.93,410.01 464.08,410.22 464.22,410.32 464.37,413.45 464.52,414.62 464.66,415.16 464.81,413.48 464.96,409.76 465.11,408.37 465.25,405.22 465.4,401.63 465.55,401.55 465.69,397.87 465.84,398.58 465.99,397.93 466.13,396.41 466.28,396.02 466.43,401.37 466.57,406.65 466.72,412.07 466.87,415.86 467.01,421.6 467.16,426.88 467.31,431.22 467.45,435.21 467.6,438.83 467.75,441.72 467.9,440.77 468.04,439.72 468.19,438.09 468.34,436.16 468.48,432.76 468.63,430.07 468.78,425.66 468.92,427.23 469.07,427.71 469.22,429.55 469.36,431.22 469.51,428.8 469.66,425.06 469.8,419.3 469.95,417.01 470.1,416.37 470.24,412.6 470.39,412.07 470.54,412.65 470.69,412.99 470.83,414.34 470.98,413.31 471.13,410.17 471.27,408.17 471.42,404.66 471.57,402.52 471.71,398.91 471.86,394.87 472.01,390.46 472.15,382.81 472.3,372.13 472.45,365.14 472.59,357.72 472.74,354.02 472.89,361.69 473.03,365.14 473.18,377.7 473.33,389.84 473.48,402.65 473.62,417.01 473.77,431.42 473.92,443.57 474.06,443.76 474.21,444.37 474.36,446.31 474.5,446.66 474.65,447.15 474.8,447.94 474.94,447.9 475.09,447.89 475.24,448.36 475.38,447.35 475.53,447.18 475.68,447.04 475.83,446.66 475.97,445.42 476.12,445.82 476.27,444.74 476.41,444.47 476.56,444.81 476.71,445.25 476.85,445.89 477,446.06 477.15,446.87 477.29,446.66 477.44,445.48 477.59,444.93 477.73,444.77 477.88,444.81 478.03,443.94 478.17,443.44 478.32,442.75 478.47,441.72 478.62,442.43 478.76,443.97 478.91,444.81 479.06,445.26 479.2,446.37 479.35,445.93 479.5,446.66 479.64,447.77 479.79,447.92 479.94,448.15 480.08,447.89 480.23,446.69 480.38,445.73 480.52,444.81 480.67,443.75 480.82,443.71 480.96,441.65 481.11,441.72 481.26,441.27 481.41,441.23 481.55,439.87 481.7,438.58 481.85,437.04 481.99,437.4 482.14,436.16 482.29,435.03 482.43,434.97 482.58,434.31 482.73,435.33 482.87,436.5 483.02,438.53 483.17,439.87 483.31,441.33 483.46,443.21 483.61,444.33 483.76,444.81 483.9,445.53 484.05,446.7 484.2,448.51 484.34,447.57 484.49,446.69 484.64,445.5 484.78,444.81 484.93,443.07 485.08,440.58 485.22,438.01 485.37,436.86 485.52,435.1 485.66,432.05 485.81,431.22 485.96,429 486.1,425.41 486.25,423.81 486.4,422.56 486.55,421.35 486.69,420.84 486.84,418.87 486.99,416.96 487.13,418.02 487.28,414.97 487.43,415.16 487.57,415.02 487.72,412.5 487.87,412.69 488.01,414.26 488.16,418.97 488.31,421.79 488.45,423.81 488.6,428.04 488.75,431.89 488.89,434.31 489.04,431.3 489.19,430.72 489.34,428.97 489.48,425.66 489.63,423.37 489.78,420.3 489.92,418.87 490.07,420.3 490.22,421.69 490.36,421.34 490.51,422.57 490.66,424.67 490.8,428.76 490.95,430.2 491.1,433.07 491.24,435.95 491.39,438.54 491.54,441.72 491.68,442.13 491.83,443.65 491.98,443.43 492.13,444.81 492.27,445.06 492.42,445.44 492.57,446.66 492.71,445.87 492.86,446.07 493.01,444.46 493.15,444.81 493.3,444.96 493.45,443.57 493.59,443.57 493.74,443.82 493.89,444.95 494.03,445.48 494.18,446.66 494.33,446.43 494.48,445.96 494.62,444.35 494.77,443.57 494.92,444.27 495.06,444.78 495.21,444.81 495.36,443 495.5,441.01 495.65,439.4 495.8,438.01 495.94,435.31 496.09,432.66 496.24,431.22 496.38,429.23 496.53,427.36 496.68,427.86 496.82,425.66 496.97,424.24 497.12,423.51 497.27,420.72 497.41,420.38 497.56,421.49 497.71,423.68 497.85,423.81 498,427.08 498.15,429.11 498.29,432.37 498.44,436.16 498.59,438.09 498.73,441.21 498.88,443.57 499.03,442.25 499.17,442.32 499.32,440.3 499.47,439.87 499.61,437.7 499.76,434.54 499.91,431.22 500.06,428.74 500.2,427.41 500.35,423.71 500.5,422.57 500.64,420.41 500.79,418.55 500.94,415.16 501.08,417.97 501.23,419.88 501.38,422.83 501.52,425.66 501.67,429.49 501.82,433.67 501.96,436.71 502.11,441.72 502.26,439.04 502.4,438.6 502.55,436.16 502.7,432.61 502.85,431.97 502.99,429.2 503.14,425.66 503.29,422.64 503.43,417.74 503.58,413.31 503.73,411.06 503.87,409.36 504.02,404.8 504.17,402.81 504.31,402.9 504.46,401.5 504.61,400.96 504.75,405.07 504.9,407.86 505.05,412.61 505.2,417.01 505.34,419.31 505.49,424.7 505.64,428.58 505.78,431.22 505.93,435.82 506.08,441.72 506.22,438.65 506.37,435.47 506.52,434.65 506.66,431.22 506.81,425.61 506.96,422.12 507.1,417.01 507.25,414.67 507.4,409.72 507.54,407.73 507.69,402.81 507.84,396.98 507.99,392.93 508.13,387.37 508.28,389.55 508.43,389.26 508.57,391.78 508.72,394.16 508.87,401.29 509.01,406.71 509.16,413.31 509.31,417.29 509.45,420.49 509.6,425.1 509.75,427.51 509.89,430.06 510.04,431.79 510.19,434.24 510.33,436.16 510.48,435.84 510.63,438.26 510.78,438.01 510.92,438.07 511.07,438.76 511.22,439.94 511.36,439.87 511.51,440.97 511.66,440.41 511.8,441.72 511.95,441.58 512.1,443.18 512.24,443.09 512.39,443.57 512.54,444.5 512.68,444.21 512.83,444.19 512.98,443.26 513.13,442.85 513.27,441.76 513.42,441.72 513.57,441.02 513.71,439.19 513.86,439.23 514.01,438.01 514.15,437.02 514.3,434.02 514.45,433.07 514.59,432.95 514.74,431.99 514.89,429.74 515.03,429.37 515.18,427.1 515.33,427.26 515.47,425.66 515.62,428 515.77,429.24 515.92,430.94 516.06,431.22 516.21,432.91 516.36,435.17 516.5,438.01 516.65,435.2 516.8,434.12 516.94,431.38 517.09,429.37 517.24,428.42 517.38,427.57 517.53,426.4 517.68,423.81 517.82,421.27 517.97,419.35 518.12,418.87 518.26,419.08 518.41,416.9 518.56,415.96 518.71,415.16 518.85,417.65 519,419.9 519.15,420.72 519.29,421.21 519.44,424.46 519.59,424.94 519.73,427.51 519.88,425.72 520.03,424.31 520.17,423.81 520.32,423.65 520.47,422.54 520.61,421.03 520.76,418.87 520.91,417.27 521.05,416.89 521.2,416.27 521.35,415.16 521.5,415.7 521.64,415.92 521.79,417.01 521.94,417.15 522.08,415.85 522.23,414.1 522.38,413.31 522.52,413.08 522.67,415.85 522.82,415.16 522.96,413.82 523.11,413.32 523.26,412.13 523.4,410.84 523.55,409.79 523.7,409.32 523.85,408.37 523.99,413.11 524.14,415.64 524.29,421.1 524.43,423.81 524.58,420.83 524.73,416.11 524.87,413.48 525.02,408.37 525.17,402.25 525.31,399.25 525.46,394.16 525.61,391.43 525.75,385.69 525.9,382.69 526.05,379.96 526.19,383.84 526.34,383.51 526.49,387.41 526.64,390.46 526.78,403 526.93,417.3 527.08,429.37 527.22,423.9 527.37,419.99 527.52,415.16 527.66,413.01 527.81,412.81 527.96,412.52 528.1,410.22 528.25,408.73 528.4,407.82 528.54,406.29 528.69,404.66 528.84,410.88 528.98,417.96 529.13,425.66 529.28,429.48 529.43,434.49 529.57,439.76 529.72,443.57 529.87,444.61 530.01,445.03 530.16,446.66 530.31,446.29 530.45,445.53 530.6,446.08 530.75,444.81 530.89,444.94 531.04,446.92 531.19,446.66 531.33,447.11 531.48,446.02 531.63,445.42" fill="none" stroke="#ff7f0e" stroke-width="1.3" stroke-linejoin="round"/>
</g>
<rect x="300.5" y="331.35" width="242.2" height="125.45" class="fr"/>
<line x1="311.5" y1="456.8" x2="311.5" y2="459" class="tk"/>
<text x="311.5" y="466.2" class="tl" text-anchor="middle">0</text>
<line x1="340.87" y1="456.8" x2="340.87" y2="459" class="tk"/>
<text x="340.87" y="466.2" class="tl" text-anchor="middle">200</text>
<line x1="370.24" y1="456.8" x2="370.24" y2="459" class="tk"/>
<text x="370.24" y="466.2" class="tl" text-anchor="middle">400</text>
<line x1="399.61" y1="456.8" x2="399.61" y2="459" class="tk"/>
<text x="399.61" y="466.2" class="tl" text-anchor="middle">600</text>
<line x1="428.98" y1="456.8" x2="428.98" y2="459" class="tk"/>
<text x="428.98" y="466.2" class="tl" text-anchor="middle">800</text>
<line x1="458.35" y1="456.8" x2="458.35" y2="459" class="tk"/>
<text x="458.35" y="466.2" class="tl" text-anchor="middle">1000</text>
<line x1="487.72" y1="456.8" x2="487.72" y2="459" class="tk"/>
<text x="487.72" y="466.2" class="tl" text-anchor="middle">1200</text>
<line x1="517.09" y1="456.8" x2="517.09" y2="459" class="tk"/>
<text x="517.09" y="466.2" class="tl" text-anchor="middle">1400</text>
<line x1="298.3" y1="451.6" x2="300.5" y2="451.6" class="tk"/>
<text x="296.8" y="454.2" class="tl" text-anchor="end">0</text>
<line x1="298.3" y1="436.16" x2="300.5" y2="436.16" class="tk"/>
<text x="296.8" y="438.76" class="tl" text-anchor="end">25</text>
<line x1="298.3" y1="420.72" x2="300.5" y2="420.72" class="tk"/>
<text x="296.8" y="423.32" class="tl" text-anchor="end">50</text>
<line x1="298.3" y1="405.28" x2="300.5" y2="405.28" class="tk"/>
<text x="296.8" y="407.88" class="tl" text-anchor="end">75</text>
<line x1="298.3" y1="389.84" x2="300.5" y2="389.84" class="tk"/>
<text x="296.8" y="392.44" class="tl" text-anchor="end">100</text>
<line x1="298.3" y1="374.4" x2="300.5" y2="374.4" class="tk"/>
<text x="296.8" y="377" class="tl" text-anchor="end">125</text>
<line x1="298.3" y1="358.96" x2="300.5" y2="358.96" class="tk"/>
<text x="296.8" y="361.56" class="tl" text-anchor="end">150</text>
<line x1="298.3" y1="343.52" x2="300.5" y2="343.52" class="tk"/>
<text x="296.8" y="346.12" class="tl" text-anchor="end">175</text>
<text x="421.6" y="328.25" class="tt" text-anchor="middle">nongzhanguan Station</text>
<text x="421.6" y="474.6" class="xl" text-anchor="middle">Time (hourly)</text>
<text transform="translate(283.2,394.08) rotate(-90)" class="yl" text-anchor="middle">PM<tspan font-size="4.6" dy="1.3">2.5</tspan><tspan dy="-1.3"> (</tspan><tspan class="mu">&#956;g/m</tspan><tspan class="mu3" dy="-2.7">3</tspan><tspan dy="2.7">)</tspan></text>
<rect x="490.2" y="334.35" width="49.2" height="20.3" rx="1.3" class="lg"/>
<line x1="492.1" y1="339.45" x2="505.5" y2="339.45" stroke="#1f77b4" stroke-width="1.6" stroke-dasharray="3.6 1.3"/>
<line x1="492.1" y1="348.55" x2="505.5" y2="348.55" stroke="#ff7f0e" stroke-width="1.6"/>
<text x="511" y="341.55" class="lt">Truth</text>
<text x="511" y="350.35" class="lt">Prediction</text>
</svg>
</body></html>
